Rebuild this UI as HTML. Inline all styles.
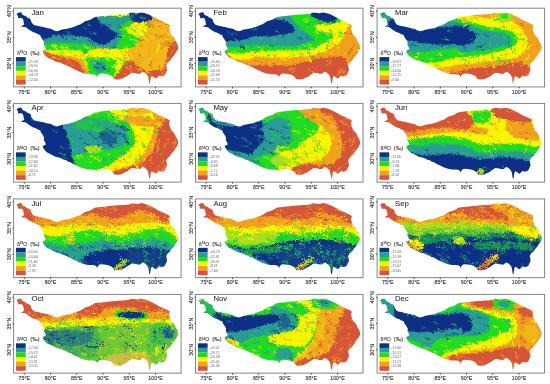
<!DOCTYPE html>
<html><head><meta charset="utf-8"><style>
html,body{margin:0;padding:0;background:#fff;width:550px;height:384px;overflow:hidden}
svg{display:block}
text{font-family:"Liberation Sans",Arial,sans-serif}
.tl{font-size:5.3px;fill:#333;stroke:#333;stroke-width:0.12px}
.ml{font-size:7.7px;fill:#1e1e1e;stroke:#1e1e1e;stroke-width:0.05px}
.lt{font-size:5.2px;fill:#2a2a2a;stroke:#2a2a2a;stroke-width:0.08px}
.ll{font-size:3.5px;fill:#8a8a8a;stroke:#9a9a9a;stroke-width:0.08px}
</style></head><body>
<svg width="550" height="384" viewBox="0 0 550 384">
<defs>
<filter id="nz" x="-5%" y="-5%" width="110%" height="110%" color-interpolation-filters="sRGB"><feTurbulence type="fractalNoise" baseFrequency="0.55" numOctaves="2" seed="7" result="t"/><feDisplacementMap in="SourceGraphic" in2="t" scale="4" xChannelSelector="R" yChannelSelector="G" result="d1"/><feTurbulence type="fractalNoise" baseFrequency="0.25" numOctaves="2" seed="13" result="t2"/><feDisplacementMap in="SourceGraphic" in2="t2" scale="9" xChannelSelector="G" yChannelSelector="R" result="d2"/><feTurbulence type="fractalNoise" baseFrequency="0.8" numOctaves="1" seed="5" result="t3"/><feColorMatrix in="t3" type="matrix" values="0 0 0 0 0  0 0 0 0 0  0 0 0 0 0  9 0 0 0 -4.6" result="m"/><feComposite in="d2" in2="m" operator="in" result="d2m"/><feMerge><feMergeNode in="d1"/><feMergeNode in="d2m"/></feMerge></filter>
<filter id="nz2" x="-5%" y="-5%" width="110%" height="110%" color-interpolation-filters="sRGB"><feTurbulence type="fractalNoise" baseFrequency="0.6" numOctaves="2" seed="3" result="t"/><feDisplacementMap in="SourceGraphic" in2="t" scale="5" xChannelSelector="R" yChannelSelector="G" result="d1"/><feTurbulence type="fractalNoise" baseFrequency="0.12 0.35" numOctaves="2" seed="21" result="t2"/><feDisplacementMap in="SourceGraphic" in2="t2" scale="16" xChannelSelector="G" yChannelSelector="R" result="d2"/><feTurbulence type="fractalNoise" baseFrequency="0.7" numOctaves="1" seed="9" result="t3"/><feColorMatrix in="t3" type="matrix" values="0 0 0 0 0  0 0 0 0 0  0 0 0 0 0  9 0 0 0 -4.4" result="m"/><feComposite in="d2" in2="m" operator="in" result="d2m"/><feMerge><feMergeNode in="d1"/><feMergeNode in="d2m"/></feMerge></filter>
<clipPath id="tp"><polygon points="19.0,12.5 20.9,12.2 21.8,13.1 22.1,14.4 24.0,15.6 25.9,16.2 27.1,17.5 29.0,18.1 30.2,19.1 31.2,20.3 30.9,21.6 31.8,22.5 32.8,24.1 34.0,25.0 35.9,25.6 38.0,25.9 41.5,26.7 43.4,27.0 46.5,27.9 49.6,28.6 52.1,29.2 52.8,30.1 55.2,30.8 56.0,31.3 58.9,30.7 61.8,29.6 65.5,28.9 69.1,28.2 72.0,27.5 74.9,26.4 77.8,25.3 80.7,24.2 82.9,22.7 85.1,21.3 88.0,20.5 90.9,19.5 93.1,18.0 95.3,16.9 100.9,16.2 105.3,15.7 111.9,15.1 118.4,14.6 122.8,14.2 126.0,14.1 128.6,13.7 130.4,12.8 133.9,12.8 137.3,13.2 141.7,12.4 145.2,13.2 148.7,14.5 152.2,16.3 154.8,17.6 158.3,19.8 162.6,21.5 166.1,23.3 168.8,24.6 170.1,25.9 169.2,27.2 169.4,29.8 170.3,32.5 171.2,35.0 173.3,36.7 175.0,39.2 175.8,41.7 177.1,43.3 177.9,45.8 178.3,48.3 177.1,50.8 175.4,53.3 173.8,55.8 171.7,58.3 170.0,60.8 167.5,62.7 166.2,65.2 166.7,67.7 167.1,70.2 165.8,72.7 165.0,74.8 163.3,76.0 160.8,76.4 159.6,75.6 157.9,76.8 156.2,78.5 155.0,78.1 153.3,76.8 151.7,76.0 150.8,77.7 150.4,81.0 150.0,83.5 149.2,83.1 148.8,80.2 148.3,77.2 147.5,75.2 145.8,73.5 144.2,72.2 142.5,71.8 141.2,72.7 140.4,73.8 137.5,73.8 134.5,73.1 131.6,72.7 129.5,74.2 126.5,76.4 123.6,77.8 120.7,79.3 117.1,79.6 114.2,79.3 112.7,76.7 110.5,75.3 107.6,74.2 104.0,73.8 101.8,73.5 99.6,73.8 97.8,75.6 97.1,77.5 96.4,75.6 94.5,74.5 91.6,74.2 88.7,74.2 85.8,73.8 82.9,73.1 80.0,72.0 77.1,70.5 74.9,69.5 72.7,68.4 70.5,66.9 68.4,66.5 66.2,65.1 64.0,64.4 60.6,62.8 57.7,62.1 55.5,61.4 52.6,59.9 49.7,58.4 46.8,57.0 44.6,54.8 43.1,52.6 42.7,50.8 44.6,50.0 46.0,48.9 44.9,46.8 43.8,44.6 44.2,42.4 43.1,40.2 41.6,38.0 40.9,37.0 40.2,35.1 37.8,34.2 35.9,33.1 33.4,32.2 31.5,31.2 29.6,30.0 27.8,28.8 26.5,27.5 24.6,26.9 22.5,26.7 20.9,26.4 22.1,25.7 24.3,24.4 23.7,22.5 23.4,20.6 22.8,18.8 20.9,17.8 19.0,18.4 18.1,17.5 17.8,15.6 16.5,14.4 17.5,13.2"/></clipPath>
</defs>

<g transform="translate(0.00,0.00)">
<g clip-path="url(#tp)"><g filter="url(#nz)"><rect x="10" y="5" width="175" height="85" fill="#f0a21e"/>
<polygon points="10.0,0.0 135.0,0.0 135.0,35.0 133.0,42.0 131.0,50.0 131.0,58.0 126.3,63.5 120.0,70.0 113.8,77.5 113.0,85.0 90.0,85.0 88.4,73.1 86.9,66.9 83.8,62.2 79.0,58.3 72.8,56.7 63.4,55.2 54.0,53.6 46.0,51.0 10.0,49.0" fill="#f8f500"/>
<polygon points="10.0,48.0 43.1,50.5 49.4,53.6 55.6,55.2 63.4,57.5 71.2,59.0 77.5,61.4 80.6,65.3 83.0,70.0 85.3,74.0 86.0,85.0 10.0,85.0" fill="#d4553a"/>
<polygon points="113.0,85.0 114.0,79.0 120.7,68.0 125.8,62.0 129.5,60.0 133.0,61.0 139.0,65.0 143.3,68.0 146.0,71.0 150.0,74.0 150.0,85.0" fill="#d4553a"/>
<polygon points="174.0,42.0 170.0,45.6 167.3,49.5 166.7,56.0 166.0,61.2 164.0,66.5 163.0,72.0 160.0,76.0 160.0,85.0 185.0,85.0 185.0,42.0" fill="#d4553a"/>
<polygon points="10.0,0.0 97.0,0.0 97.0,49.5 90.0,49.5 86.0,54.0 83.0,52.0 78.0,50.5 72.0,49.7 65.0,49.5 58.0,50.0 50.0,50.5 43.0,49.5 10.0,49.0" fill="#20dc20"/>
<polygon points="86.0,57.0 95.0,57.2 105.0,57.5 112.0,58.0 116.0,60.0 117.0,66.0 115.0,72.0 113.5,78.0 113.0,85.0 90.0,85.0 89.0,75.0 88.0,66.0" fill="#20dc20"/>
<polygon points="93.0,61.0 100.0,60.0 105.0,62.0 106.0,67.0 103.0,72.0 97.0,73.0 93.0,68.0" fill="#2a9c96"/>
<polygon points="128.0,36.0 140.0,34.0 155.0,38.0 166.0,42.0 166.0,60.0 160.0,70.0 148.0,72.0 135.0,64.0 128.0,55.0" fill="#f0b818"/>
<polygon points="122.0,24.0 135.0,22.0 145.0,22.0 150.0,24.0 148.0,30.0 145.0,35.0 138.0,38.0 130.0,40.0 125.0,40.0" fill="#f8f500"/>
<polygon points="145.0,22.0 160.0,22.0 166.0,24.0 168.0,30.0 165.0,34.0 155.0,36.0 145.0,35.0 148.0,30.0" fill="#f0b818"/>
<polygon points="146.0,74.0 152.0,70.0 160.0,70.0 165.0,72.0 165.0,80.0 146.0,80.0" fill="#d4553a"/>
<polygon points="111.0,21.0 125.0,20.0 132.0,17.0 135.0,22.0 130.0,26.0 125.0,28.0 127.0,33.0 137.0,36.0 139.0,42.0 135.0,47.0 125.0,49.0 113.0,49.0 113.0,40.0" fill="#20dc20"/>
<polygon points="10.0,0.0 97.0,0.0 97.0,20.0 110.0,25.0 115.0,35.0 115.0,44.0 110.0,48.0 100.0,47.0 91.6,45.8 83.8,44.2 74.4,43.4 65.0,42.7 55.6,43.4 44.7,43.4 40.0,42.0 10.0,42.0" fill="#2a9c96"/>
<polygon points="94.7,15.9 132.2,15.9 128.7,21.7 122.8,25.2 118.1,26.4 121.6,33.4 120.5,39.3 117.0,45.2 113.4,48.7 100.0,48.0 92.0,46.0 92.0,16.0" fill="#2a9c96"/>
<polygon points="10.0,0.0 97.0,0.0 97.0,19.4 101.7,22.9 107.6,27.6 113.4,31.1 118.1,34.6 115.8,38.1 111.1,40.5 106.4,44.0 101.7,45.2 95.9,42.8 90.0,38.0 83.8,36.5 77.5,36.0 71.2,35.5 65.0,35.5 58.8,35.0 52.5,36.0 46.2,37.5 44.0,40.0 42.0,42.0 10.0,42.0" fill="#0d2f86"/>
<polygon points="129.0,10.0 153.0,10.0 152.2,18.5 150.4,21.1 145.2,21.5 139.1,22.0 133.9,21.5 131.2,19.3 129.0,16.0" fill="#0d2f86"/>
<path d="M163.3,72.9l-2.2,2.9" stroke="#f0a21e" stroke-width="0.9" stroke-linecap="round"/>
<path d="M80.3,54.1l6.2,3.1" stroke="#f0a21e" stroke-width="0.8" stroke-linecap="round"/>
<path d="M126.5,51.6l3.4,5.5" stroke="#f0a21e" stroke-width="1.1" stroke-linecap="round"/>
<path d="M88.1,56.4l2.8,1.4" stroke="#20dc20" stroke-width="0.7" stroke-linecap="round"/>
<path d="M111.6,66.2l3.4,1.3" stroke="#f8f500" stroke-width="1.0" stroke-linecap="round"/>
<path d="M129.2,69.2l1.8,1.8" stroke="#f0a21e" stroke-width="0.8" stroke-linecap="round"/>
<path d="M124.2,72.7l5.1,3.4" stroke="#f0a21e" stroke-width="0.7" stroke-linecap="round"/>
<path d="M131.1,72.1l1.9,1.8" stroke="#f0a21e" stroke-width="1.1" stroke-linecap="round"/>
<path d="M143.0,27.9l2.6,0.6" stroke="#f0a21e" stroke-width="1.1" stroke-linecap="round"/>
<path d="M82.6,59.7l4.8,0.8" stroke="#20dc20" stroke-width="0.6" stroke-linecap="round"/>
<path d="M117.7,25.5l2.9,1.4" stroke="#0d2f86" stroke-width="0.8" stroke-linecap="round"/>
<path d="M175.2,43.8l-1.5,2.8" stroke="#f0a21e" stroke-width="0.9" stroke-linecap="round"/>
<path d="M58.5,58.0l4.1,0.7" stroke="#f0a21e" stroke-width="0.9" stroke-linecap="round"/>
<path d="M116.5,33.0l2.3,1.3" stroke="#0d2f86" stroke-width="0.7" stroke-linecap="round"/>
<path d="M150.4,73.4l-0.1,5.5" stroke="#f0a21e" stroke-width="0.6" stroke-linecap="round"/>
<path d="M123.8,56.9l4.3,5.4" stroke="#20dc20" stroke-width="0.9" stroke-linecap="round"/>
<path d="M144.1,57.5l0.6,3.3" stroke="#f0a21e" stroke-width="0.6" stroke-linecap="round"/>
<path d="M58.2,53.9l5.6,1.7" stroke="#20dc20" stroke-width="0.7" stroke-linecap="round"/>
<path d="M151.4,39.9l2.5,1.4" stroke="#f0a21e" stroke-width="1.0" stroke-linecap="round"/>
<path d="M127.8,63.8l4.0,4.7" stroke="#f0a21e" stroke-width="1.0" stroke-linecap="round"/>
<path d="M89.5,55.0l3.0,0.3" stroke="#f0a21e" stroke-width="0.9" stroke-linecap="round"/>
<path d="M166.0,41.5l-1.5,4.6" stroke="#d4553a" stroke-width="0.8" stroke-linecap="round"/>
<path d="M169.3,41.6l-1.9,4.8" stroke="#d4553a" stroke-width="0.9" stroke-linecap="round"/>
<path d="M48.0,55.0l5.5,2.4" stroke="#f0a21e" stroke-width="0.9" stroke-linecap="round"/>
<path d="M166.4,33.0l3.7,0.3" stroke="#f8f500" stroke-width="0.8" stroke-linecap="round"/>
<path d="M100.1,48.0l6.1,0.7" stroke="#f0a21e" stroke-width="0.7" stroke-linecap="round"/>
<path d="M140.3,43.8l1.2,5.7" stroke="#f0a21e" stroke-width="0.9" stroke-linecap="round"/>
<path d="M154.2,25.1l4.0,0.4" stroke="#f8f500" stroke-width="0.9" stroke-linecap="round"/>
<path d="M162.3,40.3l-0.7,2.7" stroke="#d4553a" stroke-width="1.0" stroke-linecap="round"/>
<path d="M135.5,35.9l4.9,1.2" stroke="#2a9c96" stroke-width="1.0" stroke-linecap="round"/>
<path d="M140.6,17.4l2.6,1.3" stroke="#2a9c96" stroke-width="0.6" stroke-linecap="round"/>
<path d="M63.9,45.5l3.0,0.3" stroke="#f8f500" stroke-width="0.7" stroke-linecap="round"/>
<path d="M88.3,57.8l4.5,0.9" stroke="#f8f500" stroke-width="0.7" stroke-linecap="round"/>
<path d="M101.6,48.2l6.0,0.9" stroke="#f0a21e" stroke-width="1.0" stroke-linecap="round"/>
<path d="M123.8,23.0l4.7,1.3" stroke="#20dc20" stroke-width="0.7" stroke-linecap="round"/>
<path d="M111.8,47.1l5.8,1.1" stroke="#20dc20" stroke-width="1.0" stroke-linecap="round"/>
<path d="M147.8,23.4l6.3,2.1" stroke="#d4553a" stroke-width="1.0" stroke-linecap="round"/>
<path d="M139.1,38.1l4.1,2.3" stroke="#d4553a" stroke-width="1.1" stroke-linecap="round"/>
<path d="M137.9,39.3l5.9,1.2" stroke="#2a9c96" stroke-width="0.8" stroke-linecap="round"/>
<path d="M55.8,58.0l4.2,2.2" stroke="#f0a21e" stroke-width="0.7" stroke-linecap="round"/>
<path d="M149.9,40.7l0.0,2.7" stroke="#f0a21e" stroke-width="1.0" stroke-linecap="round"/>
<path d="M68.0,50.8l3.7,1.3" stroke="#20dc20" stroke-width="0.9" stroke-linecap="round"/>
<path d="M148.6,19.7l2.5,1.3" stroke="#2a9c96" stroke-width="0.8" stroke-linecap="round"/>
<path d="M166.6,34.6l4.8,1.3" stroke="#f8f500" stroke-width="0.8" stroke-linecap="round"/>
<path d="M117.9,37.1l3.1,1.0" stroke="#20dc20" stroke-width="0.9" stroke-linecap="round"/>
<path d="M101.6,67.1l3.5,0.6" stroke="#0d2f86" stroke-width="0.7" stroke-linecap="round"/>
<path d="M82.6,60.4l2.6,1.0" stroke="#20dc20" stroke-width="0.8" stroke-linecap="round"/>
<path d="M143.8,38.5l4.8,2.3" stroke="#f8f500" stroke-width="1.0" stroke-linecap="round"/>
<path d="M97.8,59.8l2.6,0.7" stroke="#f8f500" stroke-width="0.8" stroke-linecap="round"/>
<path d="M121.0,31.6l4.8,1.4" stroke="#2a9c96" stroke-width="0.6" stroke-linecap="round"/>
<path d="M96.8,63.9l5.9,0.6" stroke="#0d2f86" stroke-width="0.7" stroke-linecap="round"/>
<path d="M142.1,44.9l0.5,2.6" stroke="#d4553a" stroke-width="0.9" stroke-linecap="round"/>
<path d="M124.6,58.9l2.7,3.3" stroke="#f0a21e" stroke-width="1.0" stroke-linecap="round"/>
<path d="M133.6,24.7l3.5,1.8" stroke="#f0a21e" stroke-width="0.6" stroke-linecap="round"/>
<path d="M116.6,70.0l5.9,1.2" stroke="#20dc20" stroke-width="1.1" stroke-linecap="round"/>
<path d="M112.8,59.1l3.9,1.1" stroke="#f8f500" stroke-width="1.0" stroke-linecap="round"/>
<path d="M148.1,76.1l0.7,5.0" stroke="#f0a21e" stroke-width="0.7" stroke-linecap="round"/>
<path d="M166.0,24.5l4.6,1.1" stroke="#d4553a" stroke-width="0.8" stroke-linecap="round"/>
<path d="M115.1,57.2l5.3,2.3" stroke="#20dc20" stroke-width="0.7" stroke-linecap="round"/>
<path d="M132.9,55.5l1.5,3.1" stroke="#f0a21e" stroke-width="0.7" stroke-linecap="round"/>
<path d="M132.8,13.4l5.8,0.6" stroke="#2a9c96" stroke-width="1.1" stroke-linecap="round"/>
<path d="M156.6,25.5l3.6,1.4" stroke="#f8f500" stroke-width="0.8" stroke-linecap="round"/>
<path d="M113.0,67.0l3.7,0.6" stroke="#f8f500" stroke-width="1.0" stroke-linecap="round"/>
<path d="M162.9,58.1l-1.1,2.8" stroke="#f0a21e" stroke-width="0.7" stroke-linecap="round"/>
<path d="M130.6,54.6l2.3,4.3" stroke="#f8f500" stroke-width="0.9" stroke-linecap="round"/>
<path d="M139.1,40.8l1.4,6.2" stroke="#f0a21e" stroke-width="0.8" stroke-linecap="round"/>
<path d="M60.0,47.1l4.4,0.4" stroke="#f8f500" stroke-width="0.9" stroke-linecap="round"/>
<path d="M164.1,38.8l5.8,1.1" stroke="#f8f500" stroke-width="0.8" stroke-linecap="round"/>
<path d="M160.2,39.8l3.2,0.4" stroke="#f8f500" stroke-width="0.8" stroke-linecap="round"/>
<path d="M139.2,68.0l2.4,4.8" stroke="#f0a21e" stroke-width="1.1" stroke-linecap="round"/>
<path d="M150.0,31.5l3.0,1.7" stroke="#f0a21e" stroke-width="0.7" stroke-linecap="round"/>
<path d="M130.6,26.2l6.3,0.6" stroke="#f0a21e" stroke-width="0.7" stroke-linecap="round"/>
<path d="M121.6,60.1l4.5,4.8" stroke="#20dc20" stroke-width="1.1" stroke-linecap="round"/>
<path d="M147.4,24.8l6.2,2.6" stroke="#d4553a" stroke-width="1.0" stroke-linecap="round"/>
<path d="M131.1,67.0l1.6,1.9" stroke="#f0a21e" stroke-width="0.8" stroke-linecap="round"/>
<path d="M122.5,35.4l5.7,1.3" stroke="#f8f500" stroke-width="0.9" stroke-linecap="round"/>
<path d="M135.8,28.3l6.4,2.4" stroke="#f0a21e" stroke-width="0.9" stroke-linecap="round"/>
<path d="M120.6,63.4l2.9,2.6" stroke="#20dc20" stroke-width="0.6" stroke-linecap="round"/>
<path d="M87.4,60.3l6.5,2.6" stroke="#2a9c96" stroke-width="1.0" stroke-linecap="round"/>
<path d="M134.8,23.1l6.0,1.8" stroke="#f0a21e" stroke-width="0.7" stroke-linecap="round"/>
<path d="M121.6,51.4l3.6,5.0" stroke="#f0a21e" stroke-width="1.1" stroke-linecap="round"/>
<path d="M141.5,59.0l0.9,3.2" stroke="#f0a21e" stroke-width="0.6" stroke-linecap="round"/>
<path d="M82.7,45.5l5.5,2.0" stroke="#f8f500" stroke-width="0.9" stroke-linecap="round"/>
<path d="M134.1,41.4l1.5,4.6" stroke="#f8f500" stroke-width="0.6" stroke-linecap="round"/>
<path d="M71.8,38.3l3.7,0.9" stroke="#0d2f86" stroke-width="1.0" stroke-linecap="round"/>
<path d="M150.9,24.7l3.5,1.5" stroke="#f0a21e" stroke-width="1.1" stroke-linecap="round"/>
<path d="M149.6,52.5l0.0,3.3" stroke="#f0a21e" stroke-width="0.7" stroke-linecap="round"/>
<path d="M119.0,36.5l2.8,0.8" stroke="#0d2f86" stroke-width="1.0" stroke-linecap="round"/>
<path d="M149.4,54.9l0.0,2.5" stroke="#f0a21e" stroke-width="0.7" stroke-linecap="round"/>
<path d="M102.0,67.7l5.5,2.8" stroke="#0d2f86" stroke-width="1.0" stroke-linecap="round"/>
<path d="M141.7,37.8l2.4,1.0" stroke="#f8f500" stroke-width="0.9" stroke-linecap="round"/>
<path d="M126.8,46.0l2.0,3.7" stroke="#f8f500" stroke-width="0.6" stroke-linecap="round"/>
<path d="M108.3,23.8l2.5,1.4" stroke="#0d2f86" stroke-width="0.9" stroke-linecap="round"/>
<path d="M122.1,30.1l2.7,0.3" stroke="#f8f500" stroke-width="0.6" stroke-linecap="round"/>
<path d="M138.0,51.5l1.8,5.7" stroke="#f0a21e" stroke-width="0.7" stroke-linecap="round"/>
<path d="M142.6,31.4l2.8,1.2" stroke="#20dc20" stroke-width="0.9" stroke-linecap="round"/>
<path d="M162.4,44.6l-1.2,4.2" stroke="#d4553a" stroke-width="0.7" stroke-linecap="round"/>
<path d="M116.4,16.8l5.2,1.1" stroke="#20dc20" stroke-width="0.7" stroke-linecap="round"/>
<path d="M27.4,17.8l5.6,2.1" stroke="#20dc20" stroke-width="1.1" stroke-linecap="round"/>
<path d="M137.1,42.0l0.7,2.7" stroke="#f8f500" stroke-width="1.0" stroke-linecap="round"/>
<path d="M63.9,47.7l4.3,1.3" stroke="#f8f500" stroke-width="0.8" stroke-linecap="round"/>
<path d="M114.6,16.5l3.0,1.4" stroke="#20dc20" stroke-width="0.9" stroke-linecap="round"/>
<path d="M133.3,35.2l4.7,1.6" stroke="#f8f500" stroke-width="0.9" stroke-linecap="round"/>
<path d="M74.8,55.3l2.6,0.9" stroke="#20dc20" stroke-width="0.7" stroke-linecap="round"/>
<path d="M135.6,32.3l3.3,0.7" stroke="#20dc20" stroke-width="0.8" stroke-linecap="round"/>
<path d="M90.7,58.2l5.7,0.8" stroke="#f8f500" stroke-width="0.9" stroke-linecap="round"/>
<path d="M85.6,59.0l4.6,2.2" stroke="#20dc20" stroke-width="0.8" stroke-linecap="round"/>
<path d="M126.3,51.6l3.0,4.9" stroke="#f0a21e" stroke-width="0.9" stroke-linecap="round"/>
<path d="M90.0,32.7l6.0,1.4" stroke="#2a9c96" stroke-width="0.9" stroke-linecap="round"/>
<path d="M150.4,36.9l3.5,0.4" stroke="#f8f500" stroke-width="0.8" stroke-linecap="round"/>
<path d="M121.8,58.4l3.1,3.5" stroke="#f0a21e" stroke-width="0.9" stroke-linecap="round"/>
<path d="M134.0,60.8l2.0,3.6" stroke="#f0a21e" stroke-width="0.8" stroke-linecap="round"/>
<path d="M166.4,64.3l-2.8,4.4" stroke="#f0a21e" stroke-width="0.9" stroke-linecap="round"/>
<path d="M142.4,43.9l0.4,2.7" stroke="#f0a21e" stroke-width="1.0" stroke-linecap="round"/>
<path d="M82.4,43.0l2.4,0.6" stroke="#20dc20" stroke-width="0.7" stroke-linecap="round"/>
<path d="M71.5,65.5l2.5,0.7" stroke="#f0a21e" stroke-width="0.7" stroke-linecap="round"/>
<path d="M154.6,57.6l-0.4,2.6" stroke="#f0a21e" stroke-width="0.8" stroke-linecap="round"/>
<path d="M109.3,16.9l3.6,2.1" stroke="#20dc20" stroke-width="0.8" stroke-linecap="round"/>
<path d="M157.9,47.7l-0.8,4.4" stroke="#f8f500" stroke-width="0.9" stroke-linecap="round"/>
<path d="M119.0,50.5l2.4,3.0" stroke="#f0a21e" stroke-width="0.9" stroke-linecap="round"/>
<path d="M156.5,20.3l5.3,1.2" stroke="#d4553a" stroke-width="0.9" stroke-linecap="round"/>
<path d="M82.1,68.1l3.6,0.6" stroke="#f8f500" stroke-width="1.0" stroke-linecap="round"/>
<path d="M98.6,47.9l3.1,1.5" stroke="#f0a21e" stroke-width="0.9" stroke-linecap="round"/>
<path d="M131.2,28.6l5.5,2.3" stroke="#20dc20" stroke-width="0.9" stroke-linecap="round"/>
<path d="M67.8,62.3l4.2,1.4" stroke="#f0a21e" stroke-width="1.0" stroke-linecap="round"/>
<path d="M55.3,42.2l2.7,0.6" stroke="#20dc20" stroke-width="0.7" stroke-linecap="round"/>
<path d="M87.4,57.0l6.3,2.1" stroke="#20dc20" stroke-width="1.0" stroke-linecap="round"/>
<path d="M164.0,43.7l-1.7,5.6" stroke="#f0a21e" stroke-width="1.0" stroke-linecap="round"/>
<path d="M85.7,45.1l3.2,0.7" stroke="#2a9c96" stroke-width="0.8" stroke-linecap="round"/>
<path d="M151.0,62.1l-0.2,5.6" stroke="#d4553a" stroke-width="1.1" stroke-linecap="round"/>
<path d="M103.3,50.9l5.2,2.4" stroke="#20dc20" stroke-width="0.8" stroke-linecap="round"/>
<path d="M144.8,25.2l6.1,1.4" stroke="#20dc20" stroke-width="1.0" stroke-linecap="round"/>
<path d="M124.7,46.0l2.5,4.3" stroke="#f8f500" stroke-width="0.7" stroke-linecap="round"/>
<path d="M88.3,39.9l5.3,2.7" stroke="#0d2f86" stroke-width="0.9" stroke-linecap="round"/>
<path d="M62.1,37.2l4.7,2.2" stroke="#0d2f86" stroke-width="0.9" stroke-linecap="round"/>
<path d="M155.3,34.4l6.6,1.7" stroke="#d4553a" stroke-width="1.0" stroke-linecap="round"/>
<path d="M145.8,68.8l1.1,5.6" stroke="#f0a21e" stroke-width="0.7" stroke-linecap="round"/>
<path d="M167.6,56.8l-2.2,4.1" stroke="#f0a21e" stroke-width="0.7" stroke-linecap="round"/>
<path d="M88.2,71.2l6.4,2.6" stroke="#20dc20" stroke-width="0.7" stroke-linecap="round"/>
<path d="M92.3,62.6l2.9,0.4" stroke="#f8f500" stroke-width="0.7" stroke-linecap="round"/>
<path d="M141.2,17.1l4.2,1.3" stroke="#20dc20" stroke-width="1.0" stroke-linecap="round"/>
<path d="M52.9,46.6l4.9,2.3" stroke="#f8f500" stroke-width="1.1" stroke-linecap="round"/>
<path d="M166.4,25.6l4.4,1.1" stroke="#f8f500" stroke-width="0.9" stroke-linecap="round"/>
<path d="M128.5,15.6l4.7,1.2" stroke="#20dc20" stroke-width="1.0" stroke-linecap="round"/>
<path d="M167.9,47.2l-2.6,6.1" stroke="#f8f500" stroke-width="1.0" stroke-linecap="round"/>
<path d="M130.2,39.1l5.9,1.2" stroke="#f8f500" stroke-width="1.0" stroke-linecap="round"/>
<path d="M83.9,28.1l2.4,0.9" stroke="#20dc20" stroke-width="0.7" stroke-linecap="round"/>
<path d="M87.9,24.5l3.8,1.4" stroke="#2a9c96" stroke-width="0.8" stroke-linecap="round"/>
<path d="M51.2,44.0l4.3,1.9" stroke="#f8f500" stroke-width="0.7" stroke-linecap="round"/>
<path d="M136.6,58.2l1.6,3.9" stroke="#d4553a" stroke-width="0.6" stroke-linecap="round"/>
<path d="M118.4,78.1l5.7,2.1" stroke="#f0a21e" stroke-width="0.7" stroke-linecap="round"/>
<path d="M73.6,47.1l2.5,1.5" stroke="#2a9c96" stroke-width="0.8" stroke-linecap="round"/>
<path d="M105.2,58.8l4.8,2.4" stroke="#f8f500" stroke-width="0.8" stroke-linecap="round"/>
<path d="M95.1,67.0l4.2,2.3" stroke="#0d2f86" stroke-width="0.7" stroke-linecap="round"/>
<path d="M139.2,54.2l1.5,4.8" stroke="#d4553a" stroke-width="0.9" stroke-linecap="round"/>
<path d="M163.6,73.6l-2.2,2.6" stroke="#f0a21e" stroke-width="0.6" stroke-linecap="round"/>
<path d="M125.5,66.4l3.8,3.7" stroke="#f0a21e" stroke-width="1.0" stroke-linecap="round"/>
<path d="M88.0,47.7l2.8,1.2" stroke="#f8f500" stroke-width="0.6" stroke-linecap="round"/>
<path d="M52.6,45.5l3.7,1.0" stroke="#f8f500" stroke-width="1.0" stroke-linecap="round"/>
<path d="M113.9,63.8l4.4,2.0" stroke="#f8f500" stroke-width="1.0" stroke-linecap="round"/>
<path d="M76.8,36.7l4.8,2.7" stroke="#20dc20" stroke-width="0.8" stroke-linecap="round"/>
<path d="M59.8,52.7l4.0,1.0" stroke="#20dc20" stroke-width="0.9" stroke-linecap="round"/>
<path d="M135.7,67.5l2.3,3.7" stroke="#f0a21e" stroke-width="0.9" stroke-linecap="round"/>
<path d="M158.6,26.1l3.8,0.6" stroke="#d4553a" stroke-width="1.0" stroke-linecap="round"/>
<path d="M111.8,47.1l4.9,0.6" stroke="#0d2f86" stroke-width="1.0" stroke-linecap="round"/>
<path d="M142.5,38.6l3.7,2.1" stroke="#f0a21e" stroke-width="0.9" stroke-linecap="round"/>
<path d="M159.3,44.3l-1.0,4.9" stroke="#f8f500" stroke-width="1.0" stroke-linecap="round"/>
<path d="M172.9,50.7l-1.3,2.3" stroke="#f0a21e" stroke-width="1.0" stroke-linecap="round"/>
<path d="M51.6,56.8l4.5,1.2" stroke="#f0a21e" stroke-width="1.1" stroke-linecap="round"/>
<path d="M83.8,43.0l6.0,1.7" stroke="#20dc20" stroke-width="0.7" stroke-linecap="round"/>
<path d="M161.2,63.3l-1.6,3.8" stroke="#f8f500" stroke-width="1.0" stroke-linecap="round"/>
<path d="M160.7,26.2l3.8,1.8" stroke="#f0a21e" stroke-width="0.9" stroke-linecap="round"/>
<path d="M160.3,64.3l-1.8,4.4" stroke="#d4553a" stroke-width="0.8" stroke-linecap="round"/>
<path d="M84.1,51.1l4.8,2.3" stroke="#2a9c96" stroke-width="0.9" stroke-linecap="round"/>
<path d="M148.5,50.9l0.2,5.0" stroke="#f0a21e" stroke-width="0.9" stroke-linecap="round"/>
<path d="M66.0,58.9l4.5,1.5" stroke="#f0a21e" stroke-width="0.9" stroke-linecap="round"/>
<path d="M123.6,55.6l2.8,3.6" stroke="#f0a21e" stroke-width="1.0" stroke-linecap="round"/>
<path d="M102.6,61.3l6.0,2.2" stroke="#20dc20" stroke-width="0.9" stroke-linecap="round"/>
<path d="M66.4,31.6l6.4,2.9" stroke="#2a9c96" stroke-width="0.9" stroke-linecap="round"/>
<path d="M131.0,43.0l1.0,2.5" stroke="#2a9c96" stroke-width="0.9" stroke-linecap="round"/>
</g></g>
<rect x="13.6" y="8.2" width="167.50" height="78.70" fill="none" stroke="#858585" stroke-width="1.0"/>
<path d="M24.30,86.90v1.5M50.55,86.90v1.5M76.80,86.90v1.5M103.05,86.90v1.5M129.30,86.90v1.5M155.55,86.90v1.5M13.60,11.10h-1.1M13.60,37.35h-1.1M13.60,63.60h-1.1" stroke="#222" stroke-width="0.8" fill="none"/>
<text class="tl" x="24.30" y="93.7" text-anchor="middle">75°E</text>
<text class="tl" x="50.55" y="93.7" text-anchor="middle">80°E</text>
<text class="tl" x="76.80" y="93.7" text-anchor="middle">85°E</text>
<text class="tl" x="103.05" y="93.7" text-anchor="middle">90°E</text>
<text class="tl" x="129.30" y="93.7" text-anchor="middle">95°E</text>
<text class="tl" x="155.55" y="93.7" text-anchor="middle">100°E</text>
<text class="tl" transform="translate(10.6,11.10) rotate(-90)" text-anchor="middle">40°N</text>
<text class="tl" transform="translate(10.6,37.35) rotate(-90)" text-anchor="middle">35°N</text>
<text class="tl" transform="translate(10.6,63.60) rotate(-90)" text-anchor="middle">30°N</text>
<text class="ml" x="31.5" y="15.2">Jan</text>
<text class="lt" x="16.9" y="55.0">δ<tspan font-size="3.2px" dy="-1.6">18</tspan><tspan dy="1.6">O</tspan></text><text class="lt" x="30.3" y="55.0" textLength="9.3" lengthAdjust="spacingAndGlyphs">(‰)</text>
<rect x="16.0" y="57.10" width="9.7" height="4.62" fill="#0d2f86"/>
<rect x="16.0" y="61.67" width="9.7" height="4.62" fill="#2a9c96"/>
<rect x="16.0" y="66.24" width="9.7" height="4.62" fill="#20dc20"/>
<rect x="16.0" y="70.81" width="9.7" height="4.62" fill="#f8f500"/>
<rect x="16.0" y="75.38" width="9.7" height="4.62" fill="#f0a21e"/>
<rect x="16.0" y="79.95" width="9.7" height="4.62" fill="#d4553a"/>
<text class="ll" x="27.8" y="62.77">-21.38</text>
<text class="ll" x="27.8" y="67.34">-18.56</text>
<text class="ll" x="27.8" y="71.91">-16.36</text>
<text class="ll" x="27.8" y="76.48">-14.70</text>
<text class="ll" x="27.8" y="81.05">-12.40</text>
</g>
<g transform="translate(181.92,0.00)">
<g clip-path="url(#tp)"><g filter="url(#nz)"><rect x="10" y="5" width="175" height="85" fill="#d4553a"/>
<polygon points="10.0,50.0 44.0,52.0 50.2,59.5 60.5,62.5 68.7,65.6 77.0,65.6 85.2,64.6 96.0,65.5 106.4,65.6 116.7,63.6 129.0,60.5 137.3,57.4 147.6,57.4 157.9,56.4 164.0,58.4 166.1,65.6 168.0,90.0 185.0,90.0 185.0,0.0 10.0,0.0" fill="#f0a21e"/>
<polygon points="10.0,48.0 44.0,50.0 48.1,57.4 58.4,59.5 66.7,59.5 73.2,56.7 85.2,57.4 99.2,58.0 116.7,56.4 125.2,56.7 133.2,54.3 143.5,51.2 151.7,47.1 157.9,42.0 162.0,36.8 164.0,30.6 167.1,24.5 170.0,20.0 172.0,0.0 172.0,0.0 10.0,0.0" fill="#f8f500"/>
<polygon points="10.0,47.0 44.0,52.2 54.3,54.3 64.6,52.2 73.2,51.5 85.2,51.0 99.2,50.2 112.6,50.5 125.2,50.2 133.2,48.9 137.3,45.0 147.6,41.0 151.7,36.8 149.6,32.7 141.4,32.7 135.2,30.6 133.2,26.5 135.2,24.5 147.6,24.5 157.9,22.4 160.0,0.0 160.0,0.0 10.0,0.0" fill="#20dc20"/>
<polygon points="10.0,45.0 44.0,47.1 54.3,47.1 64.6,45.5 73.2,45.0 86.2,45.6 99.2,46.9 112.2,46.2 122.6,43.6 131.7,41.0 133.2,38.9 127.0,34.7 118.8,28.6 112.6,22.4 108.5,16.2 108.0,0.0 108.0,0.0 10.0,0.0" fill="#2a9c96"/>
<polygon points="10.0,0.0 90.0,0.0 92.0,19.0 100.0,20.0 104.4,21.0 110.6,24.5 113.6,30.6 109.6,33.2 99.0,35.0 86.0,36.3 74.0,36.0 64.6,38.9 54.3,40.9 44.0,42.0 10.0,42.0" fill="#0d2f86"/>
<polygon points="129.0,10.0 129.0,16.2 137.3,20.3 145.5,22.4 153.8,21.4 155.8,17.3 155.0,10.0" fill="#0d2f86"/>
<path d="M144.6,34.4l3.3,1.5" stroke="#f8f500" stroke-width="0.9" stroke-linecap="round"/>
<path d="M126.7,44.8l1.9,3.8" stroke="#f8f500" stroke-width="0.9" stroke-linecap="round"/>
<path d="M122.0,44.7l1.4,2.3" stroke="#f8f500" stroke-width="0.9" stroke-linecap="round"/>
<path d="M159.0,68.3l-2.5,6.1" stroke="#f0a21e" stroke-width="1.0" stroke-linecap="round"/>
<path d="M81.1,51.0l5.2,1.7" stroke="#f8f500" stroke-width="0.8" stroke-linecap="round"/>
<path d="M168.8,51.5l-2.3,4.8" stroke="#d4553a" stroke-width="0.7" stroke-linecap="round"/>
<path d="M131.0,56.2l3.1,5.4" stroke="#d4553a" stroke-width="1.0" stroke-linecap="round"/>
<path d="M132.9,33.0l3.8,0.4" stroke="#f8f500" stroke-width="0.7" stroke-linecap="round"/>
<path d="M71.2,49.4l6.1,3.4" stroke="#2a9c96" stroke-width="0.7" stroke-linecap="round"/>
<path d="M58.1,46.0l4.7,1.9" stroke="#0d2f86" stroke-width="1.1" stroke-linecap="round"/>
<path d="M75.4,63.6l6.1,1.7" stroke="#f8f500" stroke-width="0.8" stroke-linecap="round"/>
<path d="M86.9,64.0l4.0,2.0" stroke="#f8f500" stroke-width="0.7" stroke-linecap="round"/>
<path d="M156.4,43.4l-0.8,5.6" stroke="#f8f500" stroke-width="1.0" stroke-linecap="round"/>
<path d="M142.2,35.3l4.6,1.0" stroke="#2a9c96" stroke-width="0.9" stroke-linecap="round"/>
<path d="M123.7,47.7l3.4,5.5" stroke="#2a9c96" stroke-width="1.1" stroke-linecap="round"/>
<path d="M122.7,17.9l3.7,2.1" stroke="#f8f500" stroke-width="1.1" stroke-linecap="round"/>
<path d="M106.9,69.2l4.4,2.5" stroke="#f0a21e" stroke-width="1.1" stroke-linecap="round"/>
<path d="M136.9,51.3l1.8,5.2" stroke="#20dc20" stroke-width="0.9" stroke-linecap="round"/>
<path d="M136.8,23.0l3.2,1.5" stroke="#2a9c96" stroke-width="1.1" stroke-linecap="round"/>
<path d="M164.7,72.7l-4.2,5.0" stroke="#f0a21e" stroke-width="0.9" stroke-linecap="round"/>
<path d="M153.5,44.1l-0.2,2.9" stroke="#f0a21e" stroke-width="0.9" stroke-linecap="round"/>
<path d="M127.8,54.6l2.2,3.5" stroke="#20dc20" stroke-width="0.9" stroke-linecap="round"/>
<path d="M170.1,47.2l-2.2,4.7" stroke="#d4553a" stroke-width="0.7" stroke-linecap="round"/>
<path d="M75.1,37.5l6.2,1.2" stroke="#20dc20" stroke-width="0.7" stroke-linecap="round"/>
<path d="M147.8,32.1l3.0,0.8" stroke="#f0a21e" stroke-width="1.0" stroke-linecap="round"/>
<path d="M146.3,39.8l4.3,0.6" stroke="#f8f500" stroke-width="1.0" stroke-linecap="round"/>
<path d="M119.4,53.6l2.3,2.8" stroke="#f0a21e" stroke-width="0.9" stroke-linecap="round"/>
<path d="M137.7,30.0l5.1,2.6" stroke="#20dc20" stroke-width="0.9" stroke-linecap="round"/>
<path d="M88.5,45.5l3.2,1.3" stroke="#0d2f86" stroke-width="0.8" stroke-linecap="round"/>
<path d="M54.1,52.0l5.5,3.0" stroke="#f8f500" stroke-width="0.8" stroke-linecap="round"/>
<path d="M52.1,38.8l4.2,2.0" stroke="#20dc20" stroke-width="0.6" stroke-linecap="round"/>
<path d="M177.3,48.6l-3.7,5.6" stroke="#d4553a" stroke-width="0.8" stroke-linecap="round"/>
<path d="M156.9,32.6l5.3,1.5" stroke="#20dc20" stroke-width="1.0" stroke-linecap="round"/>
<path d="M87.1,65.3l2.7,1.0" stroke="#f0a21e" stroke-width="0.7" stroke-linecap="round"/>
<path d="M82.8,54.2l4.9,1.5" stroke="#20dc20" stroke-width="1.0" stroke-linecap="round"/>
<path d="M147.4,29.9l2.5,1.1" stroke="#20dc20" stroke-width="1.0" stroke-linecap="round"/>
<path d="M115.6,53.7l4.7,1.2" stroke="#20dc20" stroke-width="0.7" stroke-linecap="round"/>
<path d="M100.9,18.4l4.3,1.0" stroke="#20dc20" stroke-width="0.7" stroke-linecap="round"/>
<path d="M148.9,51.0l0.1,3.9" stroke="#f8f500" stroke-width="0.9" stroke-linecap="round"/>
<path d="M150.0,41.1l-0.0,3.9" stroke="#f0a21e" stroke-width="1.0" stroke-linecap="round"/>
<path d="M92.6,30.6l5.1,1.4" stroke="#2a9c96" stroke-width="0.9" stroke-linecap="round"/>
<path d="M89.2,38.2l5.9,1.9" stroke="#20dc20" stroke-width="0.8" stroke-linecap="round"/>
<path d="M117.8,48.7l4.3,2.4" stroke="#f8f500" stroke-width="0.7" stroke-linecap="round"/>
<path d="M48.3,52.0l5.7,1.6" stroke="#f8f500" stroke-width="1.0" stroke-linecap="round"/>
<path d="M96.4,56.3l5.8,2.1" stroke="#f0a21e" stroke-width="0.7" stroke-linecap="round"/>
<path d="M122.4,20.4l4.6,2.2" stroke="#f8f500" stroke-width="0.7" stroke-linecap="round"/>
<path d="M109.0,45.7l5.3,2.3" stroke="#20dc20" stroke-width="1.1" stroke-linecap="round"/>
<path d="M115.7,37.8l4.4,1.2" stroke="#0d2f86" stroke-width="0.8" stroke-linecap="round"/>
<path d="M165.9,24.8l4.2,2.0" stroke="#f0a21e" stroke-width="1.1" stroke-linecap="round"/>
<path d="M155.5,35.9l5.4,1.1" stroke="#20dc20" stroke-width="1.1" stroke-linecap="round"/>
<path d="M51.2,33.2l4.4,0.9" stroke="#2a9c96" stroke-width="0.8" stroke-linecap="round"/>
<path d="M130.2,57.2l3.3,5.5" stroke="#d4553a" stroke-width="0.7" stroke-linecap="round"/>
<path d="M163.0,70.1l-2.4,3.8" stroke="#f0a21e" stroke-width="0.8" stroke-linecap="round"/>
<path d="M172.5,44.8l-2.5,5.0" stroke="#d4553a" stroke-width="1.0" stroke-linecap="round"/>
<path d="M168.2,25.9l4.5,2.1" stroke="#f8f500" stroke-width="1.0" stroke-linecap="round"/>
<path d="M116.6,63.6l4.7,0.7" stroke="#d4553a" stroke-width="0.7" stroke-linecap="round"/>
<path d="M152.0,34.4l5.0,1.6" stroke="#f0a21e" stroke-width="0.9" stroke-linecap="round"/>
<path d="M76.3,46.9l4.7,2.0" stroke="#f8f500" stroke-width="0.7" stroke-linecap="round"/>
<path d="M109.5,67.9l4.4,1.3" stroke="#f0a21e" stroke-width="1.0" stroke-linecap="round"/>
<path d="M168.0,50.7l-1.8,3.9" stroke="#d4553a" stroke-width="1.1" stroke-linecap="round"/>
<path d="M90.7,63.8l5.0,2.5" stroke="#d4553a" stroke-width="0.8" stroke-linecap="round"/>
<path d="M70.3,29.1l5.2,1.0" stroke="#2a9c96" stroke-width="0.7" stroke-linecap="round"/>
<path d="M155.6,21.2l3.4,0.6" stroke="#2a9c96" stroke-width="0.7" stroke-linecap="round"/>
<path d="M124.3,23.7l4.4,0.9" stroke="#2a9c96" stroke-width="1.0" stroke-linecap="round"/>
<path d="M160.5,69.2l-2.9,5.8" stroke="#f0a21e" stroke-width="0.8" stroke-linecap="round"/>
<path d="M148.3,49.5l0.2,5.4" stroke="#d4553a" stroke-width="0.7" stroke-linecap="round"/>
<path d="M92.2,55.2l3.0,0.5" stroke="#20dc20" stroke-width="1.0" stroke-linecap="round"/>
<path d="M107.8,53.5l4.7,2.5" stroke="#20dc20" stroke-width="0.7" stroke-linecap="round"/>
<path d="M129.5,71.7l3.8,3.4" stroke="#f0a21e" stroke-width="1.0" stroke-linecap="round"/>
<path d="M126.4,68.4l2.4,2.2" stroke="#f0a21e" stroke-width="0.8" stroke-linecap="round"/>
<path d="M146.2,40.3l0.4,5.1" stroke="#2a9c96" stroke-width="0.7" stroke-linecap="round"/>
<path d="M144.8,42.2l0.5,4.9" stroke="#f0a21e" stroke-width="0.7" stroke-linecap="round"/>
<path d="M176.7,49.4l-2.1,3.2" stroke="#f8f500" stroke-width="1.0" stroke-linecap="round"/>
<path d="M163.4,32.9l6.7,0.6" stroke="#d4553a" stroke-width="0.7" stroke-linecap="round"/>
<path d="M145.0,59.4l1.0,5.9" stroke="#f0a21e" stroke-width="0.7" stroke-linecap="round"/>
<path d="M45.2,51.4l2.6,1.2" stroke="#2a9c96" stroke-width="0.8" stroke-linecap="round"/>
<path d="M126.1,57.3l3.3,4.5" stroke="#f8f500" stroke-width="1.1" stroke-linecap="round"/>
<path d="M73.4,60.3l4.0,1.1" stroke="#d4553a" stroke-width="0.7" stroke-linecap="round"/>
<path d="M153.7,22.9l2.8,1.5" stroke="#f8f500" stroke-width="0.8" stroke-linecap="round"/>
<path d="M146.9,56.2l0.5,5.9" stroke="#d4553a" stroke-width="0.7" stroke-linecap="round"/>
<path d="M125.1,35.7l2.4,1.3" stroke="#0d2f86" stroke-width="0.8" stroke-linecap="round"/>
<path d="M68.2,54.9l5.7,1.7" stroke="#f0a21e" stroke-width="0.8" stroke-linecap="round"/>
<path d="M128.3,44.0l2.8,5.9" stroke="#f8f500" stroke-width="0.7" stroke-linecap="round"/>
<path d="M104.9,73.6l6.3,3.1" stroke="#f0a21e" stroke-width="0.8" stroke-linecap="round"/>
<path d="M171.5,55.6l-3.7,5.9" stroke="#d4553a" stroke-width="0.8" stroke-linecap="round"/>
<path d="M78.2,63.0l3.7,1.9" stroke="#d4553a" stroke-width="0.8" stroke-linecap="round"/>
<path d="M148.0,59.2l0.3,5.1" stroke="#f0a21e" stroke-width="0.9" stroke-linecap="round"/>
<path d="M145.1,46.0l0.4,3.4" stroke="#20dc20" stroke-width="1.0" stroke-linecap="round"/>
<path d="M46.2,32.6l4.5,1.9" stroke="#2a9c96" stroke-width="0.8" stroke-linecap="round"/>
<path d="M98.8,58.8l6.0,0.8" stroke="#f8f500" stroke-width="0.8" stroke-linecap="round"/>
</g></g>
<rect x="13.6" y="8.2" width="167.50" height="78.70" fill="none" stroke="#858585" stroke-width="1.0"/>
<path d="M24.30,86.90v1.5M50.55,86.90v1.5M76.80,86.90v1.5M103.05,86.90v1.5M129.30,86.90v1.5M155.55,86.90v1.5M13.60,11.10h-1.1M13.60,37.35h-1.1M13.60,63.60h-1.1" stroke="#222" stroke-width="0.8" fill="none"/>
<text class="tl" x="24.30" y="93.7" text-anchor="middle">75°E</text>
<text class="tl" x="50.55" y="93.7" text-anchor="middle">80°E</text>
<text class="tl" x="76.80" y="93.7" text-anchor="middle">85°E</text>
<text class="tl" x="103.05" y="93.7" text-anchor="middle">90°E</text>
<text class="tl" x="129.30" y="93.7" text-anchor="middle">95°E</text>
<text class="tl" x="155.55" y="93.7" text-anchor="middle">100°E</text>
<text class="tl" transform="translate(10.6,11.10) rotate(-90)" text-anchor="middle">40°N</text>
<text class="tl" transform="translate(10.6,37.35) rotate(-90)" text-anchor="middle">35°N</text>
<text class="tl" transform="translate(10.6,63.60) rotate(-90)" text-anchor="middle">30°N</text>
<text class="ml" x="31.5" y="15.2">Feb</text>
<text class="lt" x="16.9" y="55.0">δ<tspan font-size="3.2px" dy="-1.6">18</tspan><tspan dy="1.6">O</tspan></text><text class="lt" x="30.3" y="55.0" textLength="9.3" lengthAdjust="spacingAndGlyphs">(‰)</text>
<rect x="16.0" y="57.10" width="9.7" height="4.62" fill="#0d2f86"/>
<rect x="16.0" y="61.67" width="9.7" height="4.62" fill="#2a9c96"/>
<rect x="16.0" y="66.24" width="9.7" height="4.62" fill="#20dc20"/>
<rect x="16.0" y="70.81" width="9.7" height="4.62" fill="#f8f500"/>
<rect x="16.0" y="75.38" width="9.7" height="4.62" fill="#f0a21e"/>
<rect x="16.0" y="79.95" width="9.7" height="4.62" fill="#d4553a"/>
<text class="ll" x="27.8" y="62.77">-23.60</text>
<text class="ll" x="27.8" y="67.34">-20.52</text>
<text class="ll" x="27.8" y="71.91">-18.28</text>
<text class="ll" x="27.8" y="76.48">-15.48</text>
<text class="ll" x="27.8" y="81.05">-12.70</text>
</g>
<g transform="translate(363.50,0.00)">
<g clip-path="url(#tp)"><g filter="url(#nz)"><rect x="10" y="5" width="175" height="85" fill="#d4553a"/>
<polygon points="10.0,90.0 70.0,90.0 73.0,71.8 85.4,73.9 96.4,71.0 112.9,67.7 129.3,66.6 145.8,63.6 158.1,61.5 164.3,65.6 166.4,73.8 168.0,90.0 185.0,90.0 185.0,0.0 10.0,0.0" fill="#f0a21e"/>
<polygon points="10.0,90.0 60.0,90.0 66.9,67.7 79.3,67.7 89.5,65.6 96.4,64.6 117.0,62.5 137.5,60.5 154.0,57.4 162.2,49.2 164.3,38.9 158.1,28.6 150.0,22.0 145.0,18.0 140.0,15.0 135.0,0.0 135.0,0.0 10.0,0.0" fill="#f8f500"/>
<polygon points="105.0,10.0 108.0,16.0 117.0,18.0 129.0,19.0 132.0,16.0 132.0,10.0" fill="#f0a21e"/>
<polygon points="132.0,13.0 148.0,13.0 150.0,18.0 146.0,22.0 138.0,22.0 133.0,19.0" fill="#a8dc20"/>
<polygon points="136.0,14.0 144.0,14.0 145.0,18.0 139.0,19.0" fill="#20dc20"/>
<polygon points="10.0,90.0 44.0,90.0 44.3,57.4 58.7,61.5 71.0,62.5 81.3,60.5 91.6,57.4 96.4,57.4 108.7,56.4 123.1,54.3 137.5,51.2 152.0,46.0 155.0,38.9 149.9,31.7 137.5,28.6 123.1,26.5 108.7,22.4 96.4,19.3 90.0,18.0 85.0,0.0 85.0,0.0 10.0,0.0" fill="#20dc20"/>
<polygon points="10.0,90.0 40.0,90.0 44.3,51.2 54.6,52.2 66.9,51.2 81.3,49.2 91.6,48.1 96.4,52.2 108.7,52.2 123.1,50.2 137.5,47.1 147.8,43.0 147.8,36.8 137.5,32.7 123.1,30.6 108.7,26.5 96.4,23.4 90.0,22.0 85.0,0.0 85.0,0.0 10.0,0.0" fill="#2a9c96"/>
<polygon points="30.0,16.0 33.0,21.0 36.0,25.0 40.0,26.0 50.0,28.0 54.6,30.6 71.0,28.6 83.4,26.5 96.4,26.5 104.6,28.6 110.8,32.7 112.9,37.8 108.7,43.0 102.6,45.0 96.4,46.0 91.6,44.0 79.3,45.0 66.9,44.0 54.6,43.0 44.3,40.9 40.0,40.0 30.0,35.0 24.0,29.0 25.0,22.0" fill="#0d2f86"/>
<path d="M150.0,82.4l-0.0,5.8" stroke="#f0a21e" stroke-width="1.0" stroke-linecap="round"/>
<path d="M155.6,23.3l4.2,1.7" stroke="#d4553a" stroke-width="1.0" stroke-linecap="round"/>
<path d="M141.4,50.0l1.2,5.8" stroke="#f0a21e" stroke-width="1.0" stroke-linecap="round"/>
<path d="M145.5,40.7l0.4,4.7" stroke="#20dc20" stroke-width="1.0" stroke-linecap="round"/>
<path d="M105.7,18.6l3.0,0.7" stroke="#20dc20" stroke-width="0.8" stroke-linecap="round"/>
<path d="M65.8,46.1l4.0,1.6" stroke="#0d2f86" stroke-width="0.6" stroke-linecap="round"/>
<path d="M149.1,62.7l0.1,3.3" stroke="#f8f500" stroke-width="1.0" stroke-linecap="round"/>
<path d="M107.7,51.0l5.8,0.8" stroke="#20dc20" stroke-width="0.9" stroke-linecap="round"/>
<path d="M136.3,35.5l6.2,3.0" stroke="#20dc20" stroke-width="1.1" stroke-linecap="round"/>
<path d="M25.6,18.1l3.8,1.3" stroke="#20dc20" stroke-width="1.0" stroke-linecap="round"/>
<path d="M47.1,44.7l5.7,1.0" stroke="#0d2f86" stroke-width="0.8" stroke-linecap="round"/>
<path d="M166.6,44.0l-2.2,6.0" stroke="#f8f500" stroke-width="0.9" stroke-linecap="round"/>
<path d="M128.0,54.3l2.3,3.7" stroke="#f0a21e" stroke-width="0.7" stroke-linecap="round"/>
<path d="M148.1,44.7l0.2,4.5" stroke="#2a9c96" stroke-width="0.9" stroke-linecap="round"/>
<path d="M99.0,21.5l3.2,0.6" stroke="#f8f500" stroke-width="1.0" stroke-linecap="round"/>
<path d="M137.1,25.1l6.1,2.7" stroke="#20dc20" stroke-width="0.9" stroke-linecap="round"/>
<path d="M94.0,71.0l3.5,1.9" stroke="#d4553a" stroke-width="0.8" stroke-linecap="round"/>
<path d="M130.3,35.2l3.7,1.1" stroke="#20dc20" stroke-width="1.1" stroke-linecap="round"/>
<path d="M70.7,56.5l4.1,1.0" stroke="#2a9c96" stroke-width="0.8" stroke-linecap="round"/>
<path d="M51.4,49.2l5.2,1.4" stroke="#20dc20" stroke-width="0.7" stroke-linecap="round"/>
<path d="M116.9,48.8l2.5,1.2" stroke="#0d2f86" stroke-width="0.9" stroke-linecap="round"/>
<path d="M74.5,53.7l5.1,1.9" stroke="#f8f500" stroke-width="1.0" stroke-linecap="round"/>
<path d="M121.4,43.8l2.4,4.0" stroke="#0d2f86" stroke-width="0.7" stroke-linecap="round"/>
<path d="M109.1,51.8l5.5,0.6" stroke="#20dc20" stroke-width="0.6" stroke-linecap="round"/>
<path d="M149.1,77.0l0.5,7.0" stroke="#f0a21e" stroke-width="1.0" stroke-linecap="round"/>
<path d="M98.4,59.0l3.6,1.4" stroke="#20dc20" stroke-width="1.1" stroke-linecap="round"/>
<path d="M86.5,71.3l2.4,1.0" stroke="#d4553a" stroke-width="0.9" stroke-linecap="round"/>
<path d="M113.3,16.6l5.7,0.9" stroke="#f8f500" stroke-width="0.9" stroke-linecap="round"/>
<path d="M120.5,61.5l3.9,3.8" stroke="#20dc20" stroke-width="0.9" stroke-linecap="round"/>
<path d="M111.4,46.5l6.8,0.9" stroke="#0d2f86" stroke-width="0.7" stroke-linecap="round"/>
<path d="M100.4,64.6l3.2,0.9" stroke="#d4553a" stroke-width="0.6" stroke-linecap="round"/>
<path d="M76.0,26.4l2.8,1.5" stroke="#0d2f86" stroke-width="0.8" stroke-linecap="round"/>
<path d="M106.7,39.0l3.1,0.7" stroke="#2a9c96" stroke-width="0.7" stroke-linecap="round"/>
<path d="M147.8,26.6l5.6,0.9" stroke="#f0a21e" stroke-width="1.0" stroke-linecap="round"/>
<path d="M19.8,16.8l2.8,1.1" stroke="#20dc20" stroke-width="0.8" stroke-linecap="round"/>
<path d="M140.0,60.0l1.0,3.0" stroke="#d4553a" stroke-width="0.7" stroke-linecap="round"/>
<path d="M134.7,58.9l2.6,5.2" stroke="#20dc20" stroke-width="1.0" stroke-linecap="round"/>
<path d="M125.6,43.6l3.1,5.8" stroke="#20dc20" stroke-width="0.7" stroke-linecap="round"/>
<path d="M159.8,35.8l3.0,1.4" stroke="#f0a21e" stroke-width="0.7" stroke-linecap="round"/>
<path d="M166.1,68.8l-3.4,4.5" stroke="#d4553a" stroke-width="0.7" stroke-linecap="round"/>
<path d="M121.0,58.8l2.6,2.8" stroke="#f0a21e" stroke-width="1.0" stroke-linecap="round"/>
<path d="M48.3,54.0l6.9,0.9" stroke="#2a9c96" stroke-width="1.0" stroke-linecap="round"/>
<path d="M124.1,63.2l2.9,3.0" stroke="#d4553a" stroke-width="0.8" stroke-linecap="round"/>
<path d="M77.7,54.6l5.6,1.1" stroke="#2a9c96" stroke-width="1.0" stroke-linecap="round"/>
<path d="M101.9,60.8l4.5,1.2" stroke="#20dc20" stroke-width="0.9" stroke-linecap="round"/>
<path d="M151.3,46.6l-0.2,6.5" stroke="#20dc20" stroke-width="0.9" stroke-linecap="round"/>
<path d="M120.6,34.7l5.9,1.9" stroke="#0d2f86" stroke-width="0.6" stroke-linecap="round"/>
<path d="M130.9,19.2l4.8,0.6" stroke="#20dc20" stroke-width="1.0" stroke-linecap="round"/>
<path d="M127.8,54.6l3.5,5.7" stroke="#20dc20" stroke-width="1.0" stroke-linecap="round"/>
<path d="M150.7,37.2l3.7,1.6" stroke="#f8f500" stroke-width="0.7" stroke-linecap="round"/>
<path d="M174.7,43.7l-2.0,3.7" stroke="#d4553a" stroke-width="0.6" stroke-linecap="round"/>
<path d="M80.0,69.2l6.5,1.1" stroke="#f8f500" stroke-width="0.7" stroke-linecap="round"/>
<path d="M152.6,33.3l4.3,1.5" stroke="#20dc20" stroke-width="0.8" stroke-linecap="round"/>
<path d="M128.9,71.1l3.4,3.0" stroke="#f0a21e" stroke-width="0.9" stroke-linecap="round"/>
<path d="M164.0,43.7l-1.9,6.3" stroke="#f8f500" stroke-width="0.8" stroke-linecap="round"/>
<path d="M72.6,27.4l6.4,1.7" stroke="#0d2f86" stroke-width="0.9" stroke-linecap="round"/>
<path d="M156.4,60.6l-1.1,5.1" stroke="#d4553a" stroke-width="1.1" stroke-linecap="round"/>
<path d="M125.4,15.1l5.8,3.3" stroke="#f8f500" stroke-width="0.7" stroke-linecap="round"/>
<path d="M118.0,48.4l3.7,0.4" stroke="#20dc20" stroke-width="0.8" stroke-linecap="round"/>
<path d="M145.1,41.4l0.5,5.3" stroke="#0d2f86" stroke-width="0.6" stroke-linecap="round"/>
<path d="M148.6,78.7l0.4,3.6" stroke="#f0a21e" stroke-width="0.8" stroke-linecap="round"/>
<path d="M158.1,62.3l-1.0,3.5" stroke="#f0a21e" stroke-width="0.9" stroke-linecap="round"/>
<path d="M159.3,33.1l4.9,0.5" stroke="#f0a21e" stroke-width="0.8" stroke-linecap="round"/>
<path d="M64.5,58.5l4.5,0.5" stroke="#f8f500" stroke-width="0.9" stroke-linecap="round"/>
<path d="M109.3,57.2l5.8,1.9" stroke="#20dc20" stroke-width="0.8" stroke-linecap="round"/>
<path d="M98.1,18.9l6.2,1.4" stroke="#f0a21e" stroke-width="0.8" stroke-linecap="round"/>
<path d="M155.7,38.2l5.4,2.8" stroke="#f0a21e" stroke-width="0.7" stroke-linecap="round"/>
<path d="M122.2,71.8l3.4,2.2" stroke="#f0a21e" stroke-width="1.0" stroke-linecap="round"/>
<path d="M160.0,39.2l4.5,2.4" stroke="#20dc20" stroke-width="0.7" stroke-linecap="round"/>
<path d="M159.5,44.1l-0.9,4.2" stroke="#f0a21e" stroke-width="0.9" stroke-linecap="round"/>
<path d="M101.2,23.5l6.3,1.2" stroke="#2a9c96" stroke-width="1.0" stroke-linecap="round"/>
<path d="M90.9,25.7l6.6,1.2" stroke="#0d2f86" stroke-width="1.1" stroke-linecap="round"/>
<path d="M101.6,72.3l5.8,1.7" stroke="#f0a21e" stroke-width="0.7" stroke-linecap="round"/>
<path d="M83.8,30.1l5.8,0.8" stroke="#2a9c96" stroke-width="0.8" stroke-linecap="round"/>
<path d="M80.3,38.8l5.3,1.5" stroke="#20dc20" stroke-width="0.9" stroke-linecap="round"/>
<path d="M155.2,39.1l5.1,0.6" stroke="#20dc20" stroke-width="0.7" stroke-linecap="round"/>
<path d="M102.0,24.2l3.1,1.6" stroke="#f8f500" stroke-width="1.1" stroke-linecap="round"/>
<path d="M141.7,58.6l1.7,6.3" stroke="#20dc20" stroke-width="0.7" stroke-linecap="round"/>
<path d="M112.2,33.8l3.3,1.3" stroke="#0d2f86" stroke-width="1.1" stroke-linecap="round"/>
<path d="M133.0,44.2l1.1,2.9" stroke="#20dc20" stroke-width="0.7" stroke-linecap="round"/>
<path d="M138.4,29.8l4.0,1.6" stroke="#2a9c96" stroke-width="1.0" stroke-linecap="round"/>
<path d="M162.1,59.9l-1.7,4.2" stroke="#f8f500" stroke-width="0.9" stroke-linecap="round"/>
<path d="M71.7,63.8l5.7,2.6" stroke="#f0a21e" stroke-width="0.8" stroke-linecap="round"/>
<path d="M100.2,26.0l5.4,0.9" stroke="#0d2f86" stroke-width="1.0" stroke-linecap="round"/>
<path d="M92.2,48.0l4.3,2.2" stroke="#20dc20" stroke-width="0.8" stroke-linecap="round"/>
<path d="M71.4,65.3l3.9,0.8" stroke="#20dc20" stroke-width="0.7" stroke-linecap="round"/>
<path d="M114.4,48.8l4.9,2.0" stroke="#20dc20" stroke-width="0.7" stroke-linecap="round"/>
<path d="M91.9,23.4l4.3,1.0" stroke="#0d2f86" stroke-width="0.6" stroke-linecap="round"/>
<path d="M124.8,29.3l5.3,0.6" stroke="#f8f500" stroke-width="0.9" stroke-linecap="round"/>
<path d="M108.3,15.6l4.4,1.7" stroke="#f8f500" stroke-width="0.9" stroke-linecap="round"/>
<path d="M92.6,72.0l5.5,1.3" stroke="#f0a21e" stroke-width="0.9" stroke-linecap="round"/>
<path d="M113.8,46.2l5.6,1.1" stroke="#0d2f86" stroke-width="0.8" stroke-linecap="round"/>
<path d="M165.6,54.9l-2.1,4.8" stroke="#f8f500" stroke-width="0.9" stroke-linecap="round"/>
<path d="M137.0,53.9l1.9,5.3" stroke="#f0a21e" stroke-width="1.0" stroke-linecap="round"/>
<path d="M164.6,72.1l-3.6,4.4" stroke="#f0a21e" stroke-width="0.7" stroke-linecap="round"/>
<path d="M97.2,18.1l4.9,2.3" stroke="#f0a21e" stroke-width="1.0" stroke-linecap="round"/>
<path d="M145.5,58.8l0.7,5.1" stroke="#20dc20" stroke-width="0.8" stroke-linecap="round"/>
<path d="M51.6,57.2l2.9,0.4" stroke="#f8f500" stroke-width="0.9" stroke-linecap="round"/>
<path d="M120.8,30.1l3.1,1.6" stroke="#20dc20" stroke-width="0.7" stroke-linecap="round"/>
<path d="M83.7,45.1l2.4,1.0" stroke="#0d2f86" stroke-width="0.8" stroke-linecap="round"/>
<path d="M135.0,57.5l2.1,4.5" stroke="#20dc20" stroke-width="0.9" stroke-linecap="round"/>
<path d="M129.1,65.0l2.0,2.4" stroke="#f8f500" stroke-width="1.1" stroke-linecap="round"/>
<path d="M79.4,71.6l5.4,0.8" stroke="#f8f500" stroke-width="0.8" stroke-linecap="round"/>
<path d="M145.4,65.3l0.5,2.8" stroke="#f0a21e" stroke-width="0.7" stroke-linecap="round"/>
<path d="M99.2,46.3l3.4,1.9" stroke="#0d2f86" stroke-width="0.7" stroke-linecap="round"/>
<path d="M57.7,60.9l4.5,1.4" stroke="#2a9c96" stroke-width="1.0" stroke-linecap="round"/>
<path d="M110.3,18.2l3.6,1.0" stroke="#f0a21e" stroke-width="1.0" stroke-linecap="round"/>
<path d="M53.0,53.2l3.5,0.4" stroke="#f8f500" stroke-width="0.9" stroke-linecap="round"/>
<path d="M95.0,52.2l5.2,2.1" stroke="#f8f500" stroke-width="0.7" stroke-linecap="round"/>
<path d="M150.4,79.4l-0.1,3.3" stroke="#f0a21e" stroke-width="1.0" stroke-linecap="round"/>
</g></g>
<rect x="13.6" y="8.2" width="167.50" height="78.70" fill="none" stroke="#858585" stroke-width="1.0"/>
<path d="M24.30,86.90v1.5M50.55,86.90v1.5M76.80,86.90v1.5M103.05,86.90v1.5M129.30,86.90v1.5M155.55,86.90v1.5M13.60,11.10h-1.1M13.60,37.35h-1.1M13.60,63.60h-1.1" stroke="#222" stroke-width="0.8" fill="none"/>
<text class="tl" x="24.30" y="93.7" text-anchor="middle">75°E</text>
<text class="tl" x="50.55" y="93.7" text-anchor="middle">80°E</text>
<text class="tl" x="76.80" y="93.7" text-anchor="middle">85°E</text>
<text class="tl" x="103.05" y="93.7" text-anchor="middle">90°E</text>
<text class="tl" x="129.30" y="93.7" text-anchor="middle">95°E</text>
<text class="tl" x="155.55" y="93.7" text-anchor="middle">100°E</text>
<text class="tl" transform="translate(10.6,11.10) rotate(-90)" text-anchor="middle">40°N</text>
<text class="tl" transform="translate(10.6,37.35) rotate(-90)" text-anchor="middle">35°N</text>
<text class="tl" transform="translate(10.6,63.60) rotate(-90)" text-anchor="middle">30°N</text>
<text class="ml" x="31.5" y="15.2">Mar</text>
<text class="lt" x="16.9" y="55.0">δ<tspan font-size="3.2px" dy="-1.6">18</tspan><tspan dy="1.6">O</tspan></text><text class="lt" x="30.3" y="55.0" textLength="9.3" lengthAdjust="spacingAndGlyphs">(‰)</text>
<rect x="16.0" y="57.10" width="9.7" height="4.62" fill="#0d2f86"/>
<rect x="16.0" y="61.67" width="9.7" height="4.62" fill="#2a9c96"/>
<rect x="16.0" y="66.24" width="9.7" height="4.62" fill="#20dc20"/>
<rect x="16.0" y="70.81" width="9.7" height="4.62" fill="#f8f500"/>
<rect x="16.0" y="75.38" width="9.7" height="4.62" fill="#f0a21e"/>
<rect x="16.0" y="79.95" width="9.7" height="4.62" fill="#d4553a"/>
<text class="ll" x="27.8" y="62.77">-20.97</text>
<text class="ll" x="27.8" y="67.34">-17.77</text>
<text class="ll" x="27.8" y="71.91">-14.60</text>
<text class="ll" x="27.8" y="76.48">-12.25</text>
<text class="ll" x="27.8" y="81.05">-9.40</text>
</g>
<g transform="translate(0.00,95.24)">
<g clip-path="url(#tp)"><g filter="url(#nz)"><rect x="10" y="5" width="175" height="85" fill="#d4553a"/>
<polygon points="10.0,90.0 100.0,90.0 105.0,80.0 112.7,76.6 127.2,72.4 141.8,68.2 152.2,57.8 156.4,45.3 158.5,32.8 164.8,24.5 168.0,20.0 168.0,0.0 168.0,0.0 10.0,0.0" fill="#f0a21e"/>
<polygon points="10.0,90.0 96.0,90.0 100.0,78.0 116.8,74.5 133.5,68.2 143.9,57.8 150.2,45.3 153.6,35.0 155.0,25.0 152.0,15.0 150.0,0.0 150.0,0.0 10.0,0.0" fill="#f8f500"/>
<polygon points="123.0,22.0 130.0,20.0 140.0,21.0 150.0,22.0 155.0,25.0 155.0,31.0 145.0,31.6 135.0,30.0 125.0,29.0" fill="#f0a21e"/>
<polygon points="126.0,10.0 150.0,10.0 150.0,18.0 140.0,19.5 128.0,19.5" fill="#f0b818"/>
<polygon points="10.0,90.0 90.0,90.0 95.5,74.7 108.3,71.1 117.4,63.8 128.3,56.5 135.6,47.4 133.8,36.5 128.3,27.4 119.2,23.7 110.0,16.4 108.0,0.0 108.0,0.0 10.0,0.0" fill="#20dc20"/>
<polygon points="78.0,10.0 100.0,10.0 100.0,17.0 92.0,19.0 85.0,23.0 80.0,27.0 76.0,27.0" fill="#a8dc20"/>
<polygon points="60.0,0.0 66.0,23.0 68.2,23.7 86.4,21.9 101.0,23.7 113.8,27.4 126.5,32.8 128.3,43.8 122.9,51.0 108.3,54.7 95.5,52.9 82.8,58.3 73.7,60.2 60.0,60.0" fill="#2a9c96"/>
<polygon points="74.0,25.0 90.0,23.0 104.0,25.0 104.0,32.0 95.0,36.0 85.0,35.0 76.0,32.0" fill="#24ba5a"/>
<polygon points="85.0,51.0 95.0,50.0 101.0,52.0 100.0,57.0 92.0,58.3 85.0,57.0" fill="#a8dc20"/>
<polygon points="100.0,35.0 108.0,33.0 116.0,37.0 117.0,45.0 110.0,50.0 102.0,48.0 99.0,42.0" fill="#1c648e"/>
<polygon points="10.0,0.0 40.0,0.0 55.0,28.0 60.9,29.2 66.4,36.5 70.0,49.2 71.9,60.2 73.7,65.6 76.0,75.0 40.0,75.0 10.0,60.0" fill="#0d2f86"/>
<path d="M159.1,71.0l-2.0,4.1" stroke="#f0a21e" stroke-width="1.0" stroke-linecap="round"/>
<path d="M67.2,52.7l2.6,0.8" stroke="#2a9c96" stroke-width="0.9" stroke-linecap="round"/>
<path d="M59.5,57.5l6.4,2.2" stroke="#20dc20" stroke-width="1.0" stroke-linecap="round"/>
<path d="M88.6,65.0l3.2,1.4" stroke="#f8f500" stroke-width="0.8" stroke-linecap="round"/>
<path d="M88.8,52.6l5.0,0.6" stroke="#f8f500" stroke-width="0.8" stroke-linecap="round"/>
<path d="M124.9,33.9l4.4,0.9" stroke="#0d2f86" stroke-width="1.0" stroke-linecap="round"/>
<path d="M115.9,48.6l5.6,3.2" stroke="#20dc20" stroke-width="1.0" stroke-linecap="round"/>
<path d="M101.8,67.5l2.7,1.1" stroke="#2a9c96" stroke-width="1.0" stroke-linecap="round"/>
<path d="M81.2,59.5l4.6,0.4" stroke="#2a9c96" stroke-width="0.7" stroke-linecap="round"/>
<path d="M87.1,73.6l3.4,1.7" stroke="#2a9c96" stroke-width="0.7" stroke-linecap="round"/>
<path d="M120.8,25.2l5.0,0.5" stroke="#2a9c96" stroke-width="1.0" stroke-linecap="round"/>
<path d="M101.3,34.3l6.4,1.0" stroke="#20dc20" stroke-width="0.6" stroke-linecap="round"/>
<path d="M107.5,35.9l5.1,1.1" stroke="#2a9c96" stroke-width="0.7" stroke-linecap="round"/>
<path d="M31.4,24.9l4.9,0.5" stroke="#2a9c96" stroke-width="0.6" stroke-linecap="round"/>
<path d="M157.2,53.8l-0.8,4.1" stroke="#f0a21e" stroke-width="0.7" stroke-linecap="round"/>
<path d="M103.6,73.7l3.1,0.6" stroke="#f0a21e" stroke-width="0.7" stroke-linecap="round"/>
<path d="M120.3,23.9l6.2,2.3" stroke="#f0a21e" stroke-width="0.8" stroke-linecap="round"/>
<path d="M120.3,27.0l3.0,1.7" stroke="#2a9c96" stroke-width="0.9" stroke-linecap="round"/>
<path d="M97.4,29.0l4.3,1.3" stroke="#2a9c96" stroke-width="0.7" stroke-linecap="round"/>
<path d="M135.6,68.2l3.5,5.4" stroke="#f8f500" stroke-width="1.0" stroke-linecap="round"/>
<path d="M129.8,45.5l1.4,3.1" stroke="#2a9c96" stroke-width="0.6" stroke-linecap="round"/>
<path d="M135.0,16.5l3.5,0.4" stroke="#d4553a" stroke-width="1.0" stroke-linecap="round"/>
<path d="M76.2,62.6l3.4,0.7" stroke="#f8f500" stroke-width="0.9" stroke-linecap="round"/>
<path d="M94.7,35.1l6.6,0.8" stroke="#20dc20" stroke-width="1.0" stroke-linecap="round"/>
<path d="M94.7,29.1l5.3,0.9" stroke="#2a9c96" stroke-width="0.9" stroke-linecap="round"/>
<path d="M107.8,19.2l2.8,1.3" stroke="#f8f500" stroke-width="0.9" stroke-linecap="round"/>
<path d="M97.9,65.3l2.8,0.5" stroke="#f8f500" stroke-width="0.9" stroke-linecap="round"/>
<path d="M140.3,64.6l1.1,2.9" stroke="#d4553a" stroke-width="0.7" stroke-linecap="round"/>
<path d="M78.6,42.4l3.2,1.0" stroke="#0d2f86" stroke-width="0.8" stroke-linecap="round"/>
<path d="M63.6,62.2l3.9,1.2" stroke="#2a9c96" stroke-width="1.0" stroke-linecap="round"/>
<path d="M72.5,54.1l4.9,1.1" stroke="#20dc20" stroke-width="1.1" stroke-linecap="round"/>
<path d="M160.1,30.3l4.8,1.1" stroke="#d4553a" stroke-width="0.7" stroke-linecap="round"/>
<path d="M87.9,21.0l6.6,1.3" stroke="#20dc20" stroke-width="0.8" stroke-linecap="round"/>
<path d="M155.8,77.0l-2.5,5.7" stroke="#f0a21e" stroke-width="0.8" stroke-linecap="round"/>
<path d="M126.8,45.1l2.3,4.5" stroke="#0d2f86" stroke-width="1.0" stroke-linecap="round"/>
<path d="M104.5,55.8l3.2,1.4" stroke="#2a9c96" stroke-width="0.7" stroke-linecap="round"/>
<path d="M96.8,32.8l5.6,1.7" stroke="#2a9c96" stroke-width="0.9" stroke-linecap="round"/>
<path d="M121.1,60.7l3.2,3.3" stroke="#2a9c96" stroke-width="0.9" stroke-linecap="round"/>
<path d="M111.0,62.9l4.3,2.3" stroke="#2a9c96" stroke-width="1.0" stroke-linecap="round"/>
<path d="M176.0,43.5l-2.8,5.0" stroke="#f0a21e" stroke-width="0.7" stroke-linecap="round"/>
<path d="M120.4,56.9l3.8,4.3" stroke="#2a9c96" stroke-width="0.7" stroke-linecap="round"/>
<path d="M83.1,29.4l4.1,1.5" stroke="#20dc20" stroke-width="0.9" stroke-linecap="round"/>
<path d="M86.7,26.5l4.8,0.4" stroke="#20dc20" stroke-width="1.0" stroke-linecap="round"/>
<path d="M117.4,30.4l5.3,2.8" stroke="#0d2f86" stroke-width="0.6" stroke-linecap="round"/>
<path d="M156.6,28.8l4.9,1.7" stroke="#f8f500" stroke-width="1.1" stroke-linecap="round"/>
<path d="M114.6,71.0l3.1,0.5" stroke="#f0a21e" stroke-width="0.7" stroke-linecap="round"/>
<path d="M161.9,56.9l-1.0,2.9" stroke="#f0a21e" stroke-width="0.7" stroke-linecap="round"/>
<path d="M69.3,50.6l2.7,1.5" stroke="#2a9c96" stroke-width="1.0" stroke-linecap="round"/>
<path d="M143.3,49.6l0.6,3.4" stroke="#20dc20" stroke-width="1.1" stroke-linecap="round"/>
<path d="M117.0,64.9l2.7,0.6" stroke="#f0a21e" stroke-width="1.1" stroke-linecap="round"/>
<path d="M90.3,61.1l3.0,0.6" stroke="#f8f500" stroke-width="1.0" stroke-linecap="round"/>
<path d="M109.6,38.6l5.4,2.0" stroke="#2a9c96" stroke-width="0.8" stroke-linecap="round"/>
<path d="M120.3,66.0l4.7,3.8" stroke="#f0a21e" stroke-width="1.0" stroke-linecap="round"/>
<path d="M129.8,57.9l1.7,2.6" stroke="#20dc20" stroke-width="0.7" stroke-linecap="round"/>
<path d="M114.2,47.0l3.0,1.7" stroke="#0d2f86" stroke-width="1.0" stroke-linecap="round"/>
<path d="M118.5,38.1l6.8,1.2" stroke="#0d2f86" stroke-width="0.8" stroke-linecap="round"/>
<path d="M110.5,21.0l3.4,0.9" stroke="#2a9c96" stroke-width="1.1" stroke-linecap="round"/>
<path d="M100.3,33.5l3.9,0.5" stroke="#20dc20" stroke-width="1.1" stroke-linecap="round"/>
<path d="M135.1,39.9l5.3,1.1" stroke="#f0a21e" stroke-width="0.9" stroke-linecap="round"/>
<path d="M89.3,41.8l4.3,0.6" stroke="#20dc20" stroke-width="0.7" stroke-linecap="round"/>
<path d="M124.0,20.0l4.8,2.0" stroke="#20dc20" stroke-width="1.0" stroke-linecap="round"/>
<path d="M152.6,29.5l4.1,2.0" stroke="#d4553a" stroke-width="0.6" stroke-linecap="round"/>
<path d="M113.9,25.5l3.7,2.0" stroke="#f8f500" stroke-width="0.9" stroke-linecap="round"/>
<path d="M134.1,19.3l6.3,0.8" stroke="#f8f500" stroke-width="0.8" stroke-linecap="round"/>
<path d="M143.9,24.4l4.6,0.9" stroke="#d4553a" stroke-width="0.6" stroke-linecap="round"/>
<path d="M110.8,39.5l3.8,0.4" stroke="#2a9c96" stroke-width="0.8" stroke-linecap="round"/>
<path d="M153.6,35.3l6.4,0.8" stroke="#d4553a" stroke-width="0.8" stroke-linecap="round"/>
<path d="M120.7,45.2l1.4,2.2" stroke="#20dc20" stroke-width="1.0" stroke-linecap="round"/>
<path d="M76.4,60.0l6.8,1.4" stroke="#f8f500" stroke-width="0.7" stroke-linecap="round"/>
<path d="M162.6,35.6l3.6,0.6" stroke="#f0a21e" stroke-width="0.7" stroke-linecap="round"/>
<path d="M120.4,53.5l3.8,4.6" stroke="#2a9c96" stroke-width="0.8" stroke-linecap="round"/>
<path d="M126.1,46.6l1.3,2.4" stroke="#0d2f86" stroke-width="0.8" stroke-linecap="round"/>
<path d="M72.2,31.8l6.9,1.1" stroke="#20dc20" stroke-width="0.7" stroke-linecap="round"/>
<path d="M116.8,23.3l5.3,1.6" stroke="#f8f500" stroke-width="0.9" stroke-linecap="round"/>
<path d="M134.7,69.8l3.0,4.0" stroke="#f8f500" stroke-width="1.1" stroke-linecap="round"/>
<path d="M95.3,53.8l5.8,3.3" stroke="#20dc20" stroke-width="0.9" stroke-linecap="round"/>
<path d="M101.4,62.7l5.5,2.1" stroke="#2a9c96" stroke-width="0.8" stroke-linecap="round"/>
<path d="M117.6,38.9l5.6,2.2" stroke="#0d2f86" stroke-width="0.8" stroke-linecap="round"/>
<path d="M140.5,69.9l1.5,3.2" stroke="#f0a21e" stroke-width="1.0" stroke-linecap="round"/>
<path d="M144.7,33.5l4.9,1.2" stroke="#f0a21e" stroke-width="0.6" stroke-linecap="round"/>
<path d="M176.1,47.6l-3.0,4.9" stroke="#f0a21e" stroke-width="0.8" stroke-linecap="round"/>
<path d="M93.8,62.5l4.3,1.9" stroke="#f8f500" stroke-width="1.0" stroke-linecap="round"/>
<path d="M99.1,45.5l4.6,0.5" stroke="#20dc20" stroke-width="0.7" stroke-linecap="round"/>
<path d="M157.2,24.8l4.3,0.7" stroke="#d4553a" stroke-width="0.7" stroke-linecap="round"/>
<path d="M95.9,26.3l5.2,1.6" stroke="#2a9c96" stroke-width="1.1" stroke-linecap="round"/>
<path d="M149.7,22.1l3.6,1.7" stroke="#f8f500" stroke-width="0.7" stroke-linecap="round"/>
<path d="M114.9,73.9l4.0,2.0" stroke="#f0a21e" stroke-width="0.8" stroke-linecap="round"/>
<path d="M136.5,66.9l3.5,6.0" stroke="#d4553a" stroke-width="0.6" stroke-linecap="round"/>
<path d="M78.6,31.2l4.4,0.8" stroke="#20dc20" stroke-width="0.8" stroke-linecap="round"/>
<path d="M155.8,27.6l4.1,1.7" stroke="#f8f500" stroke-width="0.9" stroke-linecap="round"/>
<path d="M144.6,50.2l0.4,3.2" stroke="#20dc20" stroke-width="0.9" stroke-linecap="round"/>
<path d="M97.3,61.2l3.9,1.9" stroke="#f8f500" stroke-width="0.8" stroke-linecap="round"/>
<path d="M138.7,55.1l1.8,5.5" stroke="#f0a21e" stroke-width="1.0" stroke-linecap="round"/>
<path d="M116.1,20.4l3.3,0.6" stroke="#20dc20" stroke-width="0.9" stroke-linecap="round"/>
<path d="M85.8,36.6l5.3,2.4" stroke="#20dc20" stroke-width="0.7" stroke-linecap="round"/>
<path d="M152.9,35.4l5.1,2.5" stroke="#20dc20" stroke-width="1.0" stroke-linecap="round"/>
<path d="M130.1,27.5l4.6,0.8" stroke="#f8f500" stroke-width="0.8" stroke-linecap="round"/>
<path d="M176.7,46.8l-2.7,4.4" stroke="#f0a21e" stroke-width="0.7" stroke-linecap="round"/>
<path d="M118.9,30.8l5.5,0.9" stroke="#0d2f86" stroke-width="0.9" stroke-linecap="round"/>
<path d="M168.7,36.7l6.3,1.6" stroke="#f0a21e" stroke-width="0.7" stroke-linecap="round"/>
<path d="M147.2,21.3l3.4,0.7" stroke="#20dc20" stroke-width="1.0" stroke-linecap="round"/>
<path d="M94.2,33.1l6.6,1.6" stroke="#20dc20" stroke-width="1.0" stroke-linecap="round"/>
<path d="M129.5,33.0l3.3,0.5" stroke="#f8f500" stroke-width="0.6" stroke-linecap="round"/>
<path d="M52.8,35.6l4.2,1.0" stroke="#2a9c96" stroke-width="0.7" stroke-linecap="round"/>
<path d="M124.0,56.3l4.0,5.2" stroke="#2a9c96" stroke-width="0.9" stroke-linecap="round"/>
<path d="M111.6,19.5l3.0,1.2" stroke="#f8f500" stroke-width="0.8" stroke-linecap="round"/>
<path d="M142.6,69.2l1.6,4.5" stroke="#f0a21e" stroke-width="0.6" stroke-linecap="round"/>
<path d="M87.2,51.1l4.8,2.2" stroke="#20dc20" stroke-width="0.6" stroke-linecap="round"/>
<path d="M100.0,21.5l6.5,2.4" stroke="#2a9c96" stroke-width="1.1" stroke-linecap="round"/>
<path d="M87.8,37.7l3.8,1.1" stroke="#0d2f86" stroke-width="0.7" stroke-linecap="round"/>
<path d="M158.0,49.4l-1.0,5.2" stroke="#f0a21e" stroke-width="1.1" stroke-linecap="round"/>
<path d="M147.1,38.4l3.6,0.4" stroke="#f0a21e" stroke-width="0.7" stroke-linecap="round"/>
<path d="M132.0,16.0l3.0,1.1" stroke="#f8f500" stroke-width="0.8" stroke-linecap="round"/>
<path d="M165.4,48.4l-1.7,4.6" stroke="#f0a21e" stroke-width="0.8" stroke-linecap="round"/>
<path d="M143.0,33.7l5.0,2.8" stroke="#20dc20" stroke-width="1.1" stroke-linecap="round"/>
<path d="M132.4,70.3l3.0,3.3" stroke="#d4553a" stroke-width="1.1" stroke-linecap="round"/>
<path d="M129.8,47.2l1.7,3.7" stroke="#2a9c96" stroke-width="0.7" stroke-linecap="round"/>
<path d="M165.2,70.6l-3.0,3.8" stroke="#f0a21e" stroke-width="1.1" stroke-linecap="round"/>
<path d="M175.1,45.9l-1.4,2.5" stroke="#f0a21e" stroke-width="0.8" stroke-linecap="round"/>
<path d="M123.8,47.6l2.7,4.3" stroke="#20dc20" stroke-width="0.9" stroke-linecap="round"/>
<path d="M111.1,36.6l3.2,1.6" stroke="#0d2f86" stroke-width="0.8" stroke-linecap="round"/>
<path d="M159.1,51.4l-1.2,5.3" stroke="#f0a21e" stroke-width="1.0" stroke-linecap="round"/>
<path d="M156.1,31.3l4.6,0.4" stroke="#f8f500" stroke-width="0.9" stroke-linecap="round"/>
<path d="M108.7,27.1l4.7,1.5" stroke="#20dc20" stroke-width="1.1" stroke-linecap="round"/>
<path d="M121.9,14.6l6.0,1.9" stroke="#20dc20" stroke-width="1.1" stroke-linecap="round"/>
<path d="M132.7,35.8l5.5,1.5" stroke="#f8f500" stroke-width="0.8" stroke-linecap="round"/>
<path d="M152.5,30.6l4.1,2.0" stroke="#d4553a" stroke-width="0.9" stroke-linecap="round"/>
<path d="M151.7,67.1l-0.3,4.4" stroke="#f0a21e" stroke-width="0.6" stroke-linecap="round"/>
<path d="M92.4,31.6l6.8,1.2" stroke="#2a9c96" stroke-width="0.8" stroke-linecap="round"/>
<path d="M139.2,60.2l2.2,6.0" stroke="#20dc20" stroke-width="1.1" stroke-linecap="round"/>
<path d="M119.5,20.0l5.4,1.9" stroke="#f0a21e" stroke-width="0.6" stroke-linecap="round"/>
<path d="M105.2,35.8l6.3,2.2" stroke="#2a9c96" stroke-width="0.8" stroke-linecap="round"/>
<path d="M97.0,75.4l3.5,1.6" stroke="#f0a21e" stroke-width="1.0" stroke-linecap="round"/>
<path d="M142.0,46.5l0.8,4.4" stroke="#20dc20" stroke-width="0.8" stroke-linecap="round"/>
<path d="M116.3,30.8l5.9,1.1" stroke="#0d2f86" stroke-width="0.7" stroke-linecap="round"/>
<path d="M135.5,42.0l1.8,6.0" stroke="#f0a21e" stroke-width="0.8" stroke-linecap="round"/>
<path d="M134.6,61.2l2.1,4.0" stroke="#20dc20" stroke-width="0.7" stroke-linecap="round"/>
<path d="M109.2,33.5l6.1,1.3" stroke="#20dc20" stroke-width="0.7" stroke-linecap="round"/>
<path d="M100.1,38.4l4.3,0.9" stroke="#0d2f86" stroke-width="1.0" stroke-linecap="round"/>
<path d="M144.8,27.3l5.1,1.3" stroke="#f8f500" stroke-width="0.9" stroke-linecap="round"/>
<path d="M152.4,48.0l-0.3,5.5" stroke="#f8f500" stroke-width="1.1" stroke-linecap="round"/>
<path d="M80.6,33.4l3.6,1.0" stroke="#2a9c96" stroke-width="0.6" stroke-linecap="round"/>
<path d="M124.3,64.9l3.7,3.6" stroke="#f0a21e" stroke-width="0.9" stroke-linecap="round"/>
<path d="M114.8,65.4l3.3,0.6" stroke="#f8f500" stroke-width="0.9" stroke-linecap="round"/>
<path d="M81.9,32.9l5.2,0.8" stroke="#20dc20" stroke-width="0.9" stroke-linecap="round"/>
<path d="M150.8,62.9l-0.1,2.7" stroke="#f0a21e" stroke-width="1.0" stroke-linecap="round"/>
<path d="M107.0,58.4l2.6,1.5" stroke="#f8f500" stroke-width="0.9" stroke-linecap="round"/>
<path d="M107.5,48.7l5.9,3.1" stroke="#0d2f86" stroke-width="1.1" stroke-linecap="round"/>
<path d="M93.0,42.0l4.7,2.0" stroke="#0d2f86" stroke-width="0.6" stroke-linecap="round"/>
<path d="M168.2,43.9l-1.5,3.7" stroke="#f0a21e" stroke-width="1.0" stroke-linecap="round"/>
<path d="M127.6,56.9l3.4,5.0" stroke="#f8f500" stroke-width="0.6" stroke-linecap="round"/>
<path d="M159.3,43.7l-1.3,6.7" stroke="#f0a21e" stroke-width="0.9" stroke-linecap="round"/>
<path d="M158.8,26.6l3.4,1.2" stroke="#f8f500" stroke-width="0.9" stroke-linecap="round"/>
<path d="M78.7,34.0l2.3,1.1" stroke="#20dc20" stroke-width="0.6" stroke-linecap="round"/>
<path d="M60.4,52.1l3.5,1.2" stroke="#2a9c96" stroke-width="1.0" stroke-linecap="round"/>
<path d="M96.5,34.9l4.2,1.6" stroke="#20dc20" stroke-width="0.8" stroke-linecap="round"/>
<path d="M144.5,62.7l0.7,3.5" stroke="#f8f500" stroke-width="0.7" stroke-linecap="round"/>
<path d="M164.5,64.3l-2.2,3.9" stroke="#f0a21e" stroke-width="0.7" stroke-linecap="round"/>
<path d="M66.6,41.3l6.1,2.9" stroke="#20dc20" stroke-width="0.8" stroke-linecap="round"/>
<path d="M114.4,73.4l3.4,0.7" stroke="#f0a21e" stroke-width="1.0" stroke-linecap="round"/>
<path d="M83.8,47.4l5.2,2.7" stroke="#0d2f86" stroke-width="0.9" stroke-linecap="round"/>
<path d="M123.6,28.8l3.2,1.7" stroke="#2a9c96" stroke-width="0.7" stroke-linecap="round"/>
<path d="M74.4,27.9l4.5,1.0" stroke="#20dc20" stroke-width="0.9" stroke-linecap="round"/>
<path d="M99.2,33.9l5.1,2.0" stroke="#20dc20" stroke-width="0.6" stroke-linecap="round"/>
<path d="M97.9,48.7l3.1,1.5" stroke="#0d2f86" stroke-width="0.7" stroke-linecap="round"/>
<path d="M84.1,54.9l3.4,1.1" stroke="#0d2f86" stroke-width="0.9" stroke-linecap="round"/>
<path d="M124.2,41.0l2.7,5.1" stroke="#0d2f86" stroke-width="1.0" stroke-linecap="round"/>
<path d="M87.0,37.1l4.7,1.8" stroke="#0d2f86" stroke-width="0.6" stroke-linecap="round"/>
<path d="M122.0,33.1l5.0,1.6" stroke="#0d2f86" stroke-width="0.7" stroke-linecap="round"/>
<path d="M165.0,70.7l-3.9,5.1" stroke="#f0a21e" stroke-width="0.8" stroke-linecap="round"/>
</g></g>
<rect x="13.6" y="8.2" width="167.50" height="78.70" fill="none" stroke="#858585" stroke-width="1.0"/>
<path d="M24.30,86.90v1.5M50.55,86.90v1.5M76.80,86.90v1.5M103.05,86.90v1.5M129.30,86.90v1.5M155.55,86.90v1.5M13.60,11.10h-1.1M13.60,37.35h-1.1M13.60,63.60h-1.1" stroke="#222" stroke-width="0.8" fill="none"/>
<text class="tl" x="24.30" y="93.7" text-anchor="middle">75°E</text>
<text class="tl" x="50.55" y="93.7" text-anchor="middle">80°E</text>
<text class="tl" x="76.80" y="93.7" text-anchor="middle">85°E</text>
<text class="tl" x="103.05" y="93.7" text-anchor="middle">90°E</text>
<text class="tl" x="129.30" y="93.7" text-anchor="middle">95°E</text>
<text class="tl" x="155.55" y="93.7" text-anchor="middle">100°E</text>
<text class="tl" transform="translate(10.6,11.10) rotate(-90)" text-anchor="middle">40°N</text>
<text class="tl" transform="translate(10.6,37.35) rotate(-90)" text-anchor="middle">35°N</text>
<text class="tl" transform="translate(10.6,63.60) rotate(-90)" text-anchor="middle">30°N</text>
<text class="ml" x="31.5" y="15.2">Apr</text>
<text class="lt" x="16.9" y="55.0">δ<tspan font-size="3.2px" dy="-1.6">18</tspan><tspan dy="1.6">O</tspan></text><text class="lt" x="30.3" y="55.0" textLength="9.3" lengthAdjust="spacingAndGlyphs">(‰)</text>
<rect x="16.0" y="57.10" width="9.7" height="4.62" fill="#0d2f86"/>
<rect x="16.0" y="61.67" width="9.7" height="4.62" fill="#2a9c96"/>
<rect x="16.0" y="66.24" width="9.7" height="4.62" fill="#20dc20"/>
<rect x="16.0" y="70.81" width="9.7" height="4.62" fill="#f8f500"/>
<rect x="16.0" y="75.38" width="9.7" height="4.62" fill="#f0a21e"/>
<rect x="16.0" y="79.95" width="9.7" height="4.62" fill="#d4553a"/>
<text class="ll" x="27.8" y="62.77">-13.96</text>
<text class="ll" x="27.8" y="67.34">-12.84</text>
<text class="ll" x="27.8" y="71.91">-11.60</text>
<text class="ll" x="27.8" y="76.48">-10.14</text>
<text class="ll" x="27.8" y="81.05">-8.72</text>
</g>
<g transform="translate(181.92,95.24)">
<g clip-path="url(#tp)"><g filter="url(#nz)"><rect x="10" y="5" width="175" height="85" fill="#d4553a"/>
<polygon points="10.0,90.0 105.0,90.0 108.7,74.5 117.0,70.3 127.4,68.2 137.8,70.3 150.3,68.2 158.7,62.0 160.7,49.5 158.7,39.0 154.5,28.6 150.3,20.3 145.0,17.0 137.0,16.0 135.0,0.0 135.0,0.0 10.0,0.0" fill="#f0a21e"/>
<polygon points="10.0,90.0 100.0,90.0 110.0,72.0 120.0,68.0 135.0,66.0 145.0,60.0 150.0,50.0 148.0,40.0 138.0,28.0 130.0,22.0 120.0,20.0 117.0,0.0 117.0,0.0 10.0,0.0" fill="#f8f500"/>
<polygon points="117.0,12.0 125.0,12.0 135.0,18.0 140.0,22.0 150.0,28.0 155.0,32.0 150.0,34.0 140.0,30.0 130.0,28.0 120.0,22.0" fill="#f0a21e"/>
<polygon points="137.8,10.0 154.5,10.0 154.5,20.3 145.0,20.0 137.8,16.0" fill="#d4553a"/>
<polygon points="10.0,90.0 96.0,90.0 96.2,57.8 102.4,55.7 114.9,53.6 121.2,45.3 133.7,39.0 137.8,30.7 127.4,24.5 117.0,16.1 112.0,0.0 112.0,0.0 10.0,0.0" fill="#20dc20"/>
<polygon points="96.0,60.0 105.0,62.0 110.0,66.0 104.0,70.0 96.0,72.0 90.0,68.0 88.0,62.0" fill="#a8dc20"/>
<polygon points="90.0,48.0 98.0,48.0 98.0,60.0 92.0,60.0" fill="#a8dc20"/>
<polygon points="10.0,90.0 70.0,90.0 71.5,64.0 75.6,62.0 82.0,60.0 92.0,57.0 96.0,50.0 108.6,49.5 110.0,40.0 108.6,26.5 100.0,22.0 96.0,20.0 90.0,24.0 82.0,25.0 82.0,0.0 82.0,0.0 10.0,0.0" fill="#2a9c96"/>
<polygon points="82.0,10.0 98.0,10.0 98.0,20.0 90.0,24.0 82.0,28.0" fill="#20dc20"/>
<polygon points="10.0,0.0 28.0,0.0 32.0,26.5 25.0,28.0 15.0,25.0" fill="#24ba5a"/>
<polygon points="29.8,26.5 44.4,30.7 59.0,30.7 71.5,27.6 79.8,25.5 80.9,34.9 81.9,45.3 73.6,53.6 69.4,59.9 61.1,57.8 50.6,55.7 44.4,53.6 38.0,45.0 28.0,34.0 26.0,20.0 28.0,18.0" fill="#0d2f86"/>
<path d="M149.1,23.5l3.1,1.0" stroke="#d4553a" stroke-width="1.0" stroke-linecap="round"/>
<path d="M106.6,28.0l4.2,1.2" stroke="#20dc20" stroke-width="1.0" stroke-linecap="round"/>
<path d="M115.3,21.5l4.2,1.9" stroke="#f8f500" stroke-width="0.6" stroke-linecap="round"/>
<path d="M115.3,74.4l5.0,2.5" stroke="#f0a21e" stroke-width="0.8" stroke-linecap="round"/>
<path d="M59.2,56.7l3.9,1.8" stroke="#2a9c96" stroke-width="0.7" stroke-linecap="round"/>
<path d="M89.2,57.8l5.1,1.5" stroke="#20dc20" stroke-width="1.0" stroke-linecap="round"/>
<path d="M119.1,45.5l3.2,4.6" stroke="#2a9c96" stroke-width="0.7" stroke-linecap="round"/>
<path d="M143.1,57.2l0.6,3.0" stroke="#f0a21e" stroke-width="0.6" stroke-linecap="round"/>
<path d="M103.7,52.3l3.1,0.5" stroke="#f8f500" stroke-width="0.8" stroke-linecap="round"/>
<path d="M114.0,68.9l5.9,3.3" stroke="#20dc20" stroke-width="0.6" stroke-linecap="round"/>
<path d="M60.3,44.6l2.7,0.7" stroke="#2a9c96" stroke-width="1.1" stroke-linecap="round"/>
<path d="M94.2,35.4l5.8,2.2" stroke="#0d2f86" stroke-width="0.6" stroke-linecap="round"/>
<path d="M96.3,55.8l3.5,0.4" stroke="#f8f500" stroke-width="0.7" stroke-linecap="round"/>
<path d="M98.5,49.3l2.5,1.2" stroke="#0d2f86" stroke-width="0.7" stroke-linecap="round"/>
<path d="M126.7,63.6l2.3,2.6" stroke="#20dc20" stroke-width="0.8" stroke-linecap="round"/>
<path d="M115.0,36.2l3.2,1.6" stroke="#f8f500" stroke-width="1.1" stroke-linecap="round"/>
<path d="M108.3,63.3l6.0,2.1" stroke="#20dc20" stroke-width="0.7" stroke-linecap="round"/>
<path d="M92.2,41.4l6.4,1.7" stroke="#20dc20" stroke-width="0.8" stroke-linecap="round"/>
<path d="M123.6,56.6l2.2,2.8" stroke="#20dc20" stroke-width="1.0" stroke-linecap="round"/>
<path d="M100.9,18.5l2.8,0.7" stroke="#2a9c96" stroke-width="0.9" stroke-linecap="round"/>
<path d="M68.2,31.6l5.7,1.9" stroke="#2a9c96" stroke-width="0.9" stroke-linecap="round"/>
<path d="M123.3,48.9l1.7,2.6" stroke="#f0a21e" stroke-width="1.0" stroke-linecap="round"/>
<path d="M138.2,49.6l1.6,5.4" stroke="#20dc20" stroke-width="0.7" stroke-linecap="round"/>
<path d="M153.4,76.2l-0.9,3.6" stroke="#f0a21e" stroke-width="1.1" stroke-linecap="round"/>
<path d="M169.2,44.2l-1.2,2.9" stroke="#f0a21e" stroke-width="0.8" stroke-linecap="round"/>
<path d="M101.1,32.2l3.9,1.1" stroke="#0d2f86" stroke-width="0.6" stroke-linecap="round"/>
<path d="M155.9,49.4l-0.7,4.5" stroke="#f8f500" stroke-width="0.9" stroke-linecap="round"/>
<path d="M131.7,65.9l1.9,2.5" stroke="#f0a21e" stroke-width="0.8" stroke-linecap="round"/>
<path d="M82.2,44.6l2.9,1.5" stroke="#0d2f86" stroke-width="1.1" stroke-linecap="round"/>
<path d="M102.3,68.8l5.7,1.9" stroke="#20dc20" stroke-width="0.9" stroke-linecap="round"/>
<path d="M102.9,47.3l5.8,0.6" stroke="#20dc20" stroke-width="0.8" stroke-linecap="round"/>
<path d="M164.0,45.3l-1.3,4.2" stroke="#f0a21e" stroke-width="0.8" stroke-linecap="round"/>
<path d="M92.7,39.7l2.6,1.3" stroke="#20dc20" stroke-width="1.1" stroke-linecap="round"/>
<path d="M81.8,28.8l3.4,0.5" stroke="#0d2f86" stroke-width="0.9" stroke-linecap="round"/>
<path d="M110.8,35.7l2.5,0.4" stroke="#f8f500" stroke-width="1.0" stroke-linecap="round"/>
<path d="M96.8,52.0l5.0,0.7" stroke="#f8f500" stroke-width="0.7" stroke-linecap="round"/>
<path d="M134.3,64.1l1.3,2.2" stroke="#f0a21e" stroke-width="0.8" stroke-linecap="round"/>
<path d="M115.0,79.2l3.1,1.7" stroke="#f0a21e" stroke-width="0.7" stroke-linecap="round"/>
<path d="M72.0,30.7l2.6,0.3" stroke="#2a9c96" stroke-width="0.9" stroke-linecap="round"/>
<path d="M123.0,18.7l3.1,1.3" stroke="#d4553a" stroke-width="0.8" stroke-linecap="round"/>
<path d="M126.0,75.7l4.4,2.6" stroke="#f0a21e" stroke-width="0.9" stroke-linecap="round"/>
<path d="M40.1,27.0l4.4,1.2" stroke="#0d2f86" stroke-width="0.8" stroke-linecap="round"/>
<path d="M172.6,42.2l-2.3,4.8" stroke="#f0a21e" stroke-width="0.8" stroke-linecap="round"/>
<path d="M112.7,60.7l5.9,2.2" stroke="#20dc20" stroke-width="0.7" stroke-linecap="round"/>
<path d="M104.8,28.4l6.1,2.0" stroke="#20dc20" stroke-width="1.1" stroke-linecap="round"/>
<path d="M123.2,64.8l2.9,2.8" stroke="#f0a21e" stroke-width="1.0" stroke-linecap="round"/>
<path d="M136.9,35.6l4.4,0.4" stroke="#f0a21e" stroke-width="0.7" stroke-linecap="round"/>
<path d="M174.1,52.0l-3.5,5.6" stroke="#f0a21e" stroke-width="0.9" stroke-linecap="round"/>
<path d="M122.4,33.4l6.0,2.1" stroke="#f8f500" stroke-width="1.0" stroke-linecap="round"/>
<path d="M141.7,35.6l3.8,1.5" stroke="#20dc20" stroke-width="0.8" stroke-linecap="round"/>
<path d="M140.3,62.5l2.2,6.2" stroke="#20dc20" stroke-width="0.9" stroke-linecap="round"/>
<path d="M158.4,36.2l3.5,1.7" stroke="#f0a21e" stroke-width="1.0" stroke-linecap="round"/>
<path d="M76.3,45.4l2.5,1.0" stroke="#20dc20" stroke-width="0.8" stroke-linecap="round"/>
<path d="M123.5,22.0l4.0,1.7" stroke="#2a9c96" stroke-width="1.0" stroke-linecap="round"/>
<path d="M97.8,68.5l4.6,2.0" stroke="#20dc20" stroke-width="0.6" stroke-linecap="round"/>
<path d="M131.2,43.0l1.0,2.5" stroke="#20dc20" stroke-width="0.9" stroke-linecap="round"/>
<path d="M18.6,17.5l5.1,2.0" stroke="#2a9c96" stroke-width="0.8" stroke-linecap="round"/>
<path d="M136.6,44.8l1.4,4.8" stroke="#f0a21e" stroke-width="0.9" stroke-linecap="round"/>
<path d="M112.7,67.4l5.6,0.7" stroke="#20dc20" stroke-width="1.0" stroke-linecap="round"/>
<path d="M85.4,35.3l5.2,2.4" stroke="#20dc20" stroke-width="0.8" stroke-linecap="round"/>
<path d="M91.1,58.2l5.1,1.0" stroke="#2a9c96" stroke-width="0.6" stroke-linecap="round"/>
<path d="M154.9,34.0l4.7,0.7" stroke="#d4553a" stroke-width="1.0" stroke-linecap="round"/>
<path d="M64.9,46.3l5.2,2.3" stroke="#2a9c96" stroke-width="0.9" stroke-linecap="round"/>
<path d="M146.1,71.9l0.6,2.9" stroke="#f0a21e" stroke-width="0.7" stroke-linecap="round"/>
<path d="M135.1,36.7l6.0,0.6" stroke="#f0a21e" stroke-width="0.8" stroke-linecap="round"/>
<path d="M73.1,40.3l4.7,2.2" stroke="#2a9c96" stroke-width="0.8" stroke-linecap="round"/>
<path d="M100.8,72.6l4.5,0.9" stroke="#f0a21e" stroke-width="0.9" stroke-linecap="round"/>
<path d="M87.9,69.3l5.9,2.2" stroke="#2a9c96" stroke-width="0.7" stroke-linecap="round"/>
<path d="M141.3,71.1l2.7,5.8" stroke="#f0a21e" stroke-width="0.8" stroke-linecap="round"/>
<path d="M118.3,62.4l5.0,4.3" stroke="#f0a21e" stroke-width="1.1" stroke-linecap="round"/>
<path d="M76.4,34.2l6.3,0.9" stroke="#2a9c96" stroke-width="0.7" stroke-linecap="round"/>
<path d="M75.8,66.8l4.1,1.1" stroke="#2a9c96" stroke-width="1.0" stroke-linecap="round"/>
<path d="M86.7,53.9l3.6,0.4" stroke="#20dc20" stroke-width="1.0" stroke-linecap="round"/>
<path d="M165.6,30.7l4.7,1.0" stroke="#f0a21e" stroke-width="0.8" stroke-linecap="round"/>
<path d="M97.8,48.5l3.1,1.7" stroke="#20dc20" stroke-width="0.6" stroke-linecap="round"/>
<path d="M98.3,42.2l5.9,1.2" stroke="#0d2f86" stroke-width="0.9" stroke-linecap="round"/>
<path d="M167.3,24.9l3.7,2.1" stroke="#f0a21e" stroke-width="0.7" stroke-linecap="round"/>
<path d="M134.8,23.7l5.0,1.9" stroke="#f8f500" stroke-width="0.7" stroke-linecap="round"/>
<path d="M34.7,32.4l6.2,0.8" stroke="#2a9c96" stroke-width="1.0" stroke-linecap="round"/>
<path d="M125.8,38.1l5.7,3.3" stroke="#f8f500" stroke-width="1.0" stroke-linecap="round"/>
<path d="M78.0,69.0l4.4,1.5" stroke="#2a9c96" stroke-width="1.0" stroke-linecap="round"/>
<path d="M106.1,42.5l5.2,2.3" stroke="#0d2f86" stroke-width="0.6" stroke-linecap="round"/>
<path d="M56.4,56.3l5.7,2.6" stroke="#20dc20" stroke-width="0.7" stroke-linecap="round"/>
<path d="M134.9,49.2l1.9,5.2" stroke="#20dc20" stroke-width="1.0" stroke-linecap="round"/>
<path d="M128.7,21.5l3.4,1.8" stroke="#d4553a" stroke-width="1.1" stroke-linecap="round"/>
<path d="M101.3,45.5l6.6,1.2" stroke="#20dc20" stroke-width="1.1" stroke-linecap="round"/>
<path d="M141.8,24.6l4.0,1.8" stroke="#d4553a" stroke-width="0.8" stroke-linecap="round"/>
<path d="M108.0,55.5l5.4,1.1" stroke="#f0a21e" stroke-width="0.9" stroke-linecap="round"/>
<path d="M82.4,61.8l3.8,0.9" stroke="#f8f500" stroke-width="1.0" stroke-linecap="round"/>
<path d="M122.6,26.2l6.2,1.9" stroke="#2a9c96" stroke-width="0.6" stroke-linecap="round"/>
<path d="M89.7,44.0l6.4,1.7" stroke="#20dc20" stroke-width="1.1" stroke-linecap="round"/>
<path d="M157.0,72.1l-2.2,5.7" stroke="#f0a21e" stroke-width="0.8" stroke-linecap="round"/>
<path d="M122.2,20.0l3.2,0.9" stroke="#f8f500" stroke-width="1.0" stroke-linecap="round"/>
<path d="M101.2,65.3l5.8,1.7" stroke="#f8f500" stroke-width="0.7" stroke-linecap="round"/>
<path d="M163.9,68.0l-1.7,2.6" stroke="#f0a21e" stroke-width="0.7" stroke-linecap="round"/>
<path d="M122.6,56.7l2.5,3.1" stroke="#20dc20" stroke-width="0.8" stroke-linecap="round"/>
<path d="M139.4,37.2l5.3,2.0" stroke="#f0a21e" stroke-width="1.1" stroke-linecap="round"/>
<path d="M170.5,58.5l-3.0,4.6" stroke="#f0a21e" stroke-width="0.7" stroke-linecap="round"/>
<path d="M90.7,56.8l4.7,1.4" stroke="#20dc20" stroke-width="1.1" stroke-linecap="round"/>
<path d="M143.0,53.2l0.9,4.5" stroke="#20dc20" stroke-width="0.7" stroke-linecap="round"/>
<path d="M110.4,62.7l3.1,0.5" stroke="#20dc20" stroke-width="1.0" stroke-linecap="round"/>
<path d="M72.6,67.1l5.2,0.5" stroke="#2a9c96" stroke-width="0.8" stroke-linecap="round"/>
<path d="M71.4,65.4l4.9,1.7" stroke="#0d2f86" stroke-width="0.7" stroke-linecap="round"/>
<path d="M80.3,33.2l4.9,1.7" stroke="#2a9c96" stroke-width="0.8" stroke-linecap="round"/>
<path d="M131.1,61.7l1.4,2.1" stroke="#f0a21e" stroke-width="0.6" stroke-linecap="round"/>
<path d="M132.0,52.1l2.6,5.6" stroke="#20dc20" stroke-width="1.1" stroke-linecap="round"/>
<path d="M130.8,34.9l4.0,1.7" stroke="#f8f500" stroke-width="0.7" stroke-linecap="round"/>
<path d="M87.2,33.5l5.0,1.0" stroke="#0d2f86" stroke-width="0.9" stroke-linecap="round"/>
<path d="M115.6,61.2l5.7,3.0" stroke="#f0a21e" stroke-width="0.8" stroke-linecap="round"/>
<path d="M148.9,30.7l3.1,0.9" stroke="#f8f500" stroke-width="0.8" stroke-linecap="round"/>
<path d="M117.7,42.9l3.7,1.9" stroke="#f8f500" stroke-width="0.6" stroke-linecap="round"/>
<path d="M117.4,50.4l5.0,1.2" stroke="#20dc20" stroke-width="0.8" stroke-linecap="round"/>
<path d="M59.4,50.7l5.9,0.6" stroke="#2a9c96" stroke-width="0.8" stroke-linecap="round"/>
<path d="M130.3,13.6l3.2,1.0" stroke="#d4553a" stroke-width="0.7" stroke-linecap="round"/>
<path d="M67.8,59.6l3.0,0.3" stroke="#20dc20" stroke-width="1.0" stroke-linecap="round"/>
<path d="M138.5,23.3l4.1,1.5" stroke="#d4553a" stroke-width="0.8" stroke-linecap="round"/>
<path d="M172.5,45.5l-1.1,2.3" stroke="#f0a21e" stroke-width="1.0" stroke-linecap="round"/>
<path d="M87.2,59.0l6.4,2.6" stroke="#2a9c96" stroke-width="0.8" stroke-linecap="round"/>
<path d="M86.5,58.4l4.7,2.5" stroke="#20dc20" stroke-width="1.0" stroke-linecap="round"/>
<path d="M150.8,40.3l-0.1,3.8" stroke="#f8f500" stroke-width="0.9" stroke-linecap="round"/>
<path d="M136.5,44.2l1.3,4.6" stroke="#20dc20" stroke-width="0.9" stroke-linecap="round"/>
<path d="M157.7,36.4l3.9,1.1" stroke="#f0a21e" stroke-width="0.6" stroke-linecap="round"/>
<path d="M151.3,65.3l-0.2,3.0" stroke="#f8f500" stroke-width="0.7" stroke-linecap="round"/>
<path d="M130.0,36.5l4.1,0.8" stroke="#f8f500" stroke-width="1.0" stroke-linecap="round"/>
<path d="M87.8,57.5l5.0,1.5" stroke="#0d2f86" stroke-width="0.9" stroke-linecap="round"/>
<path d="M164.2,22.7l5.0,0.9" stroke="#f0a21e" stroke-width="1.1" stroke-linecap="round"/>
<path d="M45.5,30.1l3.8,1.3" stroke="#0d2f86" stroke-width="0.7" stroke-linecap="round"/>
<path d="M104.5,47.4l2.5,0.5" stroke="#0d2f86" stroke-width="1.0" stroke-linecap="round"/>
<path d="M157.4,46.6l-0.8,4.7" stroke="#f8f500" stroke-width="0.8" stroke-linecap="round"/>
<path d="M104.1,39.7l4.1,0.4" stroke="#20dc20" stroke-width="0.8" stroke-linecap="round"/>
<path d="M121.4,58.6l4.5,4.9" stroke="#20dc20" stroke-width="0.9" stroke-linecap="round"/>
<path d="M80.8,53.6l2.8,1.0" stroke="#0d2f86" stroke-width="0.9" stroke-linecap="round"/>
<path d="M158.6,24.8l3.7,1.9" stroke="#f0a21e" stroke-width="1.0" stroke-linecap="round"/>
<path d="M60.1,42.9l4.6,1.2" stroke="#2a9c96" stroke-width="0.8" stroke-linecap="round"/>
<path d="M130.5,19.8l2.7,1.0" stroke="#d4553a" stroke-width="0.6" stroke-linecap="round"/>
<path d="M133.6,19.2l2.9,1.2" stroke="#f8f500" stroke-width="1.0" stroke-linecap="round"/>
<path d="M111.2,72.1l6.8,1.0" stroke="#d4553a" stroke-width="1.0" stroke-linecap="round"/>
<path d="M162.1,51.5l-1.2,3.8" stroke="#f0a21e" stroke-width="0.8" stroke-linecap="round"/>
<path d="M53.6,42.7l4.2,1.7" stroke="#2a9c96" stroke-width="0.7" stroke-linecap="round"/>
<path d="M94.9,17.3l2.9,1.5" stroke="#f8f500" stroke-width="1.0" stroke-linecap="round"/>
<path d="M29.9,25.9l4.8,2.0" stroke="#2a9c96" stroke-width="0.8" stroke-linecap="round"/>
<path d="M110.9,58.5l4.2,0.5" stroke="#20dc20" stroke-width="1.0" stroke-linecap="round"/>
<path d="M168.2,42.7l-1.2,3.1" stroke="#f0a21e" stroke-width="0.8" stroke-linecap="round"/>
<path d="M51.9,58.4l6.2,0.7" stroke="#0d2f86" stroke-width="0.9" stroke-linecap="round"/>
<path d="M134.0,46.1l1.9,5.1" stroke="#f0a21e" stroke-width="0.7" stroke-linecap="round"/>
<path d="M129.7,55.1l1.9,3.2" stroke="#f0a21e" stroke-width="0.7" stroke-linecap="round"/>
<path d="M134.0,62.6l2.5,4.3" stroke="#f0a21e" stroke-width="0.8" stroke-linecap="round"/>
<path d="M113.5,42.9l5.1,1.0" stroke="#2a9c96" stroke-width="0.8" stroke-linecap="round"/>
<path d="M143.0,26.1l4.2,2.2" stroke="#d4553a" stroke-width="0.8" stroke-linecap="round"/>
<path d="M75.9,40.2l4.1,0.8" stroke="#2a9c96" stroke-width="1.1" stroke-linecap="round"/>
<path d="M163.6,52.3l-1.5,4.3" stroke="#f0a21e" stroke-width="0.7" stroke-linecap="round"/>
<path d="M70.9,54.1l5.3,1.9" stroke="#2a9c96" stroke-width="0.6" stroke-linecap="round"/>
<path d="M159.2,26.3l5.2,3.0" stroke="#f0a21e" stroke-width="1.1" stroke-linecap="round"/>
<path d="M156.9,48.1l-0.5,3.3" stroke="#d4553a" stroke-width="0.9" stroke-linecap="round"/>
<path d="M94.1,39.9l3.5,1.4" stroke="#20dc20" stroke-width="0.7" stroke-linecap="round"/>
<path d="M113.1,76.2l5.3,1.8" stroke="#f0a21e" stroke-width="1.0" stroke-linecap="round"/>
<path d="M97.4,51.6l5.7,0.6" stroke="#f8f500" stroke-width="0.8" stroke-linecap="round"/>
<path d="M170.2,49.2l-1.3,2.6" stroke="#f0a21e" stroke-width="0.8" stroke-linecap="round"/>
<path d="M149.6,80.6l0.3,6.9" stroke="#f0a21e" stroke-width="0.6" stroke-linecap="round"/>
<path d="M87.4,47.5l3.9,1.2" stroke="#0d2f86" stroke-width="0.9" stroke-linecap="round"/>
</g></g>
<rect x="13.6" y="8.2" width="167.50" height="78.70" fill="none" stroke="#858585" stroke-width="1.0"/>
<path d="M24.30,86.90v1.5M50.55,86.90v1.5M76.80,86.90v1.5M103.05,86.90v1.5M129.30,86.90v1.5M155.55,86.90v1.5M13.60,11.10h-1.1M13.60,37.35h-1.1M13.60,63.60h-1.1" stroke="#222" stroke-width="0.8" fill="none"/>
<text class="tl" x="24.30" y="93.7" text-anchor="middle">75°E</text>
<text class="tl" x="50.55" y="93.7" text-anchor="middle">80°E</text>
<text class="tl" x="76.80" y="93.7" text-anchor="middle">85°E</text>
<text class="tl" x="103.05" y="93.7" text-anchor="middle">90°E</text>
<text class="tl" x="129.30" y="93.7" text-anchor="middle">95°E</text>
<text class="tl" x="155.55" y="93.7" text-anchor="middle">100°E</text>
<text class="tl" transform="translate(10.6,11.10) rotate(-90)" text-anchor="middle">40°N</text>
<text class="tl" transform="translate(10.6,37.35) rotate(-90)" text-anchor="middle">35°N</text>
<text class="tl" transform="translate(10.6,63.60) rotate(-90)" text-anchor="middle">30°N</text>
<text class="ml" x="31.5" y="15.2">May</text>
<text class="lt" x="16.9" y="55.0">δ<tspan font-size="3.2px" dy="-1.6">18</tspan><tspan dy="1.6">O</tspan></text><text class="lt" x="30.3" y="55.0" textLength="9.3" lengthAdjust="spacingAndGlyphs">(‰)</text>
<rect x="16.0" y="57.10" width="9.7" height="4.62" fill="#0d2f86"/>
<rect x="16.0" y="61.67" width="9.7" height="4.62" fill="#2a9c96"/>
<rect x="16.0" y="66.24" width="9.7" height="4.62" fill="#20dc20"/>
<rect x="16.0" y="70.81" width="9.7" height="4.62" fill="#f8f500"/>
<rect x="16.0" y="75.38" width="9.7" height="4.62" fill="#f0a21e"/>
<rect x="16.0" y="79.95" width="9.7" height="4.62" fill="#d4553a"/>
<text class="ll" x="27.8" y="62.77">-11.55</text>
<text class="ll" x="27.8" y="67.34">-9.92</text>
<text class="ll" x="27.8" y="71.91">-8.68</text>
<text class="ll" x="27.8" y="76.48">-7.72</text>
<text class="ll" x="27.8" y="81.05">-6.14</text>
</g>
<g transform="translate(363.50,95.24)">
<g clip-path="url(#tp)"><g filter="url(#nz)"><rect x="10" y="5" width="175" height="85" fill="#0d2f86"/>
<polygon points="10.0,90.0 40.0,90.0 44.6,56.8 55.1,58.8 61.3,59.9 69.7,59.9 80.0,58.8 90.5,58.8 98.4,59.8 117.2,64.0 138.1,62.0 158.9,64.0 167.2,66.1 170.0,66.0 185.0,66.0 185.0,0.0 10.0,0.0" fill="#2a9c96"/>
<polygon points="10.0,90.0 40.0,90.0 44.6,49.5 55.1,50.5 65.5,49.5 75.9,48.4 86.3,48.4 98.4,50.0 117.2,57.8 138.1,55.7 158.9,56.8 169.3,57.8 172.0,58.0 185.0,58.0 185.0,0.0 10.0,0.0" fill="#20dc20"/>
<polygon points="10.0,44.0 44.6,44.0 55.1,43.2 65.5,42.2 75.9,41.1 86.3,41.1 98.4,42.0 117.2,49.5 138.1,48.4 158.9,48.4 171.4,51.5 185.0,51.5 185.0,0.0 10.0,0.0" fill="#f8f500"/>
<polygon points="10.0,42.2 44.6,42.2 55.1,41.1 65.5,39.0 75.9,38.0 86.3,37.0 98.4,35.9 110.0,38.0 123.5,39.0 125.0,34.0 110.0,31.0 98.0,30.0 90.0,30.0 90.0,0.0 10.0,0.0" fill="#f0a21e"/>
<polygon points="142.2,24.5 160.0,24.0 175.6,30.0 175.6,45.3 165.0,45.0 150.0,42.0 142.2,35.0" fill="#f0a21e"/>
<polygon points="108.9,16.0 127.7,16.0 127.7,24.0 120.0,28.6 112.0,28.0 108.9,22.0" fill="#20dc20"/>
<polygon points="10.0,0.0 100.0,0.0 104.7,18.2 108.9,22.4 111.0,28.6 104.7,33.8 96.4,34.9 86.3,31.8 75.9,32.8 65.5,33.8 55.1,34.9 44.6,37.0 40.0,37.0 10.0,37.0" fill="#d4553a"/>
<polygon points="127.7,10.0 127.7,16.1 133.9,22.4 148.5,25.5 158.9,26.5 167.2,26.5 170.0,24.0 170.0,10.0" fill="#d4553a"/>
<polygon points="113.0,75.0 117.0,73.0 121.0,75.0 120.0,79.0 114.0,79.0" fill="#a8dc20"/>
<path d="M157.5,35.3l5.4,2.1" stroke="#f8f500" stroke-width="0.8" stroke-linecap="round"/>
<path d="M120.2,54.3l3.0,3.6" stroke="#f8f500" stroke-width="0.8" stroke-linecap="round"/>
<path d="M145.8,31.8l3.0,1.6" stroke="#f8f500" stroke-width="0.9" stroke-linecap="round"/>
<path d="M119.1,71.5l4.8,2.9" stroke="#20dc20" stroke-width="0.9" stroke-linecap="round"/>
<path d="M98.4,57.4l5.8,1.6" stroke="#20dc20" stroke-width="1.0" stroke-linecap="round"/>
<path d="M130.1,31.6l4.7,2.5" stroke="#f0a21e" stroke-width="1.0" stroke-linecap="round"/>
<path d="M126.6,47.9l3.2,5.7" stroke="#f0a21e" stroke-width="1.0" stroke-linecap="round"/>
<path d="M50.0,37.5l6.1,1.8" stroke="#d4553a" stroke-width="0.7" stroke-linecap="round"/>
<path d="M125.4,73.4l3.4,2.3" stroke="#2a9c96" stroke-width="0.7" stroke-linecap="round"/>
<path d="M159.3,63.0l-1.4,4.0" stroke="#0d2f86" stroke-width="0.9" stroke-linecap="round"/>
<path d="M60.7,53.4l4.0,1.9" stroke="#0d2f86" stroke-width="0.9" stroke-linecap="round"/>
<path d="M110.0,36.1l5.3,2.3" stroke="#d4553a" stroke-width="0.9" stroke-linecap="round"/>
<path d="M114.6,17.5l4.3,0.5" stroke="#f8f500" stroke-width="0.8" stroke-linecap="round"/>
<path d="M165.7,58.1l-1.7,3.5" stroke="#20dc20" stroke-width="0.7" stroke-linecap="round"/>
<path d="M63.7,57.8l4.0,2.2" stroke="#0d2f86" stroke-width="0.8" stroke-linecap="round"/>
<path d="M82.7,26.3l3.4,0.5" stroke="#f0a21e" stroke-width="1.0" stroke-linecap="round"/>
<path d="M126.0,56.0l3.1,4.4" stroke="#f8f500" stroke-width="0.7" stroke-linecap="round"/>
<path d="M131.7,26.6l5.5,0.8" stroke="#f0a21e" stroke-width="0.8" stroke-linecap="round"/>
<path d="M26.6,25.7l4.0,1.0" stroke="#f0a21e" stroke-width="0.6" stroke-linecap="round"/>
<path d="M46.4,53.1l5.2,2.5" stroke="#20dc20" stroke-width="0.9" stroke-linecap="round"/>
<path d="M65.0,33.3l2.8,0.4" stroke="#f0a21e" stroke-width="0.7" stroke-linecap="round"/>
<path d="M139.0,70.7l2.8,4.9" stroke="#2a9c96" stroke-width="0.7" stroke-linecap="round"/>
<path d="M165.1,43.9l-2.0,6.0" stroke="#f8f500" stroke-width="0.8" stroke-linecap="round"/>
<path d="M100.6,24.1l2.6,1.5" stroke="#f0a21e" stroke-width="1.0" stroke-linecap="round"/>
<path d="M130.4,51.8l2.7,5.2" stroke="#f8f500" stroke-width="0.9" stroke-linecap="round"/>
<path d="M122.6,22.4l4.2,1.7" stroke="#f8f500" stroke-width="0.8" stroke-linecap="round"/>
<path d="M124.6,40.0l5.0,1.9" stroke="#f0a21e" stroke-width="1.0" stroke-linecap="round"/>
<path d="M40.9,35.6l3.6,1.1" stroke="#f0a21e" stroke-width="0.6" stroke-linecap="round"/>
<path d="M167.3,45.6l-1.2,3.1" stroke="#20dc20" stroke-width="0.8" stroke-linecap="round"/>
<path d="M55.1,34.5l5.1,1.7" stroke="#f0a21e" stroke-width="0.7" stroke-linecap="round"/>
<path d="M59.0,45.6l6.1,1.6" stroke="#2a9c96" stroke-width="0.8" stroke-linecap="round"/>
<path d="M154.6,54.8l-0.5,3.9" stroke="#2a9c96" stroke-width="1.1" stroke-linecap="round"/>
<path d="M166.4,49.3l-2.0,4.8" stroke="#20dc20" stroke-width="0.7" stroke-linecap="round"/>
<path d="M91.8,42.9l6.6,1.2" stroke="#f8f500" stroke-width="1.1" stroke-linecap="round"/>
<path d="M68.0,47.9l5.3,0.7" stroke="#2a9c96" stroke-width="0.7" stroke-linecap="round"/>
<path d="M94.8,25.6l3.2,0.6" stroke="#f0a21e" stroke-width="0.8" stroke-linecap="round"/>
<path d="M154.9,48.4l-0.6,4.8" stroke="#20dc20" stroke-width="0.7" stroke-linecap="round"/>
<path d="M114.5,27.6l3.5,1.7" stroke="#f8f500" stroke-width="0.7" stroke-linecap="round"/>
<path d="M143.0,16.3l6.2,0.7" stroke="#f0a21e" stroke-width="1.0" stroke-linecap="round"/>
<path d="M118.1,46.7l2.4,3.2" stroke="#f0a21e" stroke-width="0.8" stroke-linecap="round"/>
<path d="M128.4,28.8l6.4,1.1" stroke="#f0a21e" stroke-width="0.9" stroke-linecap="round"/>
<path d="M131.0,21.1l5.5,2.6" stroke="#20dc20" stroke-width="0.8" stroke-linecap="round"/>
<path d="M104.6,38.4l2.7,1.4" stroke="#20dc20" stroke-width="1.0" stroke-linecap="round"/>
<path d="M92.0,28.4l3.8,2.2" stroke="#f0a21e" stroke-width="0.7" stroke-linecap="round"/>
<path d="M79.5,34.7l3.8,0.4" stroke="#d4553a" stroke-width="1.0" stroke-linecap="round"/>
<path d="M156.1,37.7l2.2,1.3" stroke="#d4553a" stroke-width="0.8" stroke-linecap="round"/>
<path d="M145.3,51.0l0.3,2.8" stroke="#2a9c96" stroke-width="0.8" stroke-linecap="round"/>
<path d="M142.3,30.2l3.1,0.8" stroke="#f8f500" stroke-width="0.7" stroke-linecap="round"/>
<path d="M106.0,52.0l4.2,1.3" stroke="#2a9c96" stroke-width="1.1" stroke-linecap="round"/>
<path d="M135.0,45.7l2.0,5.8" stroke="#f0a21e" stroke-width="1.0" stroke-linecap="round"/>
<path d="M81.1,34.6l5.3,0.9" stroke="#f8f500" stroke-width="1.0" stroke-linecap="round"/>
<path d="M157.6,28.9l3.7,0.7" stroke="#d4553a" stroke-width="0.8" stroke-linecap="round"/>
<path d="M170.5,33.5l4.6,1.6" stroke="#d4553a" stroke-width="1.0" stroke-linecap="round"/>
<path d="M48.9,41.2l4.7,1.8" stroke="#f8f500" stroke-width="0.6" stroke-linecap="round"/>
<path d="M51.2,40.9l5.4,2.4" stroke="#d4553a" stroke-width="0.8" stroke-linecap="round"/>
<path d="M77.7,50.3l4.2,1.2" stroke="#20dc20" stroke-width="1.0" stroke-linecap="round"/>
<path d="M117.5,22.5l3.7,1.9" stroke="#f8f500" stroke-width="0.7" stroke-linecap="round"/>
<path d="M135.7,52.5l1.3,3.4" stroke="#2a9c96" stroke-width="0.7" stroke-linecap="round"/>
<path d="M71.3,57.2l2.5,1.4" stroke="#0d2f86" stroke-width="0.8" stroke-linecap="round"/>
<path d="M108.5,28.9l4.9,1.5" stroke="#f0a21e" stroke-width="0.6" stroke-linecap="round"/>
<path d="M119.2,14.6l4.4,0.7" stroke="#20dc20" stroke-width="1.0" stroke-linecap="round"/>
<path d="M159.9,36.5l6.2,2.8" stroke="#d4553a" stroke-width="0.8" stroke-linecap="round"/>
<path d="M55.4,46.7l2.8,1.1" stroke="#2a9c96" stroke-width="1.0" stroke-linecap="round"/>
<path d="M163.7,39.8l4.3,2.3" stroke="#f8f500" stroke-width="0.6" stroke-linecap="round"/>
<path d="M155.9,43.1l-0.6,5.1" stroke="#f8f500" stroke-width="1.0" stroke-linecap="round"/>
<path d="M157.4,56.6l-1.2,5.3" stroke="#2a9c96" stroke-width="1.0" stroke-linecap="round"/>
<path d="M67.2,47.7l2.6,0.6" stroke="#2a9c96" stroke-width="0.6" stroke-linecap="round"/>
<path d="M163.2,42.7l-1.1,3.8" stroke="#d4553a" stroke-width="0.9" stroke-linecap="round"/>
<path d="M163.1,53.7l-2.0,5.5" stroke="#f8f500" stroke-width="0.9" stroke-linecap="round"/>
<path d="M124.7,27.8l5.0,1.5" stroke="#20dc20" stroke-width="0.7" stroke-linecap="round"/>
</g></g>
<rect x="13.6" y="8.2" width="167.50" height="78.70" fill="none" stroke="#858585" stroke-width="1.0"/>
<path d="M24.30,86.90v1.5M50.55,86.90v1.5M76.80,86.90v1.5M103.05,86.90v1.5M129.30,86.90v1.5M155.55,86.90v1.5M13.60,11.10h-1.1M13.60,37.35h-1.1M13.60,63.60h-1.1" stroke="#222" stroke-width="0.8" fill="none"/>
<text class="tl" x="24.30" y="93.7" text-anchor="middle">75°E</text>
<text class="tl" x="50.55" y="93.7" text-anchor="middle">80°E</text>
<text class="tl" x="76.80" y="93.7" text-anchor="middle">85°E</text>
<text class="tl" x="103.05" y="93.7" text-anchor="middle">90°E</text>
<text class="tl" x="129.30" y="93.7" text-anchor="middle">95°E</text>
<text class="tl" x="155.55" y="93.7" text-anchor="middle">100°E</text>
<text class="tl" transform="translate(10.6,11.10) rotate(-90)" text-anchor="middle">40°N</text>
<text class="tl" transform="translate(10.6,37.35) rotate(-90)" text-anchor="middle">35°N</text>
<text class="tl" transform="translate(10.6,63.60) rotate(-90)" text-anchor="middle">30°N</text>
<text class="ml" x="31.5" y="15.2">Jun</text>
<text class="lt" x="16.9" y="55.0">δ<tspan font-size="3.2px" dy="-1.6">18</tspan><tspan dy="1.6">O</tspan></text><text class="lt" x="30.3" y="55.0" textLength="9.3" lengthAdjust="spacingAndGlyphs">(‰)</text>
<rect x="16.0" y="57.10" width="9.7" height="4.62" fill="#0d2f86"/>
<rect x="16.0" y="61.67" width="9.7" height="4.62" fill="#2a9c96"/>
<rect x="16.0" y="66.24" width="9.7" height="4.62" fill="#20dc20"/>
<rect x="16.0" y="70.81" width="9.7" height="4.62" fill="#f8f500"/>
<rect x="16.0" y="75.38" width="9.7" height="4.62" fill="#f0a21e"/>
<rect x="16.0" y="79.95" width="9.7" height="4.62" fill="#d4553a"/>
<text class="ll" x="27.8" y="62.77">-11.06</text>
<text class="ll" x="27.8" y="67.34">-9.13</text>
<text class="ll" x="27.8" y="71.91">-7.86</text>
<text class="ll" x="27.8" y="76.48">-7.20</text>
<text class="ll" x="27.8" y="81.05">-6.56</text>
</g>
<g transform="translate(0.00,190.72)">
<g clip-path="url(#tp)"><g filter="url(#nz2)"><rect x="10" y="5" width="175" height="85" fill="#0d2f86"/>
<polygon points="10.0,90.0 40.0,90.0 44.2,57.5 58.8,61.7 72.0,66.0 78.0,75.0 81.8,72.0 85.9,63.8 92.2,60.7 98.0,59.6 108.5,58.6 123.1,58.6 137.7,56.5 154.3,56.5 168.9,59.6 175.0,60.0 185.0,60.0 185.0,0.0 10.0,0.0" fill="#2a9c96"/>
<polygon points="128.0,60.0 150.0,58.0 168.0,61.0 170.0,75.0 150.0,80.0 130.0,80.0" fill="#123f86"/>
<polygon points="10.0,90.0 40.0,90.0 44.2,51.3 54.7,53.4 65.0,56.5 75.5,55.5 85.9,52.4 98.0,49.2 108.5,50.2 123.1,52.4 137.7,49.2 154.3,48.2 168.9,51.3 175.2,55.5 185.0,55.0 185.0,0.0 10.0,0.0" fill="#20dc20"/>
<polygon points="10.0,45.0 44.2,45.0 54.7,46.1 65.0,45.0 75.5,42.0 85.9,39.9 98.0,40.0 108.5,44.0 121.0,45.0 133.5,41.9 148.1,38.8 162.7,38.8 173.1,43.0 175.2,49.2 185.0,49.0 185.0,0.0 10.0,0.0" fill="#f8f500"/>
<polygon points="66.0,45.0 74.0,44.0 75.0,52.0 70.0,54.0 66.0,50.0" fill="#a8dc20"/>
<polygon points="69.0,47.0 72.0,47.0 72.0,51.0 69.0,51.0" fill="#f0a21e"/>
<polygon points="10.0,36.7 44.2,36.7 54.7,35.7 67.2,34.6 79.7,33.6 92.2,33.6 98.0,33.6 108.5,36.7 121.0,34.6 137.7,32.5 154.3,31.5 164.8,33.6 185.0,34.0 185.0,0.0 10.0,0.0" fill="#f0a21e"/>
<polygon points="10.0,31.0 34.0,31.0 40.0,28.0 60.0,26.0 81.8,24.2 92.2,22.1 96.0,24.2 108.5,27.3 121.0,28.4 131.4,22.1 143.9,23.2 154.3,27.3 164.8,32.5 168.9,28.4 185.0,28.0 185.0,0.0 10.0,0.0" fill="#d4553a"/>
<polygon points="34.0,32.0 36.0,26.0 45.0,27.0 60.0,28.0 60.0,30.0 45.0,31.0" fill="#f0a21e"/>
<polygon points="135.0,20.0 150.0,22.0 160.0,27.0 155.0,28.0 145.0,26.0 135.0,24.0" fill="#f0a21e"/>
<polygon points="112.0,79.0 116.0,75.0 121.0,71.0 126.0,68.0 129.0,69.0 125.0,73.0 121.0,77.0 118.0,79.0" fill="#a8dc20"/>
<polygon points="115.0,79.0 118.0,76.0 122.0,73.0 124.0,74.0 120.0,78.0 118.0,79.0" fill="#f0a21e"/>
<path d="M147.3,15.3l6.2,2.6" stroke="#f0a21e" stroke-width="1.0" stroke-linecap="round"/>
<path d="M27.7,19.4l4.8,1.8" stroke="#f0a21e" stroke-width="0.8" stroke-linecap="round"/>
<path d="M143.7,71.2l1.8,5.3" stroke="#2a9c96" stroke-width="1.0" stroke-linecap="round"/>
<path d="M136.4,56.3l2.3,5.8" stroke="#20dc20" stroke-width="0.6" stroke-linecap="round"/>
<path d="M165.3,53.5l-2.2,5.2" stroke="#0d2f86" stroke-width="0.7" stroke-linecap="round"/>
<path d="M72.6,29.8l4.0,1.2" stroke="#d4553a" stroke-width="0.8" stroke-linecap="round"/>
<path d="M108.9,58.0l2.5,0.5" stroke="#0d2f86" stroke-width="0.8" stroke-linecap="round"/>
<path d="M72.7,35.7l3.7,1.4" stroke="#20dc20" stroke-width="0.8" stroke-linecap="round"/>
<path d="M161.6,22.1l2.3,1.1" stroke="#f0a21e" stroke-width="0.9" stroke-linecap="round"/>
<path d="M45.7,44.2l5.0,0.5" stroke="#f0a21e" stroke-width="0.7" stroke-linecap="round"/>
<path d="M144.8,48.8l0.5,4.2" stroke="#f8f500" stroke-width="1.0" stroke-linecap="round"/>
<path d="M130.0,13.4l3.5,1.6" stroke="#f0a21e" stroke-width="1.1" stroke-linecap="round"/>
<path d="M155.9,50.7l-1.0,6.8" stroke="#0d2f86" stroke-width="1.0" stroke-linecap="round"/>
<path d="M63.1,54.3l6.0,1.4" stroke="#2a9c96" stroke-width="0.9" stroke-linecap="round"/>
<path d="M101.5,38.2l6.1,0.7" stroke="#f0a21e" stroke-width="1.0" stroke-linecap="round"/>
<path d="M131.3,50.3l2.7,5.8" stroke="#f8f500" stroke-width="0.7" stroke-linecap="round"/>
<path d="M66.4,65.2l2.4,0.8" stroke="#20dc20" stroke-width="0.7" stroke-linecap="round"/>
<path d="M170.8,53.4l-1.5,2.7" stroke="#20dc20" stroke-width="0.8" stroke-linecap="round"/>
<path d="M85.8,33.6l4.6,1.3" stroke="#d4553a" stroke-width="0.9" stroke-linecap="round"/>
<path d="M120.4,24.5l3.1,1.8" stroke="#f0a21e" stroke-width="1.0" stroke-linecap="round"/>
<path d="M82.7,61.9l5.7,1.1" stroke="#20dc20" stroke-width="0.9" stroke-linecap="round"/>
<path d="M148.3,34.5l5.1,1.7" stroke="#f0a21e" stroke-width="0.7" stroke-linecap="round"/>
<path d="M157.1,41.3l-0.7,5.0" stroke="#f8f500" stroke-width="0.9" stroke-linecap="round"/>
<path d="M135.2,42.1l1.6,5.3" stroke="#f8f500" stroke-width="0.6" stroke-linecap="round"/>
<path d="M78.0,36.8l5.9,0.5" stroke="#f0a21e" stroke-width="0.8" stroke-linecap="round"/>
<path d="M166.0,48.2l-1.9,5.0" stroke="#2a9c96" stroke-width="0.7" stroke-linecap="round"/>
<path d="M100.5,22.2l2.8,0.9" stroke="#f0a21e" stroke-width="0.8" stroke-linecap="round"/>
<path d="M116.4,76.1l5.7,3.1" stroke="#f8f500" stroke-width="0.9" stroke-linecap="round"/>
<path d="M92.0,27.1l2.8,1.4" stroke="#d4553a" stroke-width="0.7" stroke-linecap="round"/>
<path d="M109.3,31.4l5.2,1.0" stroke="#d4553a" stroke-width="1.0" stroke-linecap="round"/>
<path d="M164.4,36.2l5.1,2.2" stroke="#f0a21e" stroke-width="1.0" stroke-linecap="round"/>
<path d="M160.7,44.0l-0.6,2.5" stroke="#2a9c96" stroke-width="0.8" stroke-linecap="round"/>
<path d="M147.6,23.7l5.1,2.2" stroke="#f8f500" stroke-width="0.7" stroke-linecap="round"/>
<path d="M158.9,74.1l-2.0,3.5" stroke="#2a9c96" stroke-width="0.7" stroke-linecap="round"/>
<path d="M99.0,16.8l6.3,2.7" stroke="#f0a21e" stroke-width="0.8" stroke-linecap="round"/>
<path d="M118.4,63.6l2.7,2.3" stroke="#2a9c96" stroke-width="1.0" stroke-linecap="round"/>
<path d="M73.9,39.8l3.0,1.5" stroke="#20dc20" stroke-width="1.0" stroke-linecap="round"/>
<path d="M95.4,70.4l6.0,3.4" stroke="#2a9c96" stroke-width="1.0" stroke-linecap="round"/>
<path d="M121.8,28.5l5.2,2.0" stroke="#f8f500" stroke-width="0.6" stroke-linecap="round"/>
<path d="M88.5,54.8l3.4,1.7" stroke="#20dc20" stroke-width="1.0" stroke-linecap="round"/>
<path d="M71.0,59.9l2.3,1.1" stroke="#0d2f86" stroke-width="0.6" stroke-linecap="round"/>
<path d="M76.7,54.0l3.6,1.2" stroke="#2a9c96" stroke-width="0.9" stroke-linecap="round"/>
<path d="M110.6,42.6l6.1,3.0" stroke="#f0a21e" stroke-width="1.0" stroke-linecap="round"/>
<path d="M67.8,52.8l5.6,2.1" stroke="#2a9c96" stroke-width="1.0" stroke-linecap="round"/>
<path d="M62.7,50.7l4.4,1.6" stroke="#f8f500" stroke-width="1.1" stroke-linecap="round"/>
<path d="M105.5,21.9l3.7,0.6" stroke="#f0a21e" stroke-width="0.9" stroke-linecap="round"/>
<path d="M91.1,62.5l4.0,1.2" stroke="#2a9c96" stroke-width="1.0" stroke-linecap="round"/>
<path d="M94.7,35.1l4.2,2.0" stroke="#20dc20" stroke-width="0.8" stroke-linecap="round"/>
<path d="M83.9,71.3l4.5,0.6" stroke="#20dc20" stroke-width="0.7" stroke-linecap="round"/>
<path d="M65.8,43.9l4.3,2.4" stroke="#20dc20" stroke-width="0.6" stroke-linecap="round"/>
<path d="M66.7,35.9l6.8,0.9" stroke="#20dc20" stroke-width="0.9" stroke-linecap="round"/>
<path d="M39.9,32.1l3.3,1.9" stroke="#d4553a" stroke-width="1.1" stroke-linecap="round"/>
<path d="M66.5,47.7l4.1,1.3" stroke="#f8f500" stroke-width="0.9" stroke-linecap="round"/>
<path d="M71.9,58.4l3.0,1.0" stroke="#0d2f86" stroke-width="0.7" stroke-linecap="round"/>
<path d="M136.6,71.3l1.8,2.6" stroke="#2a9c96" stroke-width="0.6" stroke-linecap="round"/>
<path d="M163.3,44.8l-0.8,2.9" stroke="#2a9c96" stroke-width="0.6" stroke-linecap="round"/>
<path d="M111.1,35.7l5.0,2.3" stroke="#d4553a" stroke-width="0.6" stroke-linecap="round"/>
<path d="M131.9,71.0l3.1,3.3" stroke="#20dc20" stroke-width="0.7" stroke-linecap="round"/>
<path d="M122.2,45.0l2.7,4.3" stroke="#f8f500" stroke-width="0.7" stroke-linecap="round"/>
<path d="M68.7,41.2l4.5,2.2" stroke="#f0a21e" stroke-width="0.8" stroke-linecap="round"/>
<path d="M103.0,16.3l4.3,0.8" stroke="#f0a21e" stroke-width="0.6" stroke-linecap="round"/>
<path d="M161.7,61.3l-2.4,6.0" stroke="#20dc20" stroke-width="1.0" stroke-linecap="round"/>
<path d="M77.4,29.9l3.6,0.9" stroke="#f8f500" stroke-width="1.0" stroke-linecap="round"/>
<path d="M46.6,46.9l3.4,1.8" stroke="#f8f500" stroke-width="0.7" stroke-linecap="round"/>
<path d="M110.4,47.8l2.4,1.1" stroke="#f8f500" stroke-width="0.8" stroke-linecap="round"/>
<path d="M44.8,29.7l6.2,0.8" stroke="#d4553a" stroke-width="0.8" stroke-linecap="round"/>
<path d="M102.9,42.7l6.1,1.9" stroke="#f8f500" stroke-width="0.9" stroke-linecap="round"/>
<path d="M164.7,53.4l-2.4,6.0" stroke="#0d2f86" stroke-width="0.9" stroke-linecap="round"/>
<path d="M148.3,59.7l0.3,5.3" stroke="#20dc20" stroke-width="1.0" stroke-linecap="round"/>
<path d="M119.9,27.6l2.6,0.4" stroke="#f0a21e" stroke-width="0.9" stroke-linecap="round"/>
<path d="M104.2,16.4l3.1,1.7" stroke="#f0a21e" stroke-width="0.9" stroke-linecap="round"/>
<path d="M146.2,56.4l0.7,6.1" stroke="#0d2f86" stroke-width="0.7" stroke-linecap="round"/>
<path d="M85.8,39.1l3.6,1.9" stroke="#20dc20" stroke-width="0.7" stroke-linecap="round"/>
<path d="M155.7,28.8l4.7,2.1" stroke="#f8f500" stroke-width="1.1" stroke-linecap="round"/>
<path d="M162.6,55.5l-1.9,5.2" stroke="#20dc20" stroke-width="0.8" stroke-linecap="round"/>
<path d="M126.8,37.2l2.9,1.6" stroke="#20dc20" stroke-width="1.0" stroke-linecap="round"/>
<path d="M131.8,69.9l4.6,5.0" stroke="#2a9c96" stroke-width="0.9" stroke-linecap="round"/>
<path d="M72.0,44.6l2.3,1.2" stroke="#f8f500" stroke-width="0.7" stroke-linecap="round"/>
<path d="M57.7,38.1l3.5,0.9" stroke="#f0a21e" stroke-width="1.0" stroke-linecap="round"/>
<path d="M160.8,74.0l-3.1,4.6" stroke="#20dc20" stroke-width="0.7" stroke-linecap="round"/>
<path d="M32.0,27.8l5.7,1.4" stroke="#f0a21e" stroke-width="0.8" stroke-linecap="round"/>
<path d="M127.8,40.7l1.7,3.8" stroke="#f0a21e" stroke-width="0.7" stroke-linecap="round"/>
<path d="M143.8,59.2l0.5,2.7" stroke="#2a9c96" stroke-width="1.0" stroke-linecap="round"/>
<path d="M121.5,51.5l4.0,5.4" stroke="#f8f500" stroke-width="0.8" stroke-linecap="round"/>
<path d="M49.0,35.6l4.2,1.3" stroke="#f8f500" stroke-width="1.0" stroke-linecap="round"/>
<path d="M100.5,46.7l6.5,2.1" stroke="#2a9c96" stroke-width="0.8" stroke-linecap="round"/>
<path d="M77.8,57.0l2.6,0.5" stroke="#0d2f86" stroke-width="1.1" stroke-linecap="round"/>
<path d="M92.3,45.5l3.0,1.0" stroke="#f8f500" stroke-width="1.0" stroke-linecap="round"/>
<path d="M88.2,32.8l5.2,2.1" stroke="#d4553a" stroke-width="1.1" stroke-linecap="round"/>
<path d="M88.5,55.1l5.5,1.9" stroke="#0d2f86" stroke-width="1.0" stroke-linecap="round"/>
<path d="M143.0,50.6l1.1,6.3" stroke="#20dc20" stroke-width="0.7" stroke-linecap="round"/>
<path d="M84.3,56.3l3.2,1.3" stroke="#0d2f86" stroke-width="0.8" stroke-linecap="round"/>
<path d="M113.3,17.9l2.8,1.0" stroke="#f0a21e" stroke-width="0.9" stroke-linecap="round"/>
<path d="M134.1,23.3l2.6,1.3" stroke="#f8f500" stroke-width="1.0" stroke-linecap="round"/>
<path d="M59.7,58.6l3.0,1.2" stroke="#20dc20" stroke-width="0.8" stroke-linecap="round"/>
<path d="M103.6,46.4l6.2,2.6" stroke="#f8f500" stroke-width="0.9" stroke-linecap="round"/>
<path d="M136.4,53.4l1.2,3.3" stroke="#0d2f86" stroke-width="0.7" stroke-linecap="round"/>
<path d="M149.8,49.0l0.0,5.3" stroke="#20dc20" stroke-width="0.7" stroke-linecap="round"/>
<path d="M20.7,15.1l3.4,1.8" stroke="#f0a21e" stroke-width="0.9" stroke-linecap="round"/>
<path d="M130.0,27.5l5.0,1.8" stroke="#d4553a" stroke-width="0.7" stroke-linecap="round"/>
<path d="M51.4,48.6l4.3,1.4" stroke="#f8f500" stroke-width="1.0" stroke-linecap="round"/>
<path d="M168.8,36.6l4.4,0.4" stroke="#20dc20" stroke-width="0.7" stroke-linecap="round"/>
<path d="M151.8,45.2l-0.1,3.1" stroke="#2a9c96" stroke-width="1.0" stroke-linecap="round"/>
<path d="M145.5,64.2l1.1,6.6" stroke="#20dc20" stroke-width="1.1" stroke-linecap="round"/>
<path d="M112.0,35.8l4.1,1.2" stroke="#f8f500" stroke-width="0.9" stroke-linecap="round"/>
<path d="M108.5,43.4l5.6,1.2" stroke="#20dc20" stroke-width="0.8" stroke-linecap="round"/>
<path d="M141.8,42.1l0.8,4.8" stroke="#f8f500" stroke-width="0.6" stroke-linecap="round"/>
<path d="M113.7,54.9l3.9,1.3" stroke="#20dc20" stroke-width="0.9" stroke-linecap="round"/>
<path d="M70.8,50.5l5.5,1.9" stroke="#d4553a" stroke-width="0.9" stroke-linecap="round"/>
<path d="M167.6,30.8l3.1,1.6" stroke="#d4553a" stroke-width="0.7" stroke-linecap="round"/>
<path d="M52.8,33.7l3.6,0.5" stroke="#d4553a" stroke-width="1.1" stroke-linecap="round"/>
<path d="M50.9,34.2l4.9,1.7" stroke="#d4553a" stroke-width="0.7" stroke-linecap="round"/>
<path d="M110.1,17.9l6.5,1.1" stroke="#f0a21e" stroke-width="1.0" stroke-linecap="round"/>
<path d="M138.0,18.8l5.9,2.9" stroke="#f0a21e" stroke-width="1.1" stroke-linecap="round"/>
<path d="M100.1,38.8l3.8,1.2" stroke="#f0a21e" stroke-width="0.7" stroke-linecap="round"/>
<path d="M104.9,50.1l5.8,2.6" stroke="#0d2f86" stroke-width="0.8" stroke-linecap="round"/>
<path d="M86.7,53.3l4.9,2.5" stroke="#20dc20" stroke-width="0.8" stroke-linecap="round"/>
<path d="M161.8,50.1l-1.0,3.4" stroke="#20dc20" stroke-width="0.7" stroke-linecap="round"/>
<path d="M122.3,72.8l4.8,3.0" stroke="#20dc20" stroke-width="1.0" stroke-linecap="round"/>
<path d="M163.4,51.6l-1.4,4.1" stroke="#20dc20" stroke-width="1.1" stroke-linecap="round"/>
<path d="M73.6,41.7l6.4,1.8" stroke="#20dc20" stroke-width="1.1" stroke-linecap="round"/>
<path d="M82.2,65.6l2.7,0.9" stroke="#0d2f86" stroke-width="0.7" stroke-linecap="round"/>
<path d="M102.7,41.4l3.5,2.0" stroke="#20dc20" stroke-width="0.9" stroke-linecap="round"/>
<path d="M70.1,64.5l5.6,2.8" stroke="#20dc20" stroke-width="1.1" stroke-linecap="round"/>
<path d="M87.6,51.2l5.8,1.2" stroke="#2a9c96" stroke-width="0.7" stroke-linecap="round"/>
<path d="M68.5,35.6l4.9,2.4" stroke="#f0a21e" stroke-width="0.8" stroke-linecap="round"/>
<path d="M104.4,54.8l4.8,1.9" stroke="#0d2f86" stroke-width="0.6" stroke-linecap="round"/>
<path d="M87.4,36.4l6.4,2.1" stroke="#20dc20" stroke-width="0.7" stroke-linecap="round"/>
<path d="M62.4,42.5l3.9,1.0" stroke="#f0a21e" stroke-width="0.8" stroke-linecap="round"/>
<path d="M133.2,41.6l1.6,4.5" stroke="#f0a21e" stroke-width="0.9" stroke-linecap="round"/>
<path d="M138.7,20.4l3.0,1.4" stroke="#f0a21e" stroke-width="1.1" stroke-linecap="round"/>
<path d="M157.6,36.0l5.9,2.4" stroke="#20dc20" stroke-width="1.0" stroke-linecap="round"/>
<path d="M60.9,31.0l3.4,1.3" stroke="#f8f500" stroke-width="0.7" stroke-linecap="round"/>
<path d="M127.8,46.6l1.6,3.1" stroke="#f8f500" stroke-width="0.8" stroke-linecap="round"/>
<path d="M148.5,76.5l0.6,5.2" stroke="#2a9c96" stroke-width="0.8" stroke-linecap="round"/>
<path d="M83.0,34.3l5.2,2.2" stroke="#f0a21e" stroke-width="0.6" stroke-linecap="round"/>
<path d="M64.8,56.6l4.2,0.7" stroke="#20dc20" stroke-width="0.6" stroke-linecap="round"/>
<path d="M160.1,47.9l-1.5,6.1" stroke="#2a9c96" stroke-width="1.0" stroke-linecap="round"/>
<path d="M111.7,40.8l4.5,1.5" stroke="#20dc20" stroke-width="0.9" stroke-linecap="round"/>
<path d="M152.4,44.6l-0.3,5.1" stroke="#2a9c96" stroke-width="0.8" stroke-linecap="round"/>
<path d="M72.1,61.4l5.0,2.7" stroke="#20dc20" stroke-width="0.6" stroke-linecap="round"/>
<path d="M148.4,70.1l0.3,3.6" stroke="#20dc20" stroke-width="0.8" stroke-linecap="round"/>
<path d="M139.1,36.7l5.4,1.8" stroke="#20dc20" stroke-width="0.9" stroke-linecap="round"/>
<path d="M115.2,75.8l3.0,1.0" stroke="#20dc20" stroke-width="0.9" stroke-linecap="round"/>
<path d="M103.7,43.4l4.4,1.6" stroke="#2a9c96" stroke-width="0.7" stroke-linecap="round"/>
<path d="M31.3,25.0l5.3,1.1" stroke="#f0a21e" stroke-width="0.9" stroke-linecap="round"/>
<path d="M144.8,26.6l5.3,1.0" stroke="#d4553a" stroke-width="0.7" stroke-linecap="round"/>
<path d="M96.0,46.2l6.4,2.5" stroke="#2a9c96" stroke-width="0.8" stroke-linecap="round"/>
<path d="M157.9,36.2l5.9,1.6" stroke="#20dc20" stroke-width="0.7" stroke-linecap="round"/>
<path d="M84.4,41.8l5.7,2.5" stroke="#f8f500" stroke-width="0.9" stroke-linecap="round"/>
<path d="M105.9,49.7l4.4,1.3" stroke="#f8f500" stroke-width="0.7" stroke-linecap="round"/>
<path d="M80.4,57.1l3.1,0.5" stroke="#0d2f86" stroke-width="1.1" stroke-linecap="round"/>
<path d="M94.4,57.1l6.2,3.2" stroke="#20dc20" stroke-width="0.9" stroke-linecap="round"/>
<path d="M87.6,28.6l5.6,2.6" stroke="#f8f500" stroke-width="0.9" stroke-linecap="round"/>
<path d="M53.3,43.3l4.4,1.3" stroke="#f0a21e" stroke-width="0.8" stroke-linecap="round"/>
<path d="M154.2,55.0l-0.5,3.9" stroke="#20dc20" stroke-width="0.8" stroke-linecap="round"/>
<path d="M85.3,24.9l3.1,1.1" stroke="#d4553a" stroke-width="0.7" stroke-linecap="round"/>
<path d="M160.1,57.0l-1.8,5.9" stroke="#0d2f86" stroke-width="1.1" stroke-linecap="round"/>
<path d="M125.9,56.2l2.9,4.0" stroke="#20dc20" stroke-width="1.1" stroke-linecap="round"/>
<path d="M153.6,42.1l-0.3,3.7" stroke="#f8f500" stroke-width="1.1" stroke-linecap="round"/>
<path d="M136.1,44.6l2.0,6.6" stroke="#2a9c96" stroke-width="1.1" stroke-linecap="round"/>
<path d="M156.1,48.6l-0.6,4.2" stroke="#20dc20" stroke-width="0.8" stroke-linecap="round"/>
<path d="M172.8,37.8l5.3,1.0" stroke="#20dc20" stroke-width="0.6" stroke-linecap="round"/>
<path d="M118.5,32.6l4.1,2.0" stroke="#d4553a" stroke-width="0.9" stroke-linecap="round"/>
<path d="M50.3,55.6l3.7,0.4" stroke="#20dc20" stroke-width="1.0" stroke-linecap="round"/>
<path d="M164.2,27.0l5.7,1.2" stroke="#f0a21e" stroke-width="1.0" stroke-linecap="round"/>
<path d="M145.1,59.1l1.0,6.2" stroke="#2a9c96" stroke-width="0.8" stroke-linecap="round"/>
<path d="M153.9,71.3l-1.0,4.7" stroke="#20dc20" stroke-width="0.7" stroke-linecap="round"/>
<path d="M78.3,56.5l3.1,0.5" stroke="#0d2f86" stroke-width="0.6" stroke-linecap="round"/>
<path d="M83.3,24.9l5.6,2.3" stroke="#f8f500" stroke-width="0.9" stroke-linecap="round"/>
</g></g>
<rect x="13.6" y="8.2" width="167.50" height="78.70" fill="none" stroke="#858585" stroke-width="1.0"/>
<path d="M24.30,86.90v1.5M50.55,86.90v1.5M76.80,86.90v1.5M103.05,86.90v1.5M129.30,86.90v1.5M155.55,86.90v1.5M13.60,11.10h-1.1M13.60,37.35h-1.1M13.60,63.60h-1.1" stroke="#222" stroke-width="0.8" fill="none"/>
<text class="tl" x="24.30" y="93.7" text-anchor="middle">75°E</text>
<text class="tl" x="50.55" y="93.7" text-anchor="middle">80°E</text>
<text class="tl" x="76.80" y="93.7" text-anchor="middle">85°E</text>
<text class="tl" x="103.05" y="93.7" text-anchor="middle">90°E</text>
<text class="tl" x="129.30" y="93.7" text-anchor="middle">95°E</text>
<text class="tl" x="155.55" y="93.7" text-anchor="middle">100°E</text>
<text class="tl" transform="translate(10.6,11.10) rotate(-90)" text-anchor="middle">40°N</text>
<text class="tl" transform="translate(10.6,37.35) rotate(-90)" text-anchor="middle">35°N</text>
<text class="tl" transform="translate(10.6,63.60) rotate(-90)" text-anchor="middle">30°N</text>
<text class="ml" x="31.5" y="15.2">Jul</text>
<text class="lt" x="16.9" y="55.0">δ<tspan font-size="3.2px" dy="-1.6">18</tspan><tspan dy="1.6">O</tspan></text><text class="lt" x="30.3" y="55.0" textLength="9.3" lengthAdjust="spacingAndGlyphs">(‰)</text>
<rect x="16.0" y="57.10" width="9.7" height="4.62" fill="#0d2f86"/>
<rect x="16.0" y="61.67" width="9.7" height="4.62" fill="#2a9c96"/>
<rect x="16.0" y="66.24" width="9.7" height="4.62" fill="#20dc20"/>
<rect x="16.0" y="70.81" width="9.7" height="4.62" fill="#f8f500"/>
<rect x="16.0" y="75.38" width="9.7" height="4.62" fill="#f0a21e"/>
<rect x="16.0" y="79.95" width="9.7" height="4.62" fill="#d4553a"/>
<text class="ll" x="27.8" y="62.77">-15.66</text>
<text class="ll" x="27.8" y="67.34">-13.44</text>
<text class="ll" x="27.8" y="71.91">-11.48</text>
<text class="ll" x="27.8" y="76.48">-9.30</text>
<text class="ll" x="27.8" y="81.05">-7.92</text>
</g>
<g transform="translate(181.92,190.72)">
<g clip-path="url(#tp)"><g filter="url(#nz2)"><rect x="10" y="5" width="175" height="85" fill="#0d2f86"/>
<polygon points="40.0,56.0 44.0,54.0 52.0,57.0 64.0,61.0 75.7,68.0 86.0,72.1 90.0,76.0 90.0,90.0 40.0,90.0" fill="#2a9c96"/>
<polygon points="96.0,54.0 110.0,53.0 125.0,55.0 140.0,53.0 160.0,54.0 172.0,56.0 172.0,75.0 150.0,80.0 100.0,80.0 96.0,70.0" fill="#123f86"/>
<polygon points="60.0,60.0 75.0,58.0 90.0,56.0 100.0,57.0 95.0,62.0 80.0,63.0 65.0,63.0" fill="#17915a"/>
<polygon points="10.0,90.0 40.0,90.0 44.0,54.0 52.0,55.4 64.0,58.0 77.0,56.7 90.0,54.0 100.0,51.0 108.0,50.0 117.0,50.0 137.8,49.0 158.7,50.0 171.2,54.0 185.0,54.0 185.0,0.0 10.0,0.0" fill="#20dc20"/>
<polygon points="10.0,51.0 44.0,51.0 52.0,53.0 64.0,55.0 77.0,54.0 90.0,51.0 96.0,46.0 100.0,40.0 185.0,38.0 185.0,0.0 10.0,0.0" fill="#a8dc20"/>
<polygon points="10.0,43.0 44.0,43.0 51.0,44.0 60.0,45.0 70.0,44.0 77.0,42.0 85.0,40.0 96.2,41.0 117.0,43.0 137.8,40.9 158.7,38.8 173.2,43.0 175.3,47.0 185.0,47.0 185.0,0.0 10.0,0.0" fill="#f8f500"/>
<polygon points="10.0,36.0 44.0,36.0 55.0,37.0 70.0,37.5 82.0,36.0 98.0,34.0 117.0,35.0 137.8,34.0 158.7,35.0 169.0,37.0 185.0,37.0 185.0,0.0 10.0,0.0" fill="#f0a21e"/>
<polygon points="10.0,30.0 34.0,30.0 40.0,27.0 60.0,27.0 82.0,25.5 96.2,26.3 108.7,28.4 121.2,28.4 133.7,26.3 144.0,30.5 154.5,30.5 165.0,32.5 185.0,32.0 185.0,0.0 10.0,0.0" fill="#d4553a"/>
<polygon points="34.0,31.0 36.0,26.0 45.0,27.0 60.0,28.5 60.0,30.0 45.0,31.0" fill="#f0a21e"/>
<polygon points="135.0,21.0 150.0,24.0 165.0,29.0 160.0,31.0 145.0,28.0 135.0,25.0" fill="#f0a21e"/>
<polygon points="112.0,79.0 116.0,75.0 122.0,71.0 128.0,67.0 131.0,66.0 132.0,68.0 127.0,72.0 121.0,77.0 118.0,79.0" fill="#a8dc20"/>
<polygon points="114.0,79.0 118.0,75.0 123.0,72.0 126.0,72.0 121.0,77.0 118.0,79.0" fill="#f0a21e"/>
<path d="M123.5,15.9l3.0,1.5" stroke="#f0a21e" stroke-width="1.0" stroke-linecap="round"/>
<path d="M68.1,31.4l3.0,1.5" stroke="#f8f500" stroke-width="0.7" stroke-linecap="round"/>
<path d="M49.9,50.8l6.2,0.8" stroke="#20dc20" stroke-width="1.1" stroke-linecap="round"/>
<path d="M100.5,50.3l3.3,0.7" stroke="#2a9c96" stroke-width="0.9" stroke-linecap="round"/>
<path d="M132.3,54.1l2.7,5.5" stroke="#20dc20" stroke-width="0.7" stroke-linecap="round"/>
<path d="M102.2,69.2l2.7,0.3" stroke="#2a9c96" stroke-width="0.7" stroke-linecap="round"/>
<path d="M120.0,62.9l2.8,2.5" stroke="#2a9c96" stroke-width="1.0" stroke-linecap="round"/>
<path d="M94.8,34.5l5.8,1.5" stroke="#f0a21e" stroke-width="1.0" stroke-linecap="round"/>
<path d="M166.5,46.7l-1.8,4.7" stroke="#f8f500" stroke-width="1.0" stroke-linecap="round"/>
<path d="M138.7,17.4l2.6,1.3" stroke="#f0a21e" stroke-width="0.9" stroke-linecap="round"/>
<path d="M125.6,33.2l5.6,0.9" stroke="#d4553a" stroke-width="0.7" stroke-linecap="round"/>
<path d="M120.6,53.4l1.8,2.3" stroke="#2a9c96" stroke-width="1.0" stroke-linecap="round"/>
<path d="M104.7,32.5l2.5,1.1" stroke="#d4553a" stroke-width="0.9" stroke-linecap="round"/>
<path d="M136.2,27.7l4.7,1.8" stroke="#f8f500" stroke-width="0.8" stroke-linecap="round"/>
<path d="M147.9,73.2l0.7,5.3" stroke="#20dc20" stroke-width="1.1" stroke-linecap="round"/>
<path d="M158.1,49.8l-0.5,2.6" stroke="#f8f500" stroke-width="0.6" stroke-linecap="round"/>
<path d="M76.7,32.9l6.0,2.4" stroke="#d4553a" stroke-width="0.7" stroke-linecap="round"/>
<path d="M93.9,19.0l2.4,0.7" stroke="#f0a21e" stroke-width="0.8" stroke-linecap="round"/>
<path d="M107.3,28.6l6.2,3.2" stroke="#d4553a" stroke-width="0.9" stroke-linecap="round"/>
<path d="M122.7,44.6l1.8,3.0" stroke="#f8f500" stroke-width="1.0" stroke-linecap="round"/>
<path d="M159.9,58.3l-1.9,6.1" stroke="#2a9c96" stroke-width="0.7" stroke-linecap="round"/>
<path d="M127.9,68.3l3.2,3.2" stroke="#f8f500" stroke-width="0.7" stroke-linecap="round"/>
<path d="M140.8,63.8l1.5,4.4" stroke="#2a9c96" stroke-width="0.9" stroke-linecap="round"/>
<path d="M144.2,33.8l6.4,2.2" stroke="#f8f500" stroke-width="0.8" stroke-linecap="round"/>
<path d="M72.4,55.7l4.6,1.9" stroke="#2a9c96" stroke-width="0.8" stroke-linecap="round"/>
<path d="M66.6,47.1l2.6,1.5" stroke="#f8f500" stroke-width="1.1" stroke-linecap="round"/>
<path d="M113.8,59.6l4.4,2.4" stroke="#2a9c96" stroke-width="1.1" stroke-linecap="round"/>
<path d="M163.6,65.5l-2.4,4.3" stroke="#2a9c96" stroke-width="0.9" stroke-linecap="round"/>
<path d="M94.2,55.9l4.2,1.5" stroke="#2a9c96" stroke-width="1.1" stroke-linecap="round"/>
<path d="M53.4,47.3l4.8,1.4" stroke="#20dc20" stroke-width="1.1" stroke-linecap="round"/>
<path d="M103.4,57.5l4.5,2.1" stroke="#20dc20" stroke-width="1.0" stroke-linecap="round"/>
<path d="M104.1,55.8l5.4,1.9" stroke="#20dc20" stroke-width="0.6" stroke-linecap="round"/>
<path d="M61.8,43.2l4.3,2.3" stroke="#20dc20" stroke-width="0.9" stroke-linecap="round"/>
<path d="M138.7,71.4l2.9,4.8" stroke="#20dc20" stroke-width="0.7" stroke-linecap="round"/>
<path d="M124.2,44.9l2.8,4.9" stroke="#2a9c96" stroke-width="0.9" stroke-linecap="round"/>
<path d="M112.8,61.2l3.6,1.7" stroke="#20dc20" stroke-width="1.0" stroke-linecap="round"/>
<path d="M163.8,27.5l6.5,2.5" stroke="#f0a21e" stroke-width="1.0" stroke-linecap="round"/>
<path d="M127.0,36.7l6.0,0.6" stroke="#f0a21e" stroke-width="0.9" stroke-linecap="round"/>
<path d="M44.4,43.5l3.0,1.0" stroke="#f8f500" stroke-width="0.7" stroke-linecap="round"/>
<path d="M97.0,56.9l6.5,0.9" stroke="#20dc20" stroke-width="1.0" stroke-linecap="round"/>
<path d="M142.5,21.8l6.3,2.2" stroke="#f0a21e" stroke-width="0.7" stroke-linecap="round"/>
<path d="M134.4,59.9l2.3,4.5" stroke="#2a9c96" stroke-width="1.0" stroke-linecap="round"/>
<path d="M135.7,48.2l2.1,6.2" stroke="#f8f500" stroke-width="0.9" stroke-linecap="round"/>
<path d="M96.2,24.0l5.2,2.7" stroke="#f0a21e" stroke-width="1.1" stroke-linecap="round"/>
<path d="M112.5,63.2l6.1,3.1" stroke="#20dc20" stroke-width="0.9" stroke-linecap="round"/>
<path d="M156.5,66.8l-0.8,2.8" stroke="#20dc20" stroke-width="1.1" stroke-linecap="round"/>
<path d="M98.0,45.0l4.5,2.4" stroke="#2a9c96" stroke-width="0.8" stroke-linecap="round"/>
<path d="M160.1,64.4l-2.1,5.3" stroke="#20dc20" stroke-width="0.8" stroke-linecap="round"/>
<path d="M46.5,54.1l4.9,0.8" stroke="#2a9c96" stroke-width="0.7" stroke-linecap="round"/>
<path d="M113.4,46.1l5.0,2.8" stroke="#2a9c96" stroke-width="1.0" stroke-linecap="round"/>
<path d="M91.4,53.0l6.4,2.6" stroke="#f8f500" stroke-width="0.8" stroke-linecap="round"/>
<path d="M149.6,70.8l0.1,4.8" stroke="#20dc20" stroke-width="1.1" stroke-linecap="round"/>
<path d="M131.0,41.1l2.4,6.1" stroke="#20dc20" stroke-width="1.1" stroke-linecap="round"/>
<path d="M43.4,36.6l2.5,1.0" stroke="#20dc20" stroke-width="0.9" stroke-linecap="round"/>
<path d="M125.3,48.4l2.3,3.9" stroke="#2a9c96" stroke-width="1.1" stroke-linecap="round"/>
<path d="M75.3,38.0l3.2,1.0" stroke="#f0a21e" stroke-width="0.7" stroke-linecap="round"/>
<path d="M131.9,24.2l3.6,1.3" stroke="#f0a21e" stroke-width="0.9" stroke-linecap="round"/>
<path d="M40.9,35.1l4.2,1.9" stroke="#d4553a" stroke-width="1.0" stroke-linecap="round"/>
<path d="M75.7,49.4l3.9,1.2" stroke="#f8f500" stroke-width="1.1" stroke-linecap="round"/>
<path d="M65.3,47.4l5.8,1.5" stroke="#f8f500" stroke-width="1.0" stroke-linecap="round"/>
<path d="M103.8,31.3l4.5,0.5" stroke="#d4553a" stroke-width="0.6" stroke-linecap="round"/>
<path d="M50.8,43.0l6.4,1.5" stroke="#20dc20" stroke-width="0.7" stroke-linecap="round"/>
<path d="M124.7,45.5l1.5,2.6" stroke="#2a9c96" stroke-width="0.7" stroke-linecap="round"/>
<path d="M87.1,57.3l4.1,2.4" stroke="#20dc20" stroke-width="0.6" stroke-linecap="round"/>
<path d="M146.4,29.0l6.1,3.3" stroke="#f0a21e" stroke-width="1.1" stroke-linecap="round"/>
<path d="M149.2,67.8l0.2,6.4" stroke="#20dc20" stroke-width="0.9" stroke-linecap="round"/>
<path d="M148.0,68.9l0.4,4.6" stroke="#20dc20" stroke-width="0.6" stroke-linecap="round"/>
<path d="M133.5,17.4l5.1,1.2" stroke="#f0a21e" stroke-width="1.1" stroke-linecap="round"/>
<path d="M155.7,45.2l-0.9,6.9" stroke="#f8f500" stroke-width="0.8" stroke-linecap="round"/>
<path d="M40.4,34.9l6.4,1.3" stroke="#f8f500" stroke-width="0.7" stroke-linecap="round"/>
<path d="M153.7,36.3l3.2,1.8" stroke="#20dc20" stroke-width="0.6" stroke-linecap="round"/>
<path d="M174.2,42.9l-1.4,2.7" stroke="#f0a21e" stroke-width="0.7" stroke-linecap="round"/>
<path d="M130.8,47.1l1.2,2.6" stroke="#2a9c96" stroke-width="1.1" stroke-linecap="round"/>
<path d="M50.9,50.6l4.3,1.4" stroke="#20dc20" stroke-width="0.7" stroke-linecap="round"/>
<path d="M106.8,24.5l2.6,0.4" stroke="#f0a21e" stroke-width="0.8" stroke-linecap="round"/>
<path d="M144.4,57.8l0.5,2.7" stroke="#2a9c96" stroke-width="0.6" stroke-linecap="round"/>
<path d="M95.6,60.2l3.0,1.6" stroke="#20dc20" stroke-width="0.9" stroke-linecap="round"/>
<path d="M145.2,59.4l0.7,4.5" stroke="#20dc20" stroke-width="1.0" stroke-linecap="round"/>
<path d="M127.6,28.4l3.7,1.3" stroke="#f8f500" stroke-width="0.7" stroke-linecap="round"/>
<path d="M142.6,36.7l6.5,2.2" stroke="#20dc20" stroke-width="1.0" stroke-linecap="round"/>
<path d="M45.0,42.1l5.4,3.1" stroke="#20dc20" stroke-width="0.8" stroke-linecap="round"/>
<path d="M113.1,37.5l5.0,0.8" stroke="#f0a21e" stroke-width="0.9" stroke-linecap="round"/>
<path d="M101.5,56.2l3.1,0.9" stroke="#2a9c96" stroke-width="1.0" stroke-linecap="round"/>
<path d="M129.7,41.6l2.1,5.0" stroke="#20dc20" stroke-width="1.0" stroke-linecap="round"/>
<path d="M168.1,36.7l6.2,1.2" stroke="#f8f500" stroke-width="0.6" stroke-linecap="round"/>
<path d="M121.7,46.5l2.6,3.9" stroke="#2a9c96" stroke-width="0.9" stroke-linecap="round"/>
<path d="M45.3,49.6l3.5,1.8" stroke="#20dc20" stroke-width="1.0" stroke-linecap="round"/>
<path d="M112.0,48.9l5.1,0.9" stroke="#f8f500" stroke-width="0.7" stroke-linecap="round"/>
<path d="M159.1,75.1l-3.0,4.9" stroke="#20dc20" stroke-width="0.8" stroke-linecap="round"/>
<path d="M164.9,66.1l-1.4,2.2" stroke="#20dc20" stroke-width="0.9" stroke-linecap="round"/>
<path d="M159.8,75.5l-2.2,3.3" stroke="#20dc20" stroke-width="0.6" stroke-linecap="round"/>
<path d="M123.1,43.8l2.3,4.0" stroke="#f8f500" stroke-width="1.0" stroke-linecap="round"/>
<path d="M139.0,72.1l3.1,5.1" stroke="#2a9c96" stroke-width="1.0" stroke-linecap="round"/>
<path d="M98.3,19.3l6.4,1.3" stroke="#f0a21e" stroke-width="0.8" stroke-linecap="round"/>
<path d="M50.5,35.2l6.1,2.5" stroke="#f8f500" stroke-width="0.7" stroke-linecap="round"/>
<path d="M162.7,62.6l-2.4,5.1" stroke="#2a9c96" stroke-width="0.8" stroke-linecap="round"/>
<path d="M75.0,39.7l4.8,1.2" stroke="#f0a21e" stroke-width="1.0" stroke-linecap="round"/>
<path d="M54.2,35.3l4.6,1.9" stroke="#d4553a" stroke-width="1.1" stroke-linecap="round"/>
<path d="M41.6,28.0l2.9,0.5" stroke="#f8f500" stroke-width="1.0" stroke-linecap="round"/>
<path d="M75.9,65.4l3.1,0.5" stroke="#2a9c96" stroke-width="0.6" stroke-linecap="round"/>
<path d="M126.2,16.5l3.5,0.3" stroke="#f0a21e" stroke-width="0.8" stroke-linecap="round"/>
<path d="M160.5,45.4l-1.2,5.1" stroke="#2a9c96" stroke-width="1.1" stroke-linecap="round"/>
<path d="M85.2,48.5l5.7,2.4" stroke="#20dc20" stroke-width="1.0" stroke-linecap="round"/>
<path d="M160.7,47.0l-1.4,5.5" stroke="#2a9c96" stroke-width="0.8" stroke-linecap="round"/>
<path d="M116.4,63.8l4.8,0.6" stroke="#2a9c96" stroke-width="1.0" stroke-linecap="round"/>
<path d="M128.5,26.9l4.8,1.2" stroke="#f0a21e" stroke-width="1.0" stroke-linecap="round"/>
<path d="M90.1,64.4l5.5,1.4" stroke="#2a9c96" stroke-width="0.8" stroke-linecap="round"/>
<path d="M27.9,25.7l5.6,2.7" stroke="#f0a21e" stroke-width="0.8" stroke-linecap="round"/>
<path d="M54.6,34.5l3.9,1.1" stroke="#f8f500" stroke-width="0.7" stroke-linecap="round"/>
<path d="M105.5,27.0l4.1,2.0" stroke="#f0a21e" stroke-width="1.0" stroke-linecap="round"/>
<path d="M80.6,41.1l2.9,0.6" stroke="#f8f500" stroke-width="1.0" stroke-linecap="round"/>
<path d="M101.7,30.7l5.1,0.6" stroke="#f8f500" stroke-width="0.6" stroke-linecap="round"/>
<path d="M152.4,60.6l-0.4,4.6" stroke="#20dc20" stroke-width="1.0" stroke-linecap="round"/>
<path d="M122.1,77.4l5.6,2.5" stroke="#2a9c96" stroke-width="0.6" stroke-linecap="round"/>
<path d="M167.0,40.7l-1.4,4.1" stroke="#f0a21e" stroke-width="0.8" stroke-linecap="round"/>
<path d="M88.1,42.2l6.4,1.7" stroke="#f8f500" stroke-width="0.6" stroke-linecap="round"/>
<path d="M65.7,44.4l3.1,1.7" stroke="#20dc20" stroke-width="0.9" stroke-linecap="round"/>
<path d="M172.8,36.4l6.5,1.6" stroke="#d4553a" stroke-width="1.0" stroke-linecap="round"/>
<path d="M144.9,61.9l0.7,4.0" stroke="#2a9c96" stroke-width="1.0" stroke-linecap="round"/>
<path d="M124.5,21.0l3.7,2.1" stroke="#f0a21e" stroke-width="0.9" stroke-linecap="round"/>
<path d="M101.2,70.9l5.7,0.9" stroke="#20dc20" stroke-width="1.1" stroke-linecap="round"/>
<path d="M116.8,40.1l3.3,0.8" stroke="#f0a21e" stroke-width="0.8" stroke-linecap="round"/>
<path d="M144.8,39.9l5.2,3.0" stroke="#f0a21e" stroke-width="0.9" stroke-linecap="round"/>
<path d="M94.3,35.6l5.2,2.1" stroke="#f0a21e" stroke-width="0.7" stroke-linecap="round"/>
<path d="M111.2,31.1l6.1,2.3" stroke="#f8f500" stroke-width="1.1" stroke-linecap="round"/>
<path d="M57.8,48.6l3.1,1.0" stroke="#f8f500" stroke-width="0.9" stroke-linecap="round"/>
<path d="M111.0,42.2l3.9,1.6" stroke="#f0a21e" stroke-width="0.9" stroke-linecap="round"/>
<path d="M125.1,61.4l4.2,4.8" stroke="#2a9c96" stroke-width="1.0" stroke-linecap="round"/>
<path d="M162.4,36.2l2.8,0.7" stroke="#f0a21e" stroke-width="0.7" stroke-linecap="round"/>
<path d="M125.8,76.7l2.3,1.3" stroke="#20dc20" stroke-width="0.9" stroke-linecap="round"/>
<path d="M159.6,37.7l2.9,0.3" stroke="#f0a21e" stroke-width="0.9" stroke-linecap="round"/>
<path d="M67.6,45.1l3.4,0.6" stroke="#20dc20" stroke-width="0.9" stroke-linecap="round"/>
<path d="M150.9,30.5l5.7,3.2" stroke="#f8f500" stroke-width="0.9" stroke-linecap="round"/>
<path d="M160.7,28.9l4.1,0.4" stroke="#f8f500" stroke-width="0.9" stroke-linecap="round"/>
<path d="M27.3,28.1l6.9,1.4" stroke="#f0a21e" stroke-width="0.9" stroke-linecap="round"/>
<path d="M136.7,30.0l4.7,2.4" stroke="#f8f500" stroke-width="0.7" stroke-linecap="round"/>
<path d="M141.3,43.3l0.7,3.5" stroke="#2a9c96" stroke-width="0.9" stroke-linecap="round"/>
<path d="M135.6,44.5l1.0,3.2" stroke="#2a9c96" stroke-width="0.8" stroke-linecap="round"/>
<path d="M114.6,30.8l3.6,1.4" stroke="#d4553a" stroke-width="0.6" stroke-linecap="round"/>
<path d="M134.9,47.9l2.1,5.9" stroke="#2a9c96" stroke-width="1.0" stroke-linecap="round"/>
<path d="M139.1,61.3l1.3,3.4" stroke="#20dc20" stroke-width="1.1" stroke-linecap="round"/>
<path d="M137.0,54.8l1.6,4.4" stroke="#2a9c96" stroke-width="0.6" stroke-linecap="round"/>
<path d="M131.3,21.2l3.2,0.7" stroke="#f0a21e" stroke-width="1.0" stroke-linecap="round"/>
<path d="M58.0,39.3l2.5,1.0" stroke="#20dc20" stroke-width="0.7" stroke-linecap="round"/>
<path d="M115.0,29.9l3.6,1.7" stroke="#f8f500" stroke-width="1.1" stroke-linecap="round"/>
<path d="M133.8,21.9l6.5,2.2" stroke="#f0a21e" stroke-width="0.8" stroke-linecap="round"/>
<path d="M155.0,18.8l4.1,1.7" stroke="#f0a21e" stroke-width="1.0" stroke-linecap="round"/>
<path d="M148.8,30.2l6.7,1.0" stroke="#f0a21e" stroke-width="1.1" stroke-linecap="round"/>
<path d="M97.0,47.5l3.9,1.7" stroke="#2a9c96" stroke-width="0.7" stroke-linecap="round"/>
<path d="M112.8,35.3l3.7,0.5" stroke="#20dc20" stroke-width="0.9" stroke-linecap="round"/>
<path d="M87.0,67.0l2.7,1.5" stroke="#20dc20" stroke-width="0.6" stroke-linecap="round"/>
<path d="M87.1,47.3l2.4,1.4" stroke="#20dc20" stroke-width="0.8" stroke-linecap="round"/>
<path d="M66.1,64.3l4.9,0.5" stroke="#20dc20" stroke-width="1.0" stroke-linecap="round"/>
<path d="M151.9,18.7l2.8,0.3" stroke="#f0a21e" stroke-width="1.0" stroke-linecap="round"/>
<path d="M109.3,24.9l3.6,1.6" stroke="#f0a21e" stroke-width="0.6" stroke-linecap="round"/>
<path d="M130.1,54.8l2.6,4.6" stroke="#20dc20" stroke-width="1.0" stroke-linecap="round"/>
<path d="M116.9,36.5l5.5,3.0" stroke="#f0a21e" stroke-width="1.1" stroke-linecap="round"/>
<path d="M51.3,41.0l6.0,0.6" stroke="#f0a21e" stroke-width="0.8" stroke-linecap="round"/>
<path d="M128.9,40.7l1.6,3.7" stroke="#f0a21e" stroke-width="0.6" stroke-linecap="round"/>
<path d="M106.2,65.5l2.5,0.8" stroke="#20dc20" stroke-width="0.6" stroke-linecap="round"/>
<path d="M170.8,35.3l3.6,1.1" stroke="#f8f500" stroke-width="1.1" stroke-linecap="round"/>
<path d="M106.9,64.3l4.2,0.8" stroke="#2a9c96" stroke-width="0.6" stroke-linecap="round"/>
<path d="M146.0,31.6l6.0,1.2" stroke="#f8f500" stroke-width="0.7" stroke-linecap="round"/>
<path d="M154.8,59.0l-0.5,3.5" stroke="#2a9c96" stroke-width="0.7" stroke-linecap="round"/>
<path d="M124.0,46.5l2.0,3.3" stroke="#2a9c96" stroke-width="0.8" stroke-linecap="round"/>
<path d="M64.3,43.4l3.1,0.8" stroke="#f0a21e" stroke-width="0.6" stroke-linecap="round"/>
<path d="M83.9,24.8l4.7,1.6" stroke="#f0a21e" stroke-width="0.7" stroke-linecap="round"/>
<path d="M114.3,43.5l4.9,1.4" stroke="#f8f500" stroke-width="1.1" stroke-linecap="round"/>
<path d="M130.3,42.8l1.7,4.2" stroke="#f8f500" stroke-width="1.0" stroke-linecap="round"/>
<path d="M45.1,41.5l3.1,0.8" stroke="#20dc20" stroke-width="1.0" stroke-linecap="round"/>
<path d="M169.7,56.3l-1.9,3.3" stroke="#20dc20" stroke-width="0.6" stroke-linecap="round"/>
<path d="M167.8,55.5l-2.6,5.1" stroke="#20dc20" stroke-width="0.9" stroke-linecap="round"/>
<path d="M134.0,72.1l3.3,3.7" stroke="#2a9c96" stroke-width="1.0" stroke-linecap="round"/>
<path d="M83.2,31.4l4.7,1.3" stroke="#d4553a" stroke-width="0.6" stroke-linecap="round"/>
<path d="M145.3,62.3l1.2,6.9" stroke="#2a9c96" stroke-width="0.8" stroke-linecap="round"/>
<path d="M45.6,32.8l2.7,1.5" stroke="#f8f500" stroke-width="0.8" stroke-linecap="round"/>
<path d="M138.4,56.5l1.9,5.5" stroke="#20dc20" stroke-width="1.0" stroke-linecap="round"/>
<path d="M157.7,69.1l-1.4,3.9" stroke="#2a9c96" stroke-width="1.1" stroke-linecap="round"/>
<path d="M102.4,33.0l3.6,0.5" stroke="#d4553a" stroke-width="0.8" stroke-linecap="round"/>
<path d="M114.9,57.7l3.2,0.5" stroke="#20dc20" stroke-width="0.6" stroke-linecap="round"/>
<path d="M113.4,30.9l6.8,1.5" stroke="#f8f500" stroke-width="0.8" stroke-linecap="round"/>
<path d="M132.0,67.5l3.2,4.0" stroke="#2a9c96" stroke-width="1.0" stroke-linecap="round"/>
<path d="M115.2,36.7l4.9,2.6" stroke="#20dc20" stroke-width="1.0" stroke-linecap="round"/>
<path d="M75.8,29.3l2.7,1.0" stroke="#d4553a" stroke-width="0.8" stroke-linecap="round"/>
<path d="M124.8,37.9l2.8,0.7" stroke="#f0a21e" stroke-width="0.7" stroke-linecap="round"/>
<path d="M128.3,36.4l5.6,2.1" stroke="#20dc20" stroke-width="1.0" stroke-linecap="round"/>
<path d="M146.2,59.3l0.7,5.5" stroke="#2a9c96" stroke-width="1.0" stroke-linecap="round"/>
<path d="M144.4,35.7l6.1,3.2" stroke="#20dc20" stroke-width="0.8" stroke-linecap="round"/>
<path d="M78.1,60.6l3.3,0.5" stroke="#0d2f86" stroke-width="0.9" stroke-linecap="round"/>
<path d="M124.4,38.4l3.3,0.4" stroke="#f0a21e" stroke-width="0.7" stroke-linecap="round"/>
<path d="M114.7,65.3l2.6,1.4" stroke="#2a9c96" stroke-width="0.7" stroke-linecap="round"/>
<path d="M43.4,39.3l3.8,0.7" stroke="#20dc20" stroke-width="0.9" stroke-linecap="round"/>
<path d="M102.9,61.4l2.9,0.8" stroke="#2a9c96" stroke-width="1.0" stroke-linecap="round"/>
<path d="M135.3,24.3l6.2,2.1" stroke="#f8f500" stroke-width="0.9" stroke-linecap="round"/>
<path d="M64.5,60.7l6.2,2.2" stroke="#20dc20" stroke-width="0.8" stroke-linecap="round"/>
<path d="M100.0,55.3l6.4,2.3" stroke="#20dc20" stroke-width="1.0" stroke-linecap="round"/>
<path d="M133.1,70.6l2.7,3.1" stroke="#2a9c96" stroke-width="0.6" stroke-linecap="round"/>
<path d="M169.1,29.7l6.3,2.1" stroke="#f0a21e" stroke-width="0.7" stroke-linecap="round"/>
<path d="M160.0,47.8l-1.2,5.0" stroke="#2a9c96" stroke-width="0.8" stroke-linecap="round"/>
<path d="M140.9,42.0l1.2,6.3" stroke="#f8f500" stroke-width="1.1" stroke-linecap="round"/>
<path d="M155.5,19.3l3.6,0.4" stroke="#f0a21e" stroke-width="0.9" stroke-linecap="round"/>
<path d="M164.4,44.9l-1.3,4.0" stroke="#2a9c96" stroke-width="1.0" stroke-linecap="round"/>
<path d="M105.9,54.1l5.8,2.0" stroke="#20dc20" stroke-width="1.1" stroke-linecap="round"/>
<path d="M47.2,56.5l6.7,1.0" stroke="#20dc20" stroke-width="0.6" stroke-linecap="round"/>
<path d="M120.9,79.0l4.4,1.7" stroke="#20dc20" stroke-width="1.0" stroke-linecap="round"/>
<path d="M162.4,45.2l-0.9,3.3" stroke="#f8f500" stroke-width="0.9" stroke-linecap="round"/>
<path d="M67.4,30.7l4.6,1.0" stroke="#d4553a" stroke-width="0.6" stroke-linecap="round"/>
<path d="M123.4,24.4l3.3,1.7" stroke="#f0a21e" stroke-width="0.7" stroke-linecap="round"/>
<path d="M158.8,66.0l-1.2,3.3" stroke="#2a9c96" stroke-width="0.6" stroke-linecap="round"/>
<path d="M119.8,38.1l3.8,1.1" stroke="#20dc20" stroke-width="0.7" stroke-linecap="round"/>
<path d="M113.5,49.3l3.7,1.8" stroke="#2a9c96" stroke-width="0.7" stroke-linecap="round"/>
<path d="M113.7,23.8l2.4,0.8" stroke="#f0a21e" stroke-width="0.9" stroke-linecap="round"/>
<path d="M145.3,43.2l0.5,5.3" stroke="#f8f500" stroke-width="0.9" stroke-linecap="round"/>
<path d="M107.5,54.3l5.1,1.5" stroke="#20dc20" stroke-width="1.0" stroke-linecap="round"/>
<path d="M141.0,32.6l2.8,1.1" stroke="#d4553a" stroke-width="1.0" stroke-linecap="round"/>
<path d="M139.7,63.2l2.4,6.2" stroke="#2a9c96" stroke-width="0.8" stroke-linecap="round"/>
<path d="M161.2,73.1l-1.9,2.8" stroke="#20dc20" stroke-width="0.7" stroke-linecap="round"/>
<path d="M46.2,55.5l6.3,1.5" stroke="#20dc20" stroke-width="0.8" stroke-linecap="round"/>
<path d="M81.1,50.3l4.8,1.1" stroke="#f8f500" stroke-width="0.8" stroke-linecap="round"/>
<path d="M50.3,45.4l5.0,1.4" stroke="#f8f500" stroke-width="1.0" stroke-linecap="round"/>
<path d="M47.6,41.1l5.5,0.8" stroke="#20dc20" stroke-width="0.7" stroke-linecap="round"/>
<path d="M52.6,40.3l4.6,1.7" stroke="#20dc20" stroke-width="1.0" stroke-linecap="round"/>
<path d="M119.2,36.0l5.7,3.3" stroke="#20dc20" stroke-width="1.0" stroke-linecap="round"/>
<path d="M165.6,42.0l-2.0,6.2" stroke="#f8f500" stroke-width="1.1" stroke-linecap="round"/>
<path d="M111.2,35.4l3.2,1.1" stroke="#20dc20" stroke-width="1.1" stroke-linecap="round"/>
<path d="M109.5,47.6l2.6,0.9" stroke="#2a9c96" stroke-width="0.8" stroke-linecap="round"/>
<path d="M116.8,52.8l5.7,0.7" stroke="#2a9c96" stroke-width="1.0" stroke-linecap="round"/>
<path d="M112.4,23.4l6.4,1.0" stroke="#f0a21e" stroke-width="1.0" stroke-linecap="round"/>
<path d="M124.3,28.9l5.6,0.7" stroke="#d4553a" stroke-width="0.8" stroke-linecap="round"/>
<path d="M46.2,42.1l5.0,0.5" stroke="#20dc20" stroke-width="0.8" stroke-linecap="round"/>
</g></g>
<rect x="13.6" y="8.2" width="167.50" height="78.70" fill="none" stroke="#858585" stroke-width="1.0"/>
<path d="M24.30,86.90v1.5M50.55,86.90v1.5M76.80,86.90v1.5M103.05,86.90v1.5M129.30,86.90v1.5M155.55,86.90v1.5M13.60,11.10h-1.1M13.60,37.35h-1.1M13.60,63.60h-1.1" stroke="#222" stroke-width="0.8" fill="none"/>
<text class="tl" x="24.30" y="93.7" text-anchor="middle">75°E</text>
<text class="tl" x="50.55" y="93.7" text-anchor="middle">80°E</text>
<text class="tl" x="76.80" y="93.7" text-anchor="middle">85°E</text>
<text class="tl" x="103.05" y="93.7" text-anchor="middle">90°E</text>
<text class="tl" x="129.30" y="93.7" text-anchor="middle">95°E</text>
<text class="tl" x="155.55" y="93.7" text-anchor="middle">100°E</text>
<text class="tl" transform="translate(10.6,11.10) rotate(-90)" text-anchor="middle">40°N</text>
<text class="tl" transform="translate(10.6,37.35) rotate(-90)" text-anchor="middle">35°N</text>
<text class="tl" transform="translate(10.6,63.60) rotate(-90)" text-anchor="middle">30°N</text>
<text class="ml" x="31.5" y="15.2">Aug</text>
<text class="lt" x="16.9" y="55.0">δ<tspan font-size="3.2px" dy="-1.6">18</tspan><tspan dy="1.6">O</tspan></text><text class="lt" x="30.3" y="55.0" textLength="9.3" lengthAdjust="spacingAndGlyphs">(‰)</text>
<rect x="16.0" y="57.10" width="9.7" height="4.62" fill="#0d2f86"/>
<rect x="16.0" y="61.67" width="9.7" height="4.62" fill="#2a9c96"/>
<rect x="16.0" y="66.24" width="9.7" height="4.62" fill="#20dc20"/>
<rect x="16.0" y="70.81" width="9.7" height="4.62" fill="#f8f500"/>
<rect x="16.0" y="75.38" width="9.7" height="4.62" fill="#f0a21e"/>
<rect x="16.0" y="79.95" width="9.7" height="4.62" fill="#d4553a"/>
<text class="ll" x="27.8" y="62.77">-14.78</text>
<text class="ll" x="27.8" y="67.34">-12.81</text>
<text class="ll" x="27.8" y="71.91">-10.51</text>
<text class="ll" x="27.8" y="76.48">-8.61</text>
<text class="ll" x="27.8" y="81.05">-7.40</text>
</g>
<g transform="translate(363.50,190.72)">
<g clip-path="url(#tp)"><g filter="url(#nz2)"><rect x="10" y="5" width="175" height="85" fill="#0d2f86"/>
<polygon points="40.0,56.0 55.0,60.0 65.0,66.0 75.0,69.0 86.0,73.0 90.0,76.0 90.0,90.0 40.0,90.0" fill="#17915a"/>
<polygon points="110.0,52.0 140.0,51.0 165.0,52.0 172.0,56.0 165.0,60.0 150.0,58.0 130.0,59.0 110.0,58.0" fill="#17915a"/>
<polygon points="10.0,90.0 40.0,90.0 44.0,54.0 55.0,55.5 67.6,52.4 82.2,49.2 98.4,47.1 110.0,48.0 125.0,47.0 140.0,47.0 160.0,48.0 172.0,51.0 185.0,51.0 185.0,0.0 10.0,0.0" fill="#17915a"/>
<polygon points="10.0,44.0 44.0,44.0 55.0,45.0 70.0,43.5 85.0,42.5 98.0,43.0 110.0,44.0 125.0,42.0 140.0,41.0 160.0,41.0 175.0,45.0 185.0,45.0 185.0,0.0 10.0,0.0" fill="#74c636"/>
<polygon points="10.0,38.0 44.0,38.0 55.0,38.5 70.0,37.5 85.0,37.0 98.0,37.0 110.0,38.0 125.0,37.0 140.0,37.0 160.0,38.0 175.0,40.0 185.0,40.0 185.0,0.0 10.0,0.0" fill="#a8dc20"/>
<polygon points="89.0,47.0 97.0,46.0 102.0,49.0 102.0,54.0 96.0,55.0 90.0,52.0" fill="#a8dc20"/>
<polygon points="148.5,35.0 160.0,35.0 175.6,40.0 175.6,48.0 160.0,45.0 148.5,41.0" fill="#f8f500"/>
<polygon points="42.0,49.0 50.0,48.0 59.0,52.0 59.0,59.6 50.0,57.0 42.0,53.0" fill="#f8f500"/>
<polygon points="42.0,51.0 48.0,52.0 55.0,56.0 58.0,60.0 50.0,58.0 43.0,55.0" fill="#f0a21e"/>
<polygon points="10.0,33.0 40.0,32.0 55.0,33.0 70.0,33.0 85.0,32.0 96.4,30.0 108.9,32.0 121.4,33.0 133.9,33.0 144.3,34.0 160.0,35.0 170.0,36.0 185.0,36.0 185.0,0.0 10.0,0.0" fill="#f0a21e"/>
<polygon points="10.0,30.0 34.0,30.0 40.0,27.0 60.0,27.0 82.0,22.5 96.4,22.1 108.9,26.3 121.4,28.4 133.9,28.4 144.3,30.5 146.4,26.3 138.0,22.1 129.7,18.0 128.0,0.0 128.0,0.0 10.0,0.0" fill="#d4553a"/>
<polygon points="34.0,31.0 36.0,26.0 45.0,27.0 60.0,28.5 60.0,30.0 45.0,31.0" fill="#f0a21e"/>
<polygon points="112.0,79.0 116.0,75.0 122.0,71.0 128.0,66.0 133.0,63.0 136.0,65.0 131.0,70.0 125.0,75.0 120.0,79.0" fill="#f0a21e"/>
<polygon points="114.0,79.0 118.0,75.0 124.0,71.0 128.0,70.0 122.0,76.0 119.0,79.0" fill="#d4553a"/>
<path d="M95.8,24.5l6.0,0.8" stroke="#f8f500" stroke-width="0.9" stroke-linecap="round"/>
<path d="M113.5,43.9l4.8,1.7" stroke="#0d2f86" stroke-width="0.7" stroke-linecap="round"/>
<path d="M85.4,51.9l5.4,2.4" stroke="#20dc20" stroke-width="0.9" stroke-linecap="round"/>
<path d="M102.7,60.3l4.2,1.6" stroke="#2a9c96" stroke-width="0.7" stroke-linecap="round"/>
<path d="M144.2,15.1l5.1,1.2" stroke="#d4553a" stroke-width="0.9" stroke-linecap="round"/>
<path d="M115.7,24.0l4.2,1.5" stroke="#f0a21e" stroke-width="1.0" stroke-linecap="round"/>
<path d="M116.9,51.9l6.1,2.0" stroke="#20dc20" stroke-width="0.6" stroke-linecap="round"/>
<path d="M152.7,44.7l-0.2,3.3" stroke="#0d2f86" stroke-width="1.0" stroke-linecap="round"/>
<path d="M157.5,46.7l-1.0,6.0" stroke="#20dc20" stroke-width="0.9" stroke-linecap="round"/>
<path d="M47.8,48.9l6.8,0.9" stroke="#f0a21e" stroke-width="0.8" stroke-linecap="round"/>
<path d="M134.6,20.0l4.0,0.4" stroke="#d4553a" stroke-width="0.6" stroke-linecap="round"/>
<path d="M157.4,31.9l3.2,1.6" stroke="#d4553a" stroke-width="0.9" stroke-linecap="round"/>
<path d="M58.5,32.3l6.3,1.4" stroke="#f8f500" stroke-width="0.7" stroke-linecap="round"/>
<path d="M80.8,70.1l5.0,1.6" stroke="#2a9c96" stroke-width="0.8" stroke-linecap="round"/>
<path d="M124.0,14.4l5.5,2.3" stroke="#f0a21e" stroke-width="0.8" stroke-linecap="round"/>
<path d="M107.0,39.4l4.2,1.1" stroke="#2a9c96" stroke-width="0.7" stroke-linecap="round"/>
<path d="M128.3,51.9l2.5,4.4" stroke="#20dc20" stroke-width="0.7" stroke-linecap="round"/>
<path d="M117.9,45.3l6.0,2.0" stroke="#20dc20" stroke-width="0.7" stroke-linecap="round"/>
<path d="M47.2,45.2l3.6,0.7" stroke="#0d2f86" stroke-width="0.9" stroke-linecap="round"/>
<path d="M111.6,15.8l4.3,1.5" stroke="#f0a21e" stroke-width="1.1" stroke-linecap="round"/>
<path d="M134.9,16.7l4.0,0.4" stroke="#f8f500" stroke-width="0.8" stroke-linecap="round"/>
<path d="M141.3,32.5l2.8,1.3" stroke="#d4553a" stroke-width="1.0" stroke-linecap="round"/>
<path d="M143.1,38.1l4.7,2.5" stroke="#f8f500" stroke-width="0.9" stroke-linecap="round"/>
<path d="M117.5,30.0l4.6,1.5" stroke="#f8f500" stroke-width="0.9" stroke-linecap="round"/>
<path d="M129.3,46.2l1.1,2.3" stroke="#0d2f86" stroke-width="1.0" stroke-linecap="round"/>
<path d="M80.6,27.7l6.1,0.6" stroke="#d4553a" stroke-width="0.9" stroke-linecap="round"/>
<path d="M134.4,56.7l1.3,2.8" stroke="#20dc20" stroke-width="0.7" stroke-linecap="round"/>
<path d="M105.8,72.2l6.7,1.3" stroke="#2a9c96" stroke-width="0.8" stroke-linecap="round"/>
<path d="M143.6,23.8l2.7,1.4" stroke="#d4553a" stroke-width="1.0" stroke-linecap="round"/>
<path d="M110.7,71.0l3.9,0.4" stroke="#20dc20" stroke-width="0.9" stroke-linecap="round"/>
<path d="M48.5,31.0l2.6,0.8" stroke="#d4553a" stroke-width="1.1" stroke-linecap="round"/>
<path d="M124.4,23.5l4.2,0.7" stroke="#f0a21e" stroke-width="1.0" stroke-linecap="round"/>
<path d="M55.9,39.8l3.6,1.0" stroke="#20dc20" stroke-width="0.9" stroke-linecap="round"/>
<path d="M150.2,24.2l6.5,1.9" stroke="#d4553a" stroke-width="0.8" stroke-linecap="round"/>
<path d="M78.2,57.3l3.8,1.4" stroke="#20dc20" stroke-width="0.7" stroke-linecap="round"/>
<path d="M143.7,46.8l0.8,5.4" stroke="#20dc20" stroke-width="1.0" stroke-linecap="round"/>
<path d="M132.3,30.3l3.8,1.4" stroke="#d4553a" stroke-width="0.8" stroke-linecap="round"/>
<path d="M112.3,44.3l3.2,1.0" stroke="#20dc20" stroke-width="0.8" stroke-linecap="round"/>
<path d="M51.1,34.1l3.8,1.6" stroke="#f8f500" stroke-width="0.9" stroke-linecap="round"/>
<path d="M124.9,14.5l5.8,1.9" stroke="#f0a21e" stroke-width="0.7" stroke-linecap="round"/>
<path d="M74.1,63.5l4.6,1.9" stroke="#2a9c96" stroke-width="0.8" stroke-linecap="round"/>
<path d="M45.3,47.1l2.6,1.0" stroke="#0d2f86" stroke-width="0.9" stroke-linecap="round"/>
<path d="M127.7,25.1l4.2,1.7" stroke="#f0a21e" stroke-width="0.8" stroke-linecap="round"/>
<path d="M78.6,55.8l5.7,2.8" stroke="#2a9c96" stroke-width="1.1" stroke-linecap="round"/>
<path d="M35.2,27.0l3.0,0.5" stroke="#f0a21e" stroke-width="0.8" stroke-linecap="round"/>
<path d="M52.9,32.9l2.9,0.9" stroke="#f8f500" stroke-width="0.6" stroke-linecap="round"/>
<path d="M169.7,46.1l-2.4,5.4" stroke="#f0a21e" stroke-width="1.0" stroke-linecap="round"/>
<path d="M58.7,56.5l2.9,1.3" stroke="#f0a21e" stroke-width="0.8" stroke-linecap="round"/>
<path d="M147.1,23.8l2.4,1.3" stroke="#d4553a" stroke-width="0.9" stroke-linecap="round"/>
<path d="M115.5,18.4l4.1,2.1" stroke="#f0a21e" stroke-width="0.9" stroke-linecap="round"/>
<path d="M137.1,46.9l1.6,5.5" stroke="#0d2f86" stroke-width="0.9" stroke-linecap="round"/>
<path d="M133.5,14.3l3.7,1.2" stroke="#f8f500" stroke-width="1.1" stroke-linecap="round"/>
<path d="M116.0,76.7l2.9,0.6" stroke="#d4553a" stroke-width="0.6" stroke-linecap="round"/>
<path d="M136.0,34.9l6.3,2.1" stroke="#20dc20" stroke-width="0.9" stroke-linecap="round"/>
<path d="M166.5,38.7l3.9,1.9" stroke="#20dc20" stroke-width="0.7" stroke-linecap="round"/>
<path d="M103.4,39.8l4.6,1.7" stroke="#20dc20" stroke-width="0.8" stroke-linecap="round"/>
<path d="M141.5,16.4l3.4,1.4" stroke="#d4553a" stroke-width="0.8" stroke-linecap="round"/>
<path d="M140.2,56.9l1.7,5.7" stroke="#20dc20" stroke-width="0.7" stroke-linecap="round"/>
<path d="M143.8,15.2l4.4,2.5" stroke="#f8f500" stroke-width="1.0" stroke-linecap="round"/>
<path d="M120.7,20.8l5.1,1.3" stroke="#f0a21e" stroke-width="0.9" stroke-linecap="round"/>
<path d="M88.9,51.6l3.3,1.8" stroke="#2a9c96" stroke-width="0.6" stroke-linecap="round"/>
<path d="M126.5,59.9l1.8,2.3" stroke="#2a9c96" stroke-width="0.6" stroke-linecap="round"/>
<path d="M108.1,30.9l3.1,0.3" stroke="#f8f500" stroke-width="0.9" stroke-linecap="round"/>
<path d="M53.4,42.9l3.7,0.4" stroke="#f8f500" stroke-width="1.0" stroke-linecap="round"/>
<path d="M144.5,30.1l3.1,0.9" stroke="#f0a21e" stroke-width="1.1" stroke-linecap="round"/>
<path d="M90.3,28.0l3.0,0.8" stroke="#d4553a" stroke-width="0.7" stroke-linecap="round"/>
<path d="M118.3,20.3l4.0,1.9" stroke="#f0a21e" stroke-width="0.6" stroke-linecap="round"/>
<path d="M90.7,30.2l4.5,2.0" stroke="#d4553a" stroke-width="0.8" stroke-linecap="round"/>
<path d="M110.0,27.7l2.7,0.9" stroke="#d4553a" stroke-width="0.9" stroke-linecap="round"/>
<path d="M70.4,46.2l5.2,1.9" stroke="#0d2f86" stroke-width="0.8" stroke-linecap="round"/>
<path d="M70.7,41.6l3.1,1.3" stroke="#f8f500" stroke-width="1.0" stroke-linecap="round"/>
<path d="M158.9,33.3l4.3,1.4" stroke="#f8f500" stroke-width="0.7" stroke-linecap="round"/>
<path d="M142.9,19.1l5.6,0.8" stroke="#d4553a" stroke-width="0.9" stroke-linecap="round"/>
<path d="M103.9,47.5l5.1,1.0" stroke="#0d2f86" stroke-width="1.0" stroke-linecap="round"/>
<path d="M152.8,52.7l-0.2,3.0" stroke="#0d2f86" stroke-width="0.8" stroke-linecap="round"/>
<path d="M146.8,24.1l2.8,1.4" stroke="#f8f500" stroke-width="1.1" stroke-linecap="round"/>
<path d="M152.7,26.4l4.8,1.0" stroke="#f8f500" stroke-width="1.1" stroke-linecap="round"/>
<path d="M112.4,55.6l4.3,1.8" stroke="#0d2f86" stroke-width="1.0" stroke-linecap="round"/>
<path d="M159.5,43.2l-1.3,6.2" stroke="#20dc20" stroke-width="1.0" stroke-linecap="round"/>
<path d="M83.2,40.9l4.2,0.9" stroke="#f8f500" stroke-width="1.1" stroke-linecap="round"/>
<path d="M141.8,21.1l4.4,1.8" stroke="#d4553a" stroke-width="0.9" stroke-linecap="round"/>
<path d="M65.7,32.8l3.2,1.1" stroke="#f8f500" stroke-width="0.9" stroke-linecap="round"/>
<path d="M49.9,56.5l5.1,1.5" stroke="#f8f500" stroke-width="0.8" stroke-linecap="round"/>
<path d="M156.4,36.3l3.0,0.9" stroke="#f0a21e" stroke-width="0.6" stroke-linecap="round"/>
<path d="M109.0,21.0l3.4,0.7" stroke="#f0a21e" stroke-width="1.0" stroke-linecap="round"/>
<path d="M164.8,42.1l-1.9,6.2" stroke="#f0a21e" stroke-width="0.8" stroke-linecap="round"/>
<path d="M168.5,43.7l-1.7,4.2" stroke="#f0a21e" stroke-width="0.6" stroke-linecap="round"/>
<path d="M92.7,19.2l6.3,3.1" stroke="#f0a21e" stroke-width="1.0" stroke-linecap="round"/>
<path d="M72.7,28.5l3.4,1.7" stroke="#d4553a" stroke-width="0.6" stroke-linecap="round"/>
<path d="M85.7,41.5l3.2,1.0" stroke="#2a9c96" stroke-width="0.7" stroke-linecap="round"/>
<path d="M103.0,32.3l2.8,0.5" stroke="#20dc20" stroke-width="0.8" stroke-linecap="round"/>
<path d="M150.0,16.6l4.2,0.9" stroke="#f8f500" stroke-width="0.6" stroke-linecap="round"/>
<path d="M162.3,45.2l-0.9,3.3" stroke="#20dc20" stroke-width="0.9" stroke-linecap="round"/>
<path d="M143.7,24.9l5.4,1.0" stroke="#f8f500" stroke-width="0.9" stroke-linecap="round"/>
<path d="M137.7,33.5l2.2,1.2" stroke="#f8f500" stroke-width="0.8" stroke-linecap="round"/>
<path d="M165.1,56.9l-2.1,4.7" stroke="#0d2f86" stroke-width="0.8" stroke-linecap="round"/>
<path d="M79.1,40.8l5.6,1.6" stroke="#20dc20" stroke-width="1.1" stroke-linecap="round"/>
<path d="M90.8,36.0l3.1,1.1" stroke="#f8f500" stroke-width="0.9" stroke-linecap="round"/>
<path d="M155.9,23.9l4.4,1.6" stroke="#d4553a" stroke-width="0.9" stroke-linecap="round"/>
<path d="M159.7,72.4l-2.0,3.7" stroke="#2a9c96" stroke-width="0.8" stroke-linecap="round"/>
<path d="M53.1,39.5l3.5,0.6" stroke="#f8f500" stroke-width="0.9" stroke-linecap="round"/>
<path d="M114.4,73.1l2.9,1.3" stroke="#2a9c96" stroke-width="1.0" stroke-linecap="round"/>
<path d="M104.0,72.9l4.9,1.4" stroke="#2a9c96" stroke-width="0.6" stroke-linecap="round"/>
<path d="M165.9,39.7l3.7,1.8" stroke="#f0a21e" stroke-width="0.9" stroke-linecap="round"/>
<path d="M79.7,32.0l3.6,1.9" stroke="#f8f500" stroke-width="0.8" stroke-linecap="round"/>
<path d="M109.3,23.5l5.5,0.7" stroke="#f0a21e" stroke-width="0.8" stroke-linecap="round"/>
<path d="M167.1,29.3l2.5,0.7" stroke="#f8f500" stroke-width="1.1" stroke-linecap="round"/>
<path d="M136.5,28.7l2.6,0.6" stroke="#f0a21e" stroke-width="1.0" stroke-linecap="round"/>
<path d="M101.4,52.1l6.5,0.7" stroke="#f8f500" stroke-width="1.1" stroke-linecap="round"/>
<path d="M139.1,52.0l0.9,3.1" stroke="#0d2f86" stroke-width="0.7" stroke-linecap="round"/>
<path d="M96.3,39.7l3.0,0.5" stroke="#2a9c96" stroke-width="0.7" stroke-linecap="round"/>
<path d="M107.5,18.9l2.9,0.3" stroke="#f0a21e" stroke-width="0.8" stroke-linecap="round"/>
<path d="M77.7,39.8l6.3,0.9" stroke="#f8f500" stroke-width="1.0" stroke-linecap="round"/>
<path d="M76.9,67.8l4.5,0.7" stroke="#2a9c96" stroke-width="0.9" stroke-linecap="round"/>
<path d="M45.6,46.2l5.7,3.0" stroke="#0d2f86" stroke-width="0.9" stroke-linecap="round"/>
<path d="M97.1,51.7l5.5,1.5" stroke="#20dc20" stroke-width="0.7" stroke-linecap="round"/>
<path d="M80.8,48.6l4.9,2.3" stroke="#20dc20" stroke-width="0.8" stroke-linecap="round"/>
<path d="M72.8,55.6l4.7,0.7" stroke="#20dc20" stroke-width="0.9" stroke-linecap="round"/>
<path d="M130.5,44.3l1.4,3.3" stroke="#0d2f86" stroke-width="0.8" stroke-linecap="round"/>
<path d="M127.8,24.6l3.6,1.0" stroke="#f0a21e" stroke-width="0.7" stroke-linecap="round"/>
<path d="M95.4,52.8l5.7,0.9" stroke="#20dc20" stroke-width="1.0" stroke-linecap="round"/>
<path d="M116.1,50.0l5.1,2.7" stroke="#2a9c96" stroke-width="1.0" stroke-linecap="round"/>
<path d="M139.3,40.0l1.0,4.9" stroke="#f8f500" stroke-width="0.9" stroke-linecap="round"/>
<path d="M127.3,74.7l3.3,2.2" stroke="#2a9c96" stroke-width="0.7" stroke-linecap="round"/>
<path d="M25.2,16.4l2.9,0.8" stroke="#f0a21e" stroke-width="0.9" stroke-linecap="round"/>
<path d="M88.4,22.6l6.1,3.1" stroke="#f8f500" stroke-width="0.6" stroke-linecap="round"/>
<path d="M142.4,20.4l2.4,0.8" stroke="#d4553a" stroke-width="0.8" stroke-linecap="round"/>
<path d="M56.1,41.8l3.4,0.4" stroke="#f8f500" stroke-width="0.8" stroke-linecap="round"/>
<path d="M157.0,57.3l-1.0,4.5" stroke="#20dc20" stroke-width="1.0" stroke-linecap="round"/>
<path d="M123.3,48.1l2.9,4.6" stroke="#2a9c96" stroke-width="0.8" stroke-linecap="round"/>
<path d="M163.8,38.3l3.2,1.2" stroke="#f0a21e" stroke-width="0.8" stroke-linecap="round"/>
<path d="M177.4,44.4l-1.8,3.0" stroke="#f8f500" stroke-width="0.7" stroke-linecap="round"/>
<path d="M69.1,31.2l4.0,0.5" stroke="#f8f500" stroke-width="0.8" stroke-linecap="round"/>
<path d="M172.2,48.4l-2.1,4.0" stroke="#20dc20" stroke-width="0.7" stroke-linecap="round"/>
<path d="M155.2,21.6l6.8,0.7" stroke="#d4553a" stroke-width="0.8" stroke-linecap="round"/>
<path d="M155.2,55.5l-0.4,2.8" stroke="#0d2f86" stroke-width="0.6" stroke-linecap="round"/>
<path d="M128.2,26.3l3.6,2.1" stroke="#f0a21e" stroke-width="0.7" stroke-linecap="round"/>
<path d="M78.3,69.7l4.4,1.2" stroke="#2a9c96" stroke-width="0.8" stroke-linecap="round"/>
<path d="M127.2,69.3l2.7,2.4" stroke="#f8f500" stroke-width="0.8" stroke-linecap="round"/>
<path d="M117.6,16.5l4.6,1.3" stroke="#f0a21e" stroke-width="1.1" stroke-linecap="round"/>
<path d="M59.9,47.6l6.6,1.6" stroke="#20dc20" stroke-width="1.0" stroke-linecap="round"/>
<path d="M62.0,44.0l6.7,0.8" stroke="#0d2f86" stroke-width="0.7" stroke-linecap="round"/>
<path d="M89.9,35.9l3.4,1.6" stroke="#f8f500" stroke-width="0.7" stroke-linecap="round"/>
<path d="M162.9,25.9l5.9,1.8" stroke="#d4553a" stroke-width="0.8" stroke-linecap="round"/>
<path d="M131.8,58.8l2.8,4.8" stroke="#0d2f86" stroke-width="0.9" stroke-linecap="round"/>
<path d="M137.1,52.5l1.4,4.1" stroke="#0d2f86" stroke-width="1.1" stroke-linecap="round"/>
<path d="M118.3,55.8l1.9,2.1" stroke="#0d2f86" stroke-width="0.8" stroke-linecap="round"/>
<path d="M156.0,45.6l-0.8,5.7" stroke="#20dc20" stroke-width="0.6" stroke-linecap="round"/>
<path d="M45.4,36.8l3.4,0.8" stroke="#20dc20" stroke-width="0.6" stroke-linecap="round"/>
<path d="M89.3,24.2l5.7,2.4" stroke="#f8f500" stroke-width="0.8" stroke-linecap="round"/>
<path d="M97.3,18.6l2.6,1.2" stroke="#f0a21e" stroke-width="1.1" stroke-linecap="round"/>
<path d="M82.8,24.8l5.4,1.0" stroke="#f8f500" stroke-width="0.9" stroke-linecap="round"/>
<path d="M71.7,28.0l5.2,1.9" stroke="#f8f500" stroke-width="1.1" stroke-linecap="round"/>
<path d="M116.2,20.6l5.8,1.2" stroke="#f0a21e" stroke-width="0.9" stroke-linecap="round"/>
<path d="M133.2,57.1l2.0,4.0" stroke="#20dc20" stroke-width="0.8" stroke-linecap="round"/>
<path d="M81.9,39.3l6.3,0.9" stroke="#f8f500" stroke-width="1.1" stroke-linecap="round"/>
<path d="M97.5,65.4l3.1,0.6" stroke="#20dc20" stroke-width="0.9" stroke-linecap="round"/>
<path d="M135.0,31.5l3.2,1.1" stroke="#d4553a" stroke-width="1.1" stroke-linecap="round"/>
<path d="M67.4,42.4l5.8,0.8" stroke="#f8f500" stroke-width="0.8" stroke-linecap="round"/>
<path d="M91.5,49.5l4.4,2.4" stroke="#f8f500" stroke-width="0.6" stroke-linecap="round"/>
<path d="M137.5,35.7l4.7,1.5" stroke="#f8f500" stroke-width="0.7" stroke-linecap="round"/>
<path d="M81.5,65.1l5.9,2.4" stroke="#2a9c96" stroke-width="1.0" stroke-linecap="round"/>
<path d="M139.4,36.8l3.6,0.8" stroke="#20dc20" stroke-width="0.9" stroke-linecap="round"/>
<path d="M138.6,57.8l2.3,6.4" stroke="#0d2f86" stroke-width="0.7" stroke-linecap="round"/>
<path d="M50.9,55.0l4.1,0.8" stroke="#d4553a" stroke-width="0.6" stroke-linecap="round"/>
<path d="M79.1,27.0l6.1,0.8" stroke="#d4553a" stroke-width="0.8" stroke-linecap="round"/>
<path d="M50.9,43.7l5.9,3.3" stroke="#f8f500" stroke-width="0.9" stroke-linecap="round"/>
<path d="M137.1,13.5l4.3,1.2" stroke="#d4553a" stroke-width="0.7" stroke-linecap="round"/>
<path d="M135.2,33.7l2.9,0.4" stroke="#f8f500" stroke-width="0.7" stroke-linecap="round"/>
<path d="M117.8,46.7l5.7,2.1" stroke="#20dc20" stroke-width="1.0" stroke-linecap="round"/>
<path d="M160.6,43.4l-0.8,3.7" stroke="#f0a21e" stroke-width="0.8" stroke-linecap="round"/>
<path d="M61.9,62.8l5.9,1.8" stroke="#2a9c96" stroke-width="0.8" stroke-linecap="round"/>
<path d="M97.6,25.3l5.5,2.1" stroke="#d4553a" stroke-width="0.9" stroke-linecap="round"/>
<path d="M127.1,25.8l3.3,1.7" stroke="#f0a21e" stroke-width="0.7" stroke-linecap="round"/>
<path d="M119.0,18.4l2.6,1.5" stroke="#f0a21e" stroke-width="0.8" stroke-linecap="round"/>
<path d="M127.2,47.2l2.8,5.2" stroke="#2a9c96" stroke-width="0.8" stroke-linecap="round"/>
<path d="M78.6,26.4l2.5,0.8" stroke="#f8f500" stroke-width="0.7" stroke-linecap="round"/>
<path d="M62.2,42.5l3.8,1.4" stroke="#2a9c96" stroke-width="0.7" stroke-linecap="round"/>
<path d="M32.5,29.0l4.6,1.0" stroke="#f0a21e" stroke-width="0.8" stroke-linecap="round"/>
<path d="M100.1,69.1l5.0,0.9" stroke="#20dc20" stroke-width="0.9" stroke-linecap="round"/>
<path d="M154.7,43.9l-0.5,4.4" stroke="#20dc20" stroke-width="0.9" stroke-linecap="round"/>
<path d="M143.8,20.6l2.6,0.5" stroke="#d4553a" stroke-width="1.1" stroke-linecap="round"/>
<path d="M137.1,58.4l2.2,5.3" stroke="#20dc20" stroke-width="0.7" stroke-linecap="round"/>
<path d="M155.4,45.7l-0.4,2.9" stroke="#20dc20" stroke-width="0.8" stroke-linecap="round"/>
<path d="M147.1,19.5l5.3,2.5" stroke="#f8f500" stroke-width="0.9" stroke-linecap="round"/>
<path d="M161.6,52.9l-1.4,4.5" stroke="#0d2f86" stroke-width="1.0" stroke-linecap="round"/>
<path d="M119.9,57.0l3.9,4.2" stroke="#20dc20" stroke-width="0.6" stroke-linecap="round"/>
<path d="M162.3,29.5l5.7,2.0" stroke="#f8f500" stroke-width="0.9" stroke-linecap="round"/>
<path d="M109.3,44.4l3.6,0.7" stroke="#20dc20" stroke-width="0.6" stroke-linecap="round"/>
<path d="M128.4,16.0l3.6,0.5" stroke="#f0a21e" stroke-width="1.0" stroke-linecap="round"/>
<path d="M138.8,31.9l6.4,2.4" stroke="#d4553a" stroke-width="0.8" stroke-linecap="round"/>
<path d="M143.1,43.5l0.5,3.1" stroke="#0d2f86" stroke-width="1.0" stroke-linecap="round"/>
<path d="M90.9,51.8l5.8,2.2" stroke="#f8f500" stroke-width="0.8" stroke-linecap="round"/>
<path d="M114.5,33.0l4.4,1.8" stroke="#f8f500" stroke-width="1.1" stroke-linecap="round"/>
<path d="M139.7,56.3l1.0,3.3" stroke="#20dc20" stroke-width="1.0" stroke-linecap="round"/>
<path d="M57.9,52.8l2.9,0.9" stroke="#f0a21e" stroke-width="0.8" stroke-linecap="round"/>
<path d="M89.9,27.9l2.6,0.7" stroke="#f8f500" stroke-width="0.9" stroke-linecap="round"/>
<path d="M129.2,66.2l4.1,4.7" stroke="#f8f500" stroke-width="0.8" stroke-linecap="round"/>
<path d="M97.3,65.9l5.9,2.4" stroke="#2a9c96" stroke-width="1.0" stroke-linecap="round"/>
<path d="M140.6,34.6l3.8,1.2" stroke="#f8f500" stroke-width="0.8" stroke-linecap="round"/>
<path d="M108.8,39.2l3.4,1.0" stroke="#20dc20" stroke-width="0.7" stroke-linecap="round"/>
<path d="M126.7,36.8l3.0,0.7" stroke="#f8f500" stroke-width="0.6" stroke-linecap="round"/>
<path d="M119.5,32.1l5.3,1.4" stroke="#f8f500" stroke-width="0.7" stroke-linecap="round"/>
<path d="M132.5,64.7l2.7,3.9" stroke="#f8f500" stroke-width="1.0" stroke-linecap="round"/>
<path d="M148.3,52.9l0.2,3.9" stroke="#0d2f86" stroke-width="0.8" stroke-linecap="round"/>
<path d="M146.1,37.7l3.2,1.4" stroke="#f8f500" stroke-width="1.1" stroke-linecap="round"/>
<path d="M75.9,39.9l5.3,1.4" stroke="#20dc20" stroke-width="1.0" stroke-linecap="round"/>
<path d="M76.4,27.3l4.2,0.4" stroke="#f8f500" stroke-width="0.7" stroke-linecap="round"/>
<path d="M162.1,31.7l6.0,3.4" stroke="#d4553a" stroke-width="1.0" stroke-linecap="round"/>
<path d="M82.9,31.2l4.8,1.0" stroke="#d4553a" stroke-width="1.1" stroke-linecap="round"/>
<path d="M144.4,21.1l6.6,0.6" stroke="#f8f500" stroke-width="0.7" stroke-linecap="round"/>
<path d="M166.4,25.2l2.4,0.7" stroke="#f8f500" stroke-width="0.7" stroke-linecap="round"/>
<path d="M132.6,41.6l1.2,3.3" stroke="#0d2f86" stroke-width="0.7" stroke-linecap="round"/>
<path d="M124.7,24.2l3.4,1.7" stroke="#f0a21e" stroke-width="1.0" stroke-linecap="round"/>
<path d="M87.0,55.8l4.5,0.7" stroke="#2a9c96" stroke-width="1.0" stroke-linecap="round"/>
<path d="M94.1,47.5l6.1,1.0" stroke="#f8f500" stroke-width="1.0" stroke-linecap="round"/>
<path d="M111.8,44.6l5.6,1.2" stroke="#20dc20" stroke-width="1.1" stroke-linecap="round"/>
<path d="M161.6,53.0l-1.5,4.9" stroke="#20dc20" stroke-width="0.7" stroke-linecap="round"/>
<path d="M142.2,19.5l4.0,1.4" stroke="#f8f500" stroke-width="0.7" stroke-linecap="round"/>
<path d="M116.9,56.1l5.8,1.3" stroke="#0d2f86" stroke-width="0.8" stroke-linecap="round"/>
<path d="M94.0,39.8l5.9,2.8" stroke="#20dc20" stroke-width="0.7" stroke-linecap="round"/>
<path d="M47.3,52.5l4.5,1.9" stroke="#d4553a" stroke-width="0.8" stroke-linecap="round"/>
<path d="M99.4,29.0l5.1,2.5" stroke="#f8f500" stroke-width="0.7" stroke-linecap="round"/>
<path d="M98.6,50.2l3.2,1.4" stroke="#20dc20" stroke-width="0.7" stroke-linecap="round"/>
<path d="M142.6,37.7l4.5,1.1" stroke="#f8f500" stroke-width="0.7" stroke-linecap="round"/>
<path d="M173.9,48.2l-3.1,5.5" stroke="#0d2f86" stroke-width="1.1" stroke-linecap="round"/>
<path d="M125.0,58.6l2.9,3.6" stroke="#0d2f86" stroke-width="0.7" stroke-linecap="round"/>
<path d="M98.1,35.8l4.7,1.1" stroke="#f8f500" stroke-width="0.7" stroke-linecap="round"/>
<path d="M43.9,32.5l4.3,0.5" stroke="#20dc20" stroke-width="1.0" stroke-linecap="round"/>
<path d="M160.5,59.2l-1.3,3.8" stroke="#0d2f86" stroke-width="0.8" stroke-linecap="round"/>
<path d="M105.0,27.0l3.7,1.2" stroke="#d4553a" stroke-width="0.9" stroke-linecap="round"/>
<path d="M60.3,41.6l5.4,2.5" stroke="#2a9c96" stroke-width="1.0" stroke-linecap="round"/>
<path d="M49.6,36.9l3.1,1.1" stroke="#f8f500" stroke-width="0.8" stroke-linecap="round"/>
<path d="M147.5,41.2l0.1,2.9" stroke="#0d2f86" stroke-width="0.9" stroke-linecap="round"/>
<path d="M97.0,54.5l2.7,1.2" stroke="#20dc20" stroke-width="0.6" stroke-linecap="round"/>
<path d="M152.8,20.2l4.6,1.2" stroke="#d4553a" stroke-width="0.8" stroke-linecap="round"/>
<path d="M97.8,26.3l5.2,1.5" stroke="#d4553a" stroke-width="0.8" stroke-linecap="round"/>
<path d="M156.3,30.0l6.4,0.6" stroke="#f8f500" stroke-width="1.0" stroke-linecap="round"/>
<path d="M132.6,13.1l2.9,1.0" stroke="#f8f500" stroke-width="1.1" stroke-linecap="round"/>
<path d="M109.7,46.7l3.7,1.3" stroke="#0d2f86" stroke-width="0.7" stroke-linecap="round"/>
<path d="M120.4,36.8l5.6,0.7" stroke="#20dc20" stroke-width="1.0" stroke-linecap="round"/>
<path d="M118.7,33.3l6.0,2.1" stroke="#20dc20" stroke-width="0.6" stroke-linecap="round"/>
<path d="M119.4,64.4l4.8,4.0" stroke="#2a9c96" stroke-width="0.8" stroke-linecap="round"/>
<path d="M156.3,57.0l-0.9,4.6" stroke="#0d2f86" stroke-width="0.7" stroke-linecap="round"/>
<path d="M115.7,66.6l5.4,2.3" stroke="#20dc20" stroke-width="0.7" stroke-linecap="round"/>
<path d="M126.0,55.3l2.4,3.5" stroke="#0d2f86" stroke-width="1.0" stroke-linecap="round"/>
<path d="M94.9,36.8l2.8,1.2" stroke="#20dc20" stroke-width="1.0" stroke-linecap="round"/>
<path d="M173.1,37.7l2.7,0.7" stroke="#f8f500" stroke-width="1.1" stroke-linecap="round"/>
<path d="M56.5,39.3l5.4,0.9" stroke="#f8f500" stroke-width="0.9" stroke-linecap="round"/>
<path d="M107.5,46.8l4.2,0.6" stroke="#0d2f86" stroke-width="0.9" stroke-linecap="round"/>
<path d="M82.2,23.9l4.1,2.2" stroke="#d4553a" stroke-width="0.9" stroke-linecap="round"/>
<path d="M119.2,47.3l3.0,4.1" stroke="#0d2f86" stroke-width="0.6" stroke-linecap="round"/>
<path d="M126.3,31.0l6.1,1.8" stroke="#d4553a" stroke-width="0.7" stroke-linecap="round"/>
<path d="M121.9,41.2l2.4,4.1" stroke="#f8f500" stroke-width="0.7" stroke-linecap="round"/>
<path d="M87.6,26.4l6.0,0.9" stroke="#d4553a" stroke-width="1.0" stroke-linecap="round"/>
<path d="M117.2,60.0l5.7,1.0" stroke="#2a9c96" stroke-width="0.6" stroke-linecap="round"/>
<path d="M138.5,27.7l2.4,1.1" stroke="#f0a21e" stroke-width="0.6" stroke-linecap="round"/>
<path d="M79.5,49.3l4.6,2.2" stroke="#20dc20" stroke-width="1.1" stroke-linecap="round"/>
<path d="M148.8,54.8l0.2,5.9" stroke="#0d2f86" stroke-width="0.7" stroke-linecap="round"/>
<path d="M109.8,21.3l6.4,2.6" stroke="#f0a21e" stroke-width="1.0" stroke-linecap="round"/>
</g></g>
<rect x="13.6" y="8.2" width="167.50" height="78.70" fill="none" stroke="#858585" stroke-width="1.0"/>
<path d="M24.30,86.90v1.5M50.55,86.90v1.5M76.80,86.90v1.5M103.05,86.90v1.5M129.30,86.90v1.5M155.55,86.90v1.5M13.60,11.10h-1.1M13.60,37.35h-1.1M13.60,63.60h-1.1" stroke="#222" stroke-width="0.8" fill="none"/>
<text class="tl" x="24.30" y="93.7" text-anchor="middle">75°E</text>
<text class="tl" x="50.55" y="93.7" text-anchor="middle">80°E</text>
<text class="tl" x="76.80" y="93.7" text-anchor="middle">85°E</text>
<text class="tl" x="103.05" y="93.7" text-anchor="middle">90°E</text>
<text class="tl" x="129.30" y="93.7" text-anchor="middle">95°E</text>
<text class="tl" x="155.55" y="93.7" text-anchor="middle">100°E</text>
<text class="tl" transform="translate(10.6,11.10) rotate(-90)" text-anchor="middle">40°N</text>
<text class="tl" transform="translate(10.6,37.35) rotate(-90)" text-anchor="middle">35°N</text>
<text class="tl" transform="translate(10.6,63.60) rotate(-90)" text-anchor="middle">30°N</text>
<text class="ml" x="31.5" y="15.2">Sep</text>
<text class="lt" x="16.9" y="55.0">δ<tspan font-size="3.2px" dy="-1.6">18</tspan><tspan dy="1.6">O</tspan></text><text class="lt" x="30.3" y="55.0" textLength="9.3" lengthAdjust="spacingAndGlyphs">(‰)</text>
<rect x="16.0" y="57.10" width="9.7" height="4.62" fill="#0d2f86"/>
<rect x="16.0" y="61.67" width="9.7" height="4.62" fill="#2a9c96"/>
<rect x="16.0" y="66.24" width="9.7" height="4.62" fill="#20dc20"/>
<rect x="16.0" y="70.81" width="9.7" height="4.62" fill="#f8f500"/>
<rect x="16.0" y="75.38" width="9.7" height="4.62" fill="#f0a21e"/>
<rect x="16.0" y="79.95" width="9.7" height="4.62" fill="#d4553a"/>
<text class="ll" x="27.8" y="62.77">-17.09</text>
<text class="ll" x="27.8" y="67.34">-15.38</text>
<text class="ll" x="27.8" y="71.91">-13.51</text>
<text class="ll" x="27.8" y="76.48">-11.67</text>
<text class="ll" x="27.8" y="81.05">-10.45</text>
</g>
<g transform="translate(0.00,286.22)">
<g clip-path="url(#tp)"><g filter="url(#nz2)"><rect x="10" y="5" width="175" height="85" fill="#74c636"/>
<polygon points="40.0,40.0 100.0,40.0 100.0,62.0 90.0,70.0 75.0,70.0 60.0,64.0 45.0,58.0 40.0,50.0" fill="#4cb848"/>
<polygon points="40.0,43.0 60.0,43.5 80.0,45.0 92.0,46.0 94.0,52.0 88.0,58.0 75.0,60.0 60.0,59.0 48.0,56.0 40.0,52.0" fill="#2f7f78"/>
<polygon points="150.0,40.0 175.0,40.0 178.0,55.0 165.0,60.0 150.0,55.0" fill="#4cb848"/>
<polygon points="163.4,41.8 170.0,41.0 173.3,44.0 172.0,51.7 165.0,51.7 163.0,47.0" fill="#1c648e"/>
<polygon points="106.0,70.0 115.0,66.0 130.0,66.0 145.0,66.0 150.0,70.0 150.0,80.0 106.0,80.0" fill="#c8c040"/>
<polygon points="10.0,42.0 44.0,41.5 60.0,41.0 80.0,40.0 100.0,40.0 120.0,38.0 140.0,37.0 160.0,36.0 175.0,38.0 185.0,38.0 185.0,0.0 10.0,0.0" fill="#f8f500"/>
<polygon points="10.0,36.5 44.0,36.0 60.0,35.0 80.0,33.5 100.0,33.0 115.0,30.0 130.0,32.0 150.0,33.0 170.0,33.0 185.0,33.0 185.0,0.0 10.0,0.0" fill="#f0a21e"/>
<polygon points="10.0,34.0 40.0,33.0 44.0,30.0 60.0,28.0 75.0,26.0 80.0,29.5 90.0,30.5 98.0,30.0 100.0,27.9 106.0,22.0 115.8,20.0 129.7,22.0 145.5,24.0 157.4,26.0 167.3,26.0 185.0,26.0 185.0,0.0 10.0,0.0" fill="#d4553a"/>
<polygon points="115.0,26.0 120.0,24.0 140.0,24.5 148.0,27.0 147.0,32.0 140.0,34.0 120.0,33.5 114.0,30.0" fill="#20dc20"/>
<polygon points="118.0,27.0 125.0,26.0 140.0,26.5 145.5,28.0 144.0,31.0 130.0,32.0 120.0,31.0" fill="#0d2f86"/>
<path d="M147.1,68.7l0.6,4.4" stroke="#f0a21e" stroke-width="0.9" stroke-linecap="round"/>
<path d="M49.5,47.3l4.1,0.7" stroke="#0d2f86" stroke-width="0.9" stroke-linecap="round"/>
<path d="M163.9,37.3l4.7,1.9" stroke="#2a9c96" stroke-width="1.0" stroke-linecap="round"/>
<path d="M66.4,62.4l4.6,0.8" stroke="#0d2f86" stroke-width="0.7" stroke-linecap="round"/>
<path d="M158.4,26.0l4.1,0.7" stroke="#f8f500" stroke-width="0.9" stroke-linecap="round"/>
<path d="M149.2,58.2l0.2,6.3" stroke="#20dc20" stroke-width="1.1" stroke-linecap="round"/>
<path d="M127.0,38.9l2.8,0.5" stroke="#20dc20" stroke-width="0.7" stroke-linecap="round"/>
<path d="M90.4,49.6l6.0,2.7" stroke="#20dc20" stroke-width="0.8" stroke-linecap="round"/>
<path d="M123.6,22.5l6.1,2.8" stroke="#d4553a" stroke-width="0.9" stroke-linecap="round"/>
<path d="M86.0,23.7l4.3,1.4" stroke="#f0a21e" stroke-width="1.0" stroke-linecap="round"/>
<path d="M139.2,70.4l2.7,5.0" stroke="#d4553a" stroke-width="0.8" stroke-linecap="round"/>
<path d="M140.4,12.9l5.8,1.3" stroke="#f0a21e" stroke-width="0.7" stroke-linecap="round"/>
<path d="M127.9,48.7l2.8,5.2" stroke="#20dc20" stroke-width="1.0" stroke-linecap="round"/>
<path d="M119.2,43.9l1.8,2.6" stroke="#20dc20" stroke-width="0.6" stroke-linecap="round"/>
<path d="M140.3,31.7l4.7,2.5" stroke="#f8f500" stroke-width="0.9" stroke-linecap="round"/>
<path d="M123.8,65.1l4.8,4.6" stroke="#2a9c96" stroke-width="0.8" stroke-linecap="round"/>
<path d="M103.5,36.3l4.4,1.9" stroke="#20dc20" stroke-width="1.0" stroke-linecap="round"/>
<path d="M115.2,67.1l4.8,2.4" stroke="#f0a21e" stroke-width="0.7" stroke-linecap="round"/>
<path d="M109.5,43.9l3.5,1.5" stroke="#20dc20" stroke-width="0.8" stroke-linecap="round"/>
<path d="M72.6,33.3l6.7,1.0" stroke="#f8f500" stroke-width="1.0" stroke-linecap="round"/>
<path d="M92.0,60.5l6.3,0.6" stroke="#0d2f86" stroke-width="1.0" stroke-linecap="round"/>
<path d="M172.9,36.9l2.8,1.0" stroke="#20dc20" stroke-width="0.9" stroke-linecap="round"/>
<path d="M109.1,51.6l5.2,1.8" stroke="#f8f500" stroke-width="0.6" stroke-linecap="round"/>
<path d="M119.0,77.9l4.9,1.9" stroke="#f0a21e" stroke-width="1.1" stroke-linecap="round"/>
<path d="M47.5,35.9l5.2,2.0" stroke="#20dc20" stroke-width="1.0" stroke-linecap="round"/>
<path d="M58.4,51.3l2.7,0.7" stroke="#0d2f86" stroke-width="0.9" stroke-linecap="round"/>
<path d="M126.7,72.5l5.5,4.1" stroke="#d4553a" stroke-width="0.8" stroke-linecap="round"/>
<path d="M99.4,58.7l3.7,1.9" stroke="#f8f500" stroke-width="0.9" stroke-linecap="round"/>
<path d="M119.3,63.3l2.2,1.9" stroke="#f8f500" stroke-width="0.8" stroke-linecap="round"/>
<path d="M158.6,72.3l-1.3,2.6" stroke="#f8f500" stroke-width="1.0" stroke-linecap="round"/>
<path d="M101.5,73.3l3.5,1.7" stroke="#f8f500" stroke-width="1.0" stroke-linecap="round"/>
<path d="M131.5,56.4l1.4,2.5" stroke="#20dc20" stroke-width="0.8" stroke-linecap="round"/>
<path d="M78.4,34.2l5.5,2.0" stroke="#20dc20" stroke-width="1.0" stroke-linecap="round"/>
<path d="M53.0,35.5l3.9,1.2" stroke="#f0a21e" stroke-width="0.8" stroke-linecap="round"/>
<path d="M159.1,72.9l-2.6,4.9" stroke="#2a9c96" stroke-width="0.7" stroke-linecap="round"/>
<path d="M159.8,23.2l2.4,0.9" stroke="#f0a21e" stroke-width="0.9" stroke-linecap="round"/>
<path d="M143.6,52.1l0.9,5.3" stroke="#20dc20" stroke-width="0.9" stroke-linecap="round"/>
<path d="M96.4,39.6l3.7,0.4" stroke="#20dc20" stroke-width="1.0" stroke-linecap="round"/>
<path d="M105.6,43.3l2.5,0.4" stroke="#0d2f86" stroke-width="1.0" stroke-linecap="round"/>
<path d="M132.5,58.8l2.5,4.5" stroke="#2a9c96" stroke-width="0.8" stroke-linecap="round"/>
<path d="M77.7,35.1l3.2,0.6" stroke="#20dc20" stroke-width="0.8" stroke-linecap="round"/>
<path d="M162.3,34.8l3.0,1.2" stroke="#f0a21e" stroke-width="0.8" stroke-linecap="round"/>
<path d="M54.4,54.4l5.2,0.6" stroke="#2a9c96" stroke-width="0.8" stroke-linecap="round"/>
<path d="M60.8,32.0l3.7,2.0" stroke="#d4553a" stroke-width="0.7" stroke-linecap="round"/>
<path d="M115.3,63.4l6.4,1.6" stroke="#f8f500" stroke-width="0.9" stroke-linecap="round"/>
<path d="M25.0,17.4l6.7,0.9" stroke="#f0a21e" stroke-width="0.6" stroke-linecap="round"/>
<path d="M97.3,57.5l6.5,1.3" stroke="#0d2f86" stroke-width="1.1" stroke-linecap="round"/>
<path d="M62.2,35.1l6.3,2.4" stroke="#20dc20" stroke-width="0.8" stroke-linecap="round"/>
<path d="M80.6,63.8l4.4,2.3" stroke="#0d2f86" stroke-width="0.6" stroke-linecap="round"/>
<path d="M106.8,23.0l3.6,0.7" stroke="#d4553a" stroke-width="0.7" stroke-linecap="round"/>
<path d="M44.2,32.5l5.1,2.7" stroke="#f8f500" stroke-width="0.9" stroke-linecap="round"/>
<path d="M129.8,62.6l2.0,2.7" stroke="#f8f500" stroke-width="0.9" stroke-linecap="round"/>
<path d="M129.0,51.1l2.7,4.9" stroke="#20dc20" stroke-width="1.0" stroke-linecap="round"/>
<path d="M107.7,34.7l4.7,1.4" stroke="#f0a21e" stroke-width="1.0" stroke-linecap="round"/>
<path d="M47.6,34.7l4.0,1.5" stroke="#f8f500" stroke-width="0.8" stroke-linecap="round"/>
<path d="M171.0,36.8l6.3,1.8" stroke="#f0a21e" stroke-width="0.8" stroke-linecap="round"/>
<path d="M151.2,76.4l-0.5,6.3" stroke="#20dc20" stroke-width="0.6" stroke-linecap="round"/>
<path d="M101.0,44.4l2.6,0.5" stroke="#20dc20" stroke-width="0.7" stroke-linecap="round"/>
<path d="M93.0,32.0l6.0,1.0" stroke="#f8f500" stroke-width="0.9" stroke-linecap="round"/>
<path d="M115.2,65.2l4.2,2.0" stroke="#20dc20" stroke-width="0.7" stroke-linecap="round"/>
<path d="M131.6,47.6l1.9,4.3" stroke="#0d2f86" stroke-width="1.0" stroke-linecap="round"/>
<path d="M103.5,22.6l3.1,1.1" stroke="#f0a21e" stroke-width="1.0" stroke-linecap="round"/>
<path d="M69.6,51.3l6.0,0.7" stroke="#0d2f86" stroke-width="1.1" stroke-linecap="round"/>
<path d="M121.6,51.3l2.0,2.7" stroke="#f8f500" stroke-width="0.7" stroke-linecap="round"/>
<path d="M122.9,74.5l2.6,1.5" stroke="#f0a21e" stroke-width="1.0" stroke-linecap="round"/>
<path d="M85.7,23.9l3.4,1.7" stroke="#f0a21e" stroke-width="0.9" stroke-linecap="round"/>
<path d="M74.9,30.0l6.5,0.7" stroke="#d4553a" stroke-width="1.0" stroke-linecap="round"/>
<path d="M139.3,37.8l3.1,1.0" stroke="#f8f500" stroke-width="1.0" stroke-linecap="round"/>
<path d="M92.1,67.3l5.9,1.9" stroke="#f8f500" stroke-width="1.1" stroke-linecap="round"/>
<path d="M130.9,53.2l1.2,2.3" stroke="#20dc20" stroke-width="0.7" stroke-linecap="round"/>
<path d="M145.7,64.9l0.5,2.7" stroke="#f8f500" stroke-width="0.8" stroke-linecap="round"/>
<path d="M160.7,58.3l-2.1,6.3" stroke="#2a9c96" stroke-width="0.7" stroke-linecap="round"/>
<path d="M134.0,70.3l2.4,3.0" stroke="#f0a21e" stroke-width="1.1" stroke-linecap="round"/>
<path d="M105.6,41.4l5.7,2.5" stroke="#20dc20" stroke-width="0.8" stroke-linecap="round"/>
<path d="M62.9,37.2l6.2,2.9" stroke="#20dc20" stroke-width="0.7" stroke-linecap="round"/>
<path d="M76.1,29.4l5.2,2.7" stroke="#d4553a" stroke-width="1.1" stroke-linecap="round"/>
<path d="M81.8,29.9l3.9,2.0" stroke="#f8f500" stroke-width="1.0" stroke-linecap="round"/>
<path d="M158.3,58.0l-1.2,4.8" stroke="#f8f500" stroke-width="0.8" stroke-linecap="round"/>
<path d="M66.6,48.8l2.4,0.8" stroke="#0d2f86" stroke-width="0.9" stroke-linecap="round"/>
<path d="M155.0,42.3l-0.3,2.5" stroke="#0d2f86" stroke-width="0.6" stroke-linecap="round"/>
<path d="M129.1,63.6l3.4,4.3" stroke="#f8f500" stroke-width="0.8" stroke-linecap="round"/>
<path d="M53.9,38.3l4.8,1.2" stroke="#f0a21e" stroke-width="0.9" stroke-linecap="round"/>
<path d="M160.8,38.6l2.6,0.3" stroke="#f8f500" stroke-width="0.8" stroke-linecap="round"/>
<path d="M149.9,76.6l0.0,4.6" stroke="#f0a21e" stroke-width="0.8" stroke-linecap="round"/>
<path d="M135.2,54.9l2.0,4.7" stroke="#f8f500" stroke-width="1.1" stroke-linecap="round"/>
<path d="M144.0,66.3l1.2,4.7" stroke="#f0a21e" stroke-width="0.7" stroke-linecap="round"/>
<path d="M86.9,41.1l5.9,3.0" stroke="#2a9c96" stroke-width="0.7" stroke-linecap="round"/>
<path d="M110.6,23.5l2.6,1.3" stroke="#f8f500" stroke-width="0.8" stroke-linecap="round"/>
<path d="M71.5,42.6l6.6,1.9" stroke="#2a9c96" stroke-width="0.7" stroke-linecap="round"/>
<path d="M78.0,67.8l3.9,1.9" stroke="#2a9c96" stroke-width="0.8" stroke-linecap="round"/>
<path d="M103.0,32.0l4.7,1.4" stroke="#d4553a" stroke-width="0.9" stroke-linecap="round"/>
<path d="M102.1,34.6l4.6,1.9" stroke="#f0a21e" stroke-width="1.0" stroke-linecap="round"/>
<path d="M99.6,58.9l4.8,0.9" stroke="#0d2f86" stroke-width="0.8" stroke-linecap="round"/>
<path d="M44.2,52.5l3.6,0.9" stroke="#0d2f86" stroke-width="0.9" stroke-linecap="round"/>
<path d="M162.4,75.6l-3.3,3.9" stroke="#20dc20" stroke-width="0.7" stroke-linecap="round"/>
<path d="M171.1,58.3l-3.9,5.8" stroke="#2a9c96" stroke-width="0.6" stroke-linecap="round"/>
<path d="M47.1,31.3l3.1,0.5" stroke="#d4553a" stroke-width="0.9" stroke-linecap="round"/>
<path d="M161.2,38.8l6.7,1.1" stroke="#20dc20" stroke-width="1.0" stroke-linecap="round"/>
<path d="M156.2,24.4l6.8,1.2" stroke="#f0a21e" stroke-width="0.7" stroke-linecap="round"/>
<path d="M75.2,38.7l5.1,2.4" stroke="#f0a21e" stroke-width="0.8" stroke-linecap="round"/>
<path d="M101.0,55.2l4.8,2.0" stroke="#0d2f86" stroke-width="1.0" stroke-linecap="round"/>
<path d="M94.3,73.1l5.6,0.7" stroke="#20dc20" stroke-width="1.1" stroke-linecap="round"/>
<path d="M48.8,48.1l5.3,2.9" stroke="#0d2f86" stroke-width="0.7" stroke-linecap="round"/>
<path d="M97.9,33.9l4.1,0.9" stroke="#20dc20" stroke-width="0.7" stroke-linecap="round"/>
<path d="M79.5,27.4l5.5,1.8" stroke="#f0a21e" stroke-width="0.7" stroke-linecap="round"/>
<path d="M143.5,48.5l0.9,5.9" stroke="#f8f500" stroke-width="1.0" stroke-linecap="round"/>
<path d="M175.0,53.3l-2.1,3.1" stroke="#f8f500" stroke-width="0.8" stroke-linecap="round"/>
<path d="M84.8,40.8l4.6,0.7" stroke="#0d2f86" stroke-width="0.9" stroke-linecap="round"/>
<path d="M121.5,56.8l2.3,2.7" stroke="#2a9c96" stroke-width="0.7" stroke-linecap="round"/>
<path d="M130.7,41.6l1.1,2.9" stroke="#0d2f86" stroke-width="1.0" stroke-linecap="round"/>
<path d="M173.3,50.9l-3.2,5.4" stroke="#20dc20" stroke-width="1.0" stroke-linecap="round"/>
<path d="M117.5,44.6l4.7,1.6" stroke="#20dc20" stroke-width="0.8" stroke-linecap="round"/>
<path d="M77.8,35.1l6.2,1.1" stroke="#f0a21e" stroke-width="1.0" stroke-linecap="round"/>
<path d="M135.0,38.6l6.6,2.2" stroke="#f8f500" stroke-width="0.6" stroke-linecap="round"/>
<path d="M36.2,30.8l3.4,1.7" stroke="#f0a21e" stroke-width="1.0" stroke-linecap="round"/>
<path d="M82.8,57.5l3.6,1.3" stroke="#2a9c96" stroke-width="0.9" stroke-linecap="round"/>
<path d="M94.5,52.9l3.5,1.4" stroke="#0d2f86" stroke-width="1.0" stroke-linecap="round"/>
<path d="M58.4,55.6l3.1,1.3" stroke="#2a9c96" stroke-width="0.8" stroke-linecap="round"/>
<path d="M99.1,73.3l3.7,1.2" stroke="#20dc20" stroke-width="0.9" stroke-linecap="round"/>
<path d="M96.0,27.1l3.3,1.0" stroke="#f0a21e" stroke-width="0.7" stroke-linecap="round"/>
<path d="M102.8,23.5l3.1,1.3" stroke="#f0a21e" stroke-width="0.7" stroke-linecap="round"/>
<path d="M128.3,57.5l2.9,4.3" stroke="#0d2f86" stroke-width="0.9" stroke-linecap="round"/>
<path d="M103.9,16.5l2.9,0.6" stroke="#f0a21e" stroke-width="0.7" stroke-linecap="round"/>
<path d="M110.1,30.4l4.1,2.1" stroke="#f8f500" stroke-width="1.0" stroke-linecap="round"/>
<path d="M84.5,24.0l2.6,0.3" stroke="#f0a21e" stroke-width="0.7" stroke-linecap="round"/>
<path d="M69.4,65.3l5.9,2.9" stroke="#0d2f86" stroke-width="0.8" stroke-linecap="round"/>
<path d="M118.0,35.5l4.4,0.6" stroke="#f0a21e" stroke-width="0.6" stroke-linecap="round"/>
<path d="M132.9,61.4l2.0,3.3" stroke="#0d2f86" stroke-width="0.9" stroke-linecap="round"/>
<path d="M102.3,67.8l3.0,1.0" stroke="#20dc20" stroke-width="1.0" stroke-linecap="round"/>
<path d="M74.4,26.7l3.7,1.7" stroke="#f8f500" stroke-width="0.9" stroke-linecap="round"/>
<path d="M39.3,26.2l6.8,1.3" stroke="#f0a21e" stroke-width="1.0" stroke-linecap="round"/>
<path d="M73.4,35.7l4.7,1.9" stroke="#20dc20" stroke-width="0.9" stroke-linecap="round"/>
<path d="M122.0,43.5l1.5,2.6" stroke="#f8f500" stroke-width="0.7" stroke-linecap="round"/>
<path d="M67.1,44.5l2.9,0.5" stroke="#0d2f86" stroke-width="0.8" stroke-linecap="round"/>
<path d="M157.3,36.3l4.4,0.6" stroke="#f8f500" stroke-width="0.7" stroke-linecap="round"/>
<path d="M115.4,64.5l5.7,1.9" stroke="#20dc20" stroke-width="1.0" stroke-linecap="round"/>
<path d="M69.2,51.4l4.1,0.4" stroke="#0d2f86" stroke-width="0.6" stroke-linecap="round"/>
<path d="M162.8,46.3l-1.0,3.3" stroke="#20dc20" stroke-width="0.7" stroke-linecap="round"/>
<path d="M115.7,37.3l3.4,0.5" stroke="#f0a21e" stroke-width="0.7" stroke-linecap="round"/>
<path d="M80.2,60.2l3.0,1.0" stroke="#0d2f86" stroke-width="1.1" stroke-linecap="round"/>
<path d="M128.5,20.9l6.8,1.0" stroke="#f0a21e" stroke-width="1.0" stroke-linecap="round"/>
<path d="M151.0,60.9l-0.2,6.0" stroke="#20dc20" stroke-width="0.7" stroke-linecap="round"/>
<path d="M75.7,37.4l4.0,1.8" stroke="#f0a21e" stroke-width="0.7" stroke-linecap="round"/>
<path d="M130.6,36.7l4.0,0.5" stroke="#20dc20" stroke-width="0.8" stroke-linecap="round"/>
<path d="M55.4,46.9l5.7,1.5" stroke="#20dc20" stroke-width="0.8" stroke-linecap="round"/>
<path d="M154.4,56.1l-0.7,5.6" stroke="#2a9c96" stroke-width="0.9" stroke-linecap="round"/>
<path d="M154.0,39.5l3.2,0.9" stroke="#20dc20" stroke-width="1.0" stroke-linecap="round"/>
<path d="M87.4,60.1l2.6,0.9" stroke="#0d2f86" stroke-width="1.0" stroke-linecap="round"/>
<path d="M148.6,25.9l2.5,1.3" stroke="#d4553a" stroke-width="0.8" stroke-linecap="round"/>
<path d="M145.4,15.8l4.1,1.9" stroke="#f0a21e" stroke-width="0.6" stroke-linecap="round"/>
<path d="M121.3,46.2l1.9,2.9" stroke="#0d2f86" stroke-width="0.7" stroke-linecap="round"/>
<path d="M100.3,18.3l3.7,1.8" stroke="#f0a21e" stroke-width="1.0" stroke-linecap="round"/>
<path d="M68.4,33.4l2.5,1.2" stroke="#f8f500" stroke-width="0.9" stroke-linecap="round"/>
<path d="M160.8,55.0l-1.1,3.5" stroke="#0d2f86" stroke-width="0.8" stroke-linecap="round"/>
<path d="M40.8,30.1l5.4,1.2" stroke="#f0a21e" stroke-width="0.6" stroke-linecap="round"/>
<path d="M160.1,21.9l2.5,1.0" stroke="#f0a21e" stroke-width="0.8" stroke-linecap="round"/>
<path d="M130.8,44.5l1.7,4.0" stroke="#f8f500" stroke-width="1.1" stroke-linecap="round"/>
<path d="M72.4,63.0l5.9,2.2" stroke="#2a9c96" stroke-width="0.8" stroke-linecap="round"/>
<path d="M157.2,60.6l-1.4,5.7" stroke="#f8f500" stroke-width="1.0" stroke-linecap="round"/>
<path d="M95.0,52.6l2.8,1.3" stroke="#20dc20" stroke-width="0.8" stroke-linecap="round"/>
<path d="M103.2,42.7l5.9,2.4" stroke="#20dc20" stroke-width="0.6" stroke-linecap="round"/>
<path d="M139.3,57.7l1.4,4.2" stroke="#20dc20" stroke-width="1.0" stroke-linecap="round"/>
<path d="M143.4,63.1l1.5,6.1" stroke="#f8f500" stroke-width="0.9" stroke-linecap="round"/>
<path d="M66.9,29.6l2.6,0.5" stroke="#d4553a" stroke-width="1.0" stroke-linecap="round"/>
<path d="M113.8,29.9l3.7,0.6" stroke="#f8f500" stroke-width="0.7" stroke-linecap="round"/>
<path d="M86.5,72.7l2.8,1.3" stroke="#20dc20" stroke-width="0.9" stroke-linecap="round"/>
<path d="M159.8,61.7l-1.1,3.2" stroke="#20dc20" stroke-width="1.0" stroke-linecap="round"/>
<path d="M135.8,38.1l4.8,1.0" stroke="#20dc20" stroke-width="1.1" stroke-linecap="round"/>
<path d="M103.0,47.6l4.1,2.2" stroke="#20dc20" stroke-width="1.0" stroke-linecap="round"/>
<path d="M157.5,50.9l-1.2,6.2" stroke="#2a9c96" stroke-width="0.9" stroke-linecap="round"/>
<path d="M62.3,58.7l5.2,2.8" stroke="#2a9c96" stroke-width="0.8" stroke-linecap="round"/>
<path d="M124.8,32.4l2.7,1.2" stroke="#f8f500" stroke-width="1.1" stroke-linecap="round"/>
<path d="M134.7,30.3l4.6,2.4" stroke="#2a9c96" stroke-width="0.7" stroke-linecap="round"/>
<path d="M29.4,26.2l6.3,1.6" stroke="#f0a21e" stroke-width="0.9" stroke-linecap="round"/>
<path d="M81.9,47.1l2.9,1.0" stroke="#0d2f86" stroke-width="0.9" stroke-linecap="round"/>
<path d="M88.1,68.9l5.1,1.9" stroke="#0d2f86" stroke-width="1.0" stroke-linecap="round"/>
<path d="M73.4,67.8l4.8,1.6" stroke="#2a9c96" stroke-width="1.0" stroke-linecap="round"/>
<path d="M82.3,42.0l3.0,1.0" stroke="#f8f500" stroke-width="0.9" stroke-linecap="round"/>
<path d="M54.0,50.5l5.4,1.4" stroke="#2a9c96" stroke-width="0.7" stroke-linecap="round"/>
<path d="M82.1,40.1l5.1,1.2" stroke="#0d2f86" stroke-width="0.7" stroke-linecap="round"/>
<path d="M101.1,55.7l3.8,0.5" stroke="#f8f500" stroke-width="0.6" stroke-linecap="round"/>
<path d="M143.0,14.1l4.5,2.6" stroke="#f0a21e" stroke-width="1.0" stroke-linecap="round"/>
<path d="M163.5,62.3l-1.3,2.6" stroke="#20dc20" stroke-width="1.1" stroke-linecap="round"/>
<path d="M67.0,54.3l5.6,1.1" stroke="#0d2f86" stroke-width="0.9" stroke-linecap="round"/>
<path d="M87.5,69.1l6.9,1.1" stroke="#20dc20" stroke-width="0.9" stroke-linecap="round"/>
<path d="M161.3,72.9l-1.9,2.9" stroke="#f8f500" stroke-width="0.7" stroke-linecap="round"/>
<path d="M123.1,59.2l2.6,3.0" stroke="#0d2f86" stroke-width="0.6" stroke-linecap="round"/>
<path d="M75.0,31.8l5.4,2.0" stroke="#f8f500" stroke-width="0.9" stroke-linecap="round"/>
<path d="M134.0,21.6l2.9,0.9" stroke="#f0a21e" stroke-width="1.0" stroke-linecap="round"/>
<path d="M153.4,58.7l-0.4,3.7" stroke="#20dc20" stroke-width="0.6" stroke-linecap="round"/>
<path d="M28.7,27.8l5.6,1.2" stroke="#f0a21e" stroke-width="0.7" stroke-linecap="round"/>
<path d="M56.7,52.5l4.6,0.7" stroke="#0d2f86" stroke-width="1.1" stroke-linecap="round"/>
<path d="M57.1,58.3l2.6,1.5" stroke="#0d2f86" stroke-width="0.8" stroke-linecap="round"/>
<path d="M107.0,64.7l5.4,2.3" stroke="#20dc20" stroke-width="0.8" stroke-linecap="round"/>
<path d="M143.4,25.3l2.6,0.2" stroke="#d4553a" stroke-width="1.0" stroke-linecap="round"/>
<path d="M127.4,75.1l4.9,3.2" stroke="#f8f500" stroke-width="0.7" stroke-linecap="round"/>
<path d="M53.8,42.7l6.5,0.7" stroke="#f8f500" stroke-width="0.8" stroke-linecap="round"/>
<path d="M155.4,51.5l-0.5,3.6" stroke="#0d2f86" stroke-width="0.9" stroke-linecap="round"/>
<path d="M155.6,46.3l-0.5,3.8" stroke="#0d2f86" stroke-width="1.0" stroke-linecap="round"/>
<path d="M164.5,58.3l-2.1,4.7" stroke="#0d2f86" stroke-width="1.1" stroke-linecap="round"/>
<path d="M87.1,28.7l3.5,0.9" stroke="#f0a21e" stroke-width="0.7" stroke-linecap="round"/>
<path d="M154.4,31.3l4.8,2.3" stroke="#d4553a" stroke-width="1.0" stroke-linecap="round"/>
<path d="M109.5,40.0l5.0,1.3" stroke="#f8f500" stroke-width="1.1" stroke-linecap="round"/>
<path d="M119.5,32.4l2.5,1.0" stroke="#2a9c96" stroke-width="0.7" stroke-linecap="round"/>
<path d="M113.1,32.7l2.5,0.6" stroke="#f0a21e" stroke-width="0.8" stroke-linecap="round"/>
<path d="M122.9,39.4l6.3,1.7" stroke="#0d2f86" stroke-width="1.0" stroke-linecap="round"/>
<path d="M142.4,35.7l6.4,1.0" stroke="#20dc20" stroke-width="0.7" stroke-linecap="round"/>
<path d="M164.8,31.2l6.6,0.8" stroke="#d4553a" stroke-width="0.8" stroke-linecap="round"/>
<path d="M147.7,62.0l0.5,5.7" stroke="#20dc20" stroke-width="0.6" stroke-linecap="round"/>
<path d="M118.2,31.1l6.8,0.8" stroke="#f8f500" stroke-width="1.0" stroke-linecap="round"/>
<path d="M139.3,68.9l2.7,5.3" stroke="#f0a21e" stroke-width="1.1" stroke-linecap="round"/>
<path d="M172.7,40.7l-2.7,5.8" stroke="#f8f500" stroke-width="0.6" stroke-linecap="round"/>
<path d="M124.8,50.2l1.8,2.8" stroke="#20dc20" stroke-width="0.9" stroke-linecap="round"/>
<path d="M97.3,27.1l5.2,1.5" stroke="#f0a21e" stroke-width="1.1" stroke-linecap="round"/>
<path d="M90.2,65.3l3.5,1.6" stroke="#20dc20" stroke-width="0.7" stroke-linecap="round"/>
<path d="M98.6,43.8l3.0,0.9" stroke="#f8f500" stroke-width="1.0" stroke-linecap="round"/>
<path d="M59.9,36.5l5.1,1.0" stroke="#20dc20" stroke-width="1.1" stroke-linecap="round"/>
<path d="M75.8,64.2l3.6,2.0" stroke="#2a9c96" stroke-width="1.0" stroke-linecap="round"/>
<path d="M50.7,54.6l3.1,1.2" stroke="#0d2f86" stroke-width="0.7" stroke-linecap="round"/>
<path d="M168.9,27.2l5.4,2.9" stroke="#f8f500" stroke-width="0.8" stroke-linecap="round"/>
<path d="M155.1,36.7l5.6,1.1" stroke="#20dc20" stroke-width="1.1" stroke-linecap="round"/>
<path d="M100.2,31.5l4.4,1.8" stroke="#f8f500" stroke-width="0.9" stroke-linecap="round"/>
<path d="M124.6,55.6l2.7,3.6" stroke="#0d2f86" stroke-width="1.0" stroke-linecap="round"/>
<path d="M148.1,41.2l0.2,6.0" stroke="#f8f500" stroke-width="0.9" stroke-linecap="round"/>
<path d="M110.9,51.2l2.6,1.3" stroke="#f8f500" stroke-width="0.7" stroke-linecap="round"/>
<path d="M137.4,24.0l2.5,0.3" stroke="#d4553a" stroke-width="0.9" stroke-linecap="round"/>
<path d="M152.4,57.4l-0.5,6.6" stroke="#20dc20" stroke-width="0.8" stroke-linecap="round"/>
<path d="M160.1,59.1l-1.2,3.7" stroke="#f8f500" stroke-width="0.7" stroke-linecap="round"/>
<path d="M49.8,48.2l6.4,2.6" stroke="#0d2f86" stroke-width="0.8" stroke-linecap="round"/>
<path d="M90.4,62.4l2.7,0.4" stroke="#20dc20" stroke-width="0.7" stroke-linecap="round"/>
<path d="M159.7,40.9l-1.3,6.7" stroke="#0d2f86" stroke-width="1.0" stroke-linecap="round"/>
<path d="M135.7,61.8l2.3,4.5" stroke="#f8f500" stroke-width="0.9" stroke-linecap="round"/>
<path d="M123.5,37.1l3.3,0.5" stroke="#20dc20" stroke-width="1.1" stroke-linecap="round"/>
<path d="M48.1,56.2l6.1,2.7" stroke="#0d2f86" stroke-width="0.8" stroke-linecap="round"/>
<path d="M128.5,49.1l2.6,4.9" stroke="#f8f500" stroke-width="0.6" stroke-linecap="round"/>
<path d="M91.6,56.6l3.0,0.7" stroke="#20dc20" stroke-width="0.8" stroke-linecap="round"/>
<path d="M88.6,42.4l6.4,0.6" stroke="#0d2f86" stroke-width="0.7" stroke-linecap="round"/>
<path d="M160.6,71.8l-2.1,3.6" stroke="#f8f500" stroke-width="0.6" stroke-linecap="round"/>
<path d="M83.7,67.4l2.7,0.8" stroke="#f8f500" stroke-width="0.9" stroke-linecap="round"/>
<path d="M101.4,70.8l6.1,3.2" stroke="#f8f500" stroke-width="1.1" stroke-linecap="round"/>
<path d="M92.8,19.6l5.2,2.0" stroke="#f0a21e" stroke-width="0.6" stroke-linecap="round"/>
<path d="M74.6,53.3l4.8,2.1" stroke="#20dc20" stroke-width="0.9" stroke-linecap="round"/>
<path d="M166.3,61.8l-1.3,2.3" stroke="#f8f500" stroke-width="1.1" stroke-linecap="round"/>
<path d="M168.3,46.2l-1.4,3.4" stroke="#0d2f86" stroke-width="0.7" stroke-linecap="round"/>
<path d="M160.2,57.9l-1.1,3.4" stroke="#20dc20" stroke-width="1.0" stroke-linecap="round"/>
<path d="M161.9,60.0l-2.6,6.5" stroke="#f8f500" stroke-width="0.7" stroke-linecap="round"/>
<path d="M88.8,60.3l4.0,0.7" stroke="#0d2f86" stroke-width="1.0" stroke-linecap="round"/>
<path d="M130.4,36.9l6.9,0.7" stroke="#f0a21e" stroke-width="0.7" stroke-linecap="round"/>
<path d="M84.5,38.8l5.7,2.1" stroke="#f0a21e" stroke-width="0.9" stroke-linecap="round"/>
<path d="M96.4,35.9l4.8,0.9" stroke="#f0a21e" stroke-width="0.6" stroke-linecap="round"/>
<path d="M17.9,13.2l3.7,0.9" stroke="#f0a21e" stroke-width="0.9" stroke-linecap="round"/>
<path d="M78.9,59.8l5.5,1.1" stroke="#f8f500" stroke-width="0.7" stroke-linecap="round"/>
<path d="M75.7,31.3l6.0,0.7" stroke="#d4553a" stroke-width="0.8" stroke-linecap="round"/>
<path d="M90.5,22.0l4.3,0.5" stroke="#f0a21e" stroke-width="0.7" stroke-linecap="round"/>
<path d="M150.1,46.6l-0.0,6.5" stroke="#20dc20" stroke-width="0.7" stroke-linecap="round"/>
<path d="M148.2,58.8l0.2,2.9" stroke="#0d2f86" stroke-width="1.1" stroke-linecap="round"/>
<path d="M99.0,60.6l2.6,1.2" stroke="#f8f500" stroke-width="0.9" stroke-linecap="round"/>
<path d="M143.5,20.9l5.7,1.0" stroke="#f0a21e" stroke-width="0.9" stroke-linecap="round"/>
<path d="M140.5,35.2l4.7,2.6" stroke="#20dc20" stroke-width="1.0" stroke-linecap="round"/>
<path d="M166.3,70.0l-4.3,5.2" stroke="#20dc20" stroke-width="1.1" stroke-linecap="round"/>
<path d="M154.8,37.5l5.8,1.1" stroke="#20dc20" stroke-width="1.0" stroke-linecap="round"/>
<path d="M104.7,73.6l3.3,0.5" stroke="#2a9c96" stroke-width="1.0" stroke-linecap="round"/>
<path d="M57.3,55.7l4.4,2.4" stroke="#0d2f86" stroke-width="0.9" stroke-linecap="round"/>
<path d="M46.8,55.1l5.8,1.1" stroke="#0d2f86" stroke-width="0.6" stroke-linecap="round"/>
<path d="M174.6,44.6l-3.0,5.5" stroke="#0d2f86" stroke-width="0.8" stroke-linecap="round"/>
<path d="M92.2,26.8l3.0,0.3" stroke="#f0a21e" stroke-width="0.8" stroke-linecap="round"/>
<path d="M133.0,40.1l1.2,3.4" stroke="#f8f500" stroke-width="0.6" stroke-linecap="round"/>
<path d="M155.9,42.2l-0.3,2.6" stroke="#20dc20" stroke-width="0.7" stroke-linecap="round"/>
<path d="M88.3,25.2l4.3,1.6" stroke="#f0a21e" stroke-width="0.9" stroke-linecap="round"/>
<path d="M131.0,58.4l1.4,2.4" stroke="#f8f500" stroke-width="0.9" stroke-linecap="round"/>
<path d="M153.8,38.4l6.0,2.4" stroke="#20dc20" stroke-width="0.7" stroke-linecap="round"/>
<path d="M84.0,38.8l3.5,0.5" stroke="#f0a21e" stroke-width="0.7" stroke-linecap="round"/>
<path d="M138.0,14.3l4.5,1.5" stroke="#f0a21e" stroke-width="1.0" stroke-linecap="round"/>
<path d="M154.5,45.8l-0.3,2.6" stroke="#0d2f86" stroke-width="0.9" stroke-linecap="round"/>
<path d="M56.6,35.4l4.3,1.6" stroke="#20dc20" stroke-width="1.0" stroke-linecap="round"/>
<path d="M140.1,54.0l1.2,4.2" stroke="#f8f500" stroke-width="0.8" stroke-linecap="round"/>
<path d="M102.9,53.0l2.9,1.5" stroke="#20dc20" stroke-width="0.8" stroke-linecap="round"/>
<path d="M158.0,62.1l-1.1,3.8" stroke="#f8f500" stroke-width="0.8" stroke-linecap="round"/>
<path d="M131.0,14.8l4.3,2.1" stroke="#f0a21e" stroke-width="0.6" stroke-linecap="round"/>
<path d="M61.5,54.0l4.6,1.6" stroke="#20dc20" stroke-width="1.0" stroke-linecap="round"/>
<path d="M116.6,34.8l5.3,1.2" stroke="#f0a21e" stroke-width="0.7" stroke-linecap="round"/>
<path d="M120.4,22.0l4.1,1.2" stroke="#d4553a" stroke-width="1.0" stroke-linecap="round"/>
<path d="M158.3,53.5l-1.2,5.2" stroke="#20dc20" stroke-width="0.6" stroke-linecap="round"/>
<path d="M62.6,30.6l2.9,0.9" stroke="#d4553a" stroke-width="0.8" stroke-linecap="round"/>
<path d="M44.6,32.5l5.2,1.5" stroke="#d4553a" stroke-width="0.7" stroke-linecap="round"/>
<path d="M102.0,59.8l2.7,0.6" stroke="#f8f500" stroke-width="0.9" stroke-linecap="round"/>
<path d="M149.8,49.9l0.0,5.4" stroke="#20dc20" stroke-width="0.6" stroke-linecap="round"/>
<path d="M129.9,21.4l5.1,0.8" stroke="#f0a21e" stroke-width="0.9" stroke-linecap="round"/>
<path d="M124.4,60.1l2.4,2.8" stroke="#0d2f86" stroke-width="0.9" stroke-linecap="round"/>
<path d="M118.3,78.5l4.1,1.5" stroke="#d4553a" stroke-width="1.0" stroke-linecap="round"/>
<path d="M167.0,57.0l-2.1,4.0" stroke="#f8f500" stroke-width="1.0" stroke-linecap="round"/>
<path d="M87.9,45.0l5.7,1.7" stroke="#0d2f86" stroke-width="0.7" stroke-linecap="round"/>
<path d="M98.3,30.2l3.1,0.8" stroke="#f8f500" stroke-width="0.9" stroke-linecap="round"/>
<path d="M166.1,24.4l4.2,1.2" stroke="#f0a21e" stroke-width="0.7" stroke-linecap="round"/>
<path d="M158.6,33.3l6.7,0.6" stroke="#20dc20" stroke-width="1.0" stroke-linecap="round"/>
<path d="M118.0,39.7l3.2,0.6" stroke="#2a9c96" stroke-width="0.6" stroke-linecap="round"/>
<path d="M68.9,39.2l5.6,3.0" stroke="#20dc20" stroke-width="1.1" stroke-linecap="round"/>
<path d="M147.9,75.5l0.5,3.2" stroke="#f0a21e" stroke-width="0.7" stroke-linecap="round"/>
<path d="M117.5,22.6l5.4,2.0" stroke="#f8f500" stroke-width="0.8" stroke-linecap="round"/>
<path d="M80.8,67.0l2.8,1.0" stroke="#f8f500" stroke-width="0.9" stroke-linecap="round"/>
<path d="M158.2,63.6l-1.8,5.7" stroke="#f8f500" stroke-width="1.0" stroke-linecap="round"/>
<path d="M114.6,44.1l4.8,1.3" stroke="#f8f500" stroke-width="0.9" stroke-linecap="round"/>
<path d="M166.0,69.8l-2.7,3.4" stroke="#f8f500" stroke-width="1.1" stroke-linecap="round"/>
<path d="M112.9,76.8l5.3,1.7" stroke="#f8f500" stroke-width="1.1" stroke-linecap="round"/>
<path d="M56.1,38.4l2.6,0.7" stroke="#20dc20" stroke-width="1.1" stroke-linecap="round"/>
<path d="M133.0,66.4l3.6,5.1" stroke="#f8f500" stroke-width="1.0" stroke-linecap="round"/>
<path d="M106.9,22.8l3.3,1.0" stroke="#f8f500" stroke-width="0.7" stroke-linecap="round"/>
<path d="M135.1,58.0l2.1,4.5" stroke="#20dc20" stroke-width="0.9" stroke-linecap="round"/>
<path d="M157.8,50.6l-0.7,3.4" stroke="#20dc20" stroke-width="0.7" stroke-linecap="round"/>
<path d="M92.6,67.7l5.7,2.2" stroke="#0d2f86" stroke-width="0.9" stroke-linecap="round"/>
<path d="M142.7,61.1l0.7,2.9" stroke="#20dc20" stroke-width="0.6" stroke-linecap="round"/>
<path d="M111.8,24.5l3.8,0.8" stroke="#f8f500" stroke-width="0.9" stroke-linecap="round"/>
<path d="M73.7,36.3l6.5,1.1" stroke="#f0a21e" stroke-width="1.0" stroke-linecap="round"/>
<path d="M165.8,65.7l-3.2,4.9" stroke="#f8f500" stroke-width="0.8" stroke-linecap="round"/>
<path d="M74.2,39.7l5.6,0.7" stroke="#20dc20" stroke-width="0.9" stroke-linecap="round"/>
<path d="M63.8,41.1l3.9,0.5" stroke="#20dc20" stroke-width="0.9" stroke-linecap="round"/>
<path d="M159.0,32.6l4.1,1.4" stroke="#d4553a" stroke-width="0.9" stroke-linecap="round"/>
<path d="M90.2,61.4l5.1,1.8" stroke="#2a9c96" stroke-width="1.0" stroke-linecap="round"/>
<path d="M93.7,32.0l3.0,1.4" stroke="#f8f500" stroke-width="0.7" stroke-linecap="round"/>
<path d="M91.3,53.1l5.5,2.0" stroke="#2a9c96" stroke-width="0.8" stroke-linecap="round"/>
<path d="M148.1,33.1l6.6,1.7" stroke="#f0a21e" stroke-width="0.8" stroke-linecap="round"/>
<path d="M56.8,58.6l3.4,1.1" stroke="#f8f500" stroke-width="0.8" stroke-linecap="round"/>
<path d="M130.8,37.6l4.5,1.1" stroke="#f8f500" stroke-width="0.8" stroke-linecap="round"/>
<path d="M75.9,34.8l2.3,1.3" stroke="#20dc20" stroke-width="1.0" stroke-linecap="round"/>
<path d="M126.5,23.7l3.0,1.7" stroke="#f8f500" stroke-width="0.7" stroke-linecap="round"/>
<path d="M70.2,29.1l5.8,2.9" stroke="#f8f500" stroke-width="0.8" stroke-linecap="round"/>
<path d="M47.5,53.7l3.0,0.4" stroke="#0d2f86" stroke-width="1.1" stroke-linecap="round"/>
<path d="M138.2,48.5l1.1,4.0" stroke="#f8f500" stroke-width="1.0" stroke-linecap="round"/>
<path d="M97.4,74.5l4.9,1.0" stroke="#0d2f86" stroke-width="0.8" stroke-linecap="round"/>
<path d="M135.4,52.1l2.0,5.1" stroke="#2a9c96" stroke-width="0.9" stroke-linecap="round"/>
</g></g>
<rect x="13.6" y="8.2" width="167.50" height="78.70" fill="none" stroke="#858585" stroke-width="1.0"/>
<path d="M24.30,86.90v1.5M50.55,86.90v1.5M76.80,86.90v1.5M103.05,86.90v1.5M129.30,86.90v1.5M155.55,86.90v1.5M13.60,11.10h-1.1M13.60,37.35h-1.1M13.60,63.60h-1.1" stroke="#222" stroke-width="0.8" fill="none"/>
<text class="tl" x="24.30" y="93.7" text-anchor="middle">75°E</text>
<text class="tl" x="50.55" y="93.7" text-anchor="middle">80°E</text>
<text class="tl" x="76.80" y="93.7" text-anchor="middle">85°E</text>
<text class="tl" x="103.05" y="93.7" text-anchor="middle">90°E</text>
<text class="tl" x="129.30" y="93.7" text-anchor="middle">95°E</text>
<text class="tl" x="155.55" y="93.7" text-anchor="middle">100°E</text>
<text class="tl" transform="translate(10.6,11.10) rotate(-90)" text-anchor="middle">40°N</text>
<text class="tl" transform="translate(10.6,37.35) rotate(-90)" text-anchor="middle">35°N</text>
<text class="tl" transform="translate(10.6,63.60) rotate(-90)" text-anchor="middle">30°N</text>
<text class="ml" x="31.5" y="15.2">Oct</text>
<text class="lt" x="16.9" y="55.0">δ<tspan font-size="3.2px" dy="-1.6">18</tspan><tspan dy="1.6">O</tspan></text><text class="lt" x="30.3" y="55.0" textLength="9.3" lengthAdjust="spacingAndGlyphs">(‰)</text>
<rect x="16.0" y="57.10" width="9.7" height="4.62" fill="#0d2f86"/>
<rect x="16.0" y="61.67" width="9.7" height="4.62" fill="#2a9c96"/>
<rect x="16.0" y="66.24" width="9.7" height="4.62" fill="#20dc20"/>
<rect x="16.0" y="70.81" width="9.7" height="4.62" fill="#f8f500"/>
<rect x="16.0" y="75.38" width="9.7" height="4.62" fill="#f0a21e"/>
<rect x="16.0" y="79.95" width="9.7" height="4.62" fill="#d4553a"/>
<text class="ll" x="27.8" y="62.77">-17.94</text>
<text class="ll" x="27.8" y="67.34">-15.73</text>
<text class="ll" x="27.8" y="71.91">-14.41</text>
<text class="ll" x="27.8" y="76.48">-13.91</text>
<text class="ll" x="27.8" y="81.05">-13.32</text>
</g>
<g transform="translate(181.92,286.22)">
<g clip-path="url(#tp)"><g filter="url(#nz)"><rect x="10" y="5" width="175" height="85" fill="#20dc20"/>
<polygon points="110.0,90.0 112.8,76.8 121.2,72.7 133.7,70.6 146.2,66.4 152.4,56.0 154.5,43.5 156.6,33.0 162.8,22.7 166.0,18.0 185.0,18.0 185.0,90.0" fill="#d4553a"/>
<polygon points="128.0,24.0 140.0,20.0 150.0,20.0 160.0,20.0 162.8,22.7 156.6,33.0 154.5,43.5 152.4,56.0 146.2,66.4 133.7,70.6 121.2,72.7 112.8,76.8 110.0,76.0 116.0,68.0 124.0,62.0 130.0,55.0 134.0,45.0 135.0,35.0 132.0,28.0" fill="#f0b818"/>
<polygon points="142.0,22.0 150.0,20.0 160.0,20.0 162.8,22.7 156.6,33.0 154.5,43.5 152.4,56.0 146.2,66.4 133.7,70.6 121.2,72.7 114.0,75.0 122.0,68.0 132.0,62.0 138.0,55.0 142.0,45.0 144.0,35.0 143.0,28.0" fill="#f0a21e"/>
<polygon points="112.0,16.0 120.0,14.0 130.0,15.0 135.0,20.0 138.0,24.0 136.0,30.0 134.0,40.0 131.0,50.0 126.0,57.0 120.0,61.0 110.0,60.0 96.0,58.5 88.0,57.0 86.0,50.0 90.0,47.0 100.0,47.0 110.0,45.0 118.0,38.0 116.0,30.0 112.0,24.0" fill="#f8f500"/>
<polygon points="104.0,17.0 115.0,16.0 125.0,20.0 128.0,25.0 122.0,29.0 110.0,29.0 104.0,24.0" fill="#20dc20"/>
<polygon points="90.0,20.0 100.0,22.0 110.0,26.0 115.0,30.0 115.0,40.0 110.0,44.0 100.0,46.0 92.0,48.0 80.0,50.0 70.0,52.0 60.0,56.0 50.0,58.0 42.0,55.0 42.0,42.0 70.0,40.0 85.0,35.0" fill="#2a9c96"/>
<polygon points="96.0,62.0 108.0,62.0 112.0,70.0 100.0,74.0 92.0,72.0" fill="#2a9c96"/>
<polygon points="96.0,28.0 104.0,28.0 108.0,34.0 106.0,42.0 98.0,44.0 96.0,38.0" fill="#1c648e"/>
<polygon points="30.0,24.0 35.0,26.0 45.4,30.4 61.0,29.5 76.7,29.0 92.0,27.5 97.0,29.0 97.0,34.0 92.0,37.0 84.5,38.0 76.7,41.4 68.8,42.9 61.0,44.5 53.2,46.0 42.3,46.0 38.0,40.0 31.0,32.0" fill="#0d2f86"/>
<polygon points="10.0,0.0 30.0,0.0 33.0,22.0 31.0,32.0 20.0,28.0 15.0,22.0" fill="#24ba5a"/>
<polygon points="15.0,10.0 21.0,10.0 21.0,14.0 16.0,15.0" fill="#a8dc20"/>
<polygon points="129.5,12.3 152.4,12.3 152.4,22.7 140.0,23.0 130.0,21.0" fill="#20dc20"/>
<polygon points="134.0,14.0 148.0,14.0 150.0,19.0 144.0,21.0 136.0,20.0" fill="#2a9c96"/>
<polygon points="44.0,51.9 50.0,53.0 57.0,56.0 57.0,60.2 50.0,59.0 44.0,56.0" fill="#f8f500"/>
<polygon points="44.0,53.0 50.0,55.0 55.0,58.0 50.0,60.0 44.0,57.0" fill="#f0a21e"/>
<path d="M108.5,27.3l6.5,1.9" stroke="#0d2f86" stroke-width="0.8" stroke-linecap="round"/>
<path d="M126.7,65.5l3.9,4.1" stroke="#f8f500" stroke-width="0.8" stroke-linecap="round"/>
<path d="M92.6,40.8l3.6,1.2" stroke="#20dc20" stroke-width="1.1" stroke-linecap="round"/>
<path d="M97.9,17.0l5.6,3.1" stroke="#2a9c96" stroke-width="0.8" stroke-linecap="round"/>
<path d="M69.2,63.3l4.9,1.8" stroke="#f8f500" stroke-width="1.0" stroke-linecap="round"/>
<path d="M146.1,41.0l0.4,4.6" stroke="#f8f500" stroke-width="0.7" stroke-linecap="round"/>
<path d="M97.1,41.0l5.4,1.9" stroke="#2a9c96" stroke-width="0.8" stroke-linecap="round"/>
<path d="M44.3,34.6l4.4,1.3" stroke="#2a9c96" stroke-width="0.6" stroke-linecap="round"/>
<path d="M122.7,35.6l5.9,2.8" stroke="#f0a21e" stroke-width="0.9" stroke-linecap="round"/>
<path d="M122.8,41.9l1.7,3.0" stroke="#20dc20" stroke-width="0.8" stroke-linecap="round"/>
<path d="M156.3,39.6l4.3,2.2" stroke="#f0a21e" stroke-width="1.1" stroke-linecap="round"/>
<path d="M138.4,15.5l6.7,0.8" stroke="#0d2f86" stroke-width="0.6" stroke-linecap="round"/>
<path d="M111.0,28.1l5.4,2.6" stroke="#0d2f86" stroke-width="0.7" stroke-linecap="round"/>
<path d="M107.8,25.5l3.9,0.7" stroke="#20dc20" stroke-width="0.7" stroke-linecap="round"/>
<path d="M115.8,77.5l4.0,1.9" stroke="#f0a21e" stroke-width="0.7" stroke-linecap="round"/>
<path d="M85.9,48.5l5.8,2.5" stroke="#20dc20" stroke-width="0.9" stroke-linecap="round"/>
<path d="M92.4,45.3l5.4,2.8" stroke="#0d2f86" stroke-width="1.1" stroke-linecap="round"/>
<path d="M144.5,18.4l3.4,0.5" stroke="#20dc20" stroke-width="0.8" stroke-linecap="round"/>
<path d="M111.9,15.5l5.1,0.7" stroke="#f8f500" stroke-width="0.9" stroke-linecap="round"/>
<path d="M158.8,72.2l-2.5,5.1" stroke="#f0a21e" stroke-width="0.6" stroke-linecap="round"/>
<path d="M153.8,75.5l-1.8,6.7" stroke="#f0a21e" stroke-width="1.0" stroke-linecap="round"/>
<path d="M105.2,53.3l3.0,1.1" stroke="#f0a21e" stroke-width="0.9" stroke-linecap="round"/>
<path d="M127.0,36.4l5.1,0.6" stroke="#20dc20" stroke-width="1.0" stroke-linecap="round"/>
<path d="M132.3,51.1l2.0,4.3" stroke="#d4553a" stroke-width="0.8" stroke-linecap="round"/>
<path d="M121.1,66.4l2.3,1.9" stroke="#f8f500" stroke-width="0.8" stroke-linecap="round"/>
<path d="M29.8,29.3l4.6,1.4" stroke="#20dc20" stroke-width="0.7" stroke-linecap="round"/>
<path d="M135.7,58.1l1.9,4.2" stroke="#d4553a" stroke-width="0.9" stroke-linecap="round"/>
<path d="M155.4,68.6l-1.0,4.2" stroke="#f0a21e" stroke-width="0.6" stroke-linecap="round"/>
<path d="M146.5,34.3l2.9,1.6" stroke="#d4553a" stroke-width="0.9" stroke-linecap="round"/>
<path d="M90.8,44.2l4.4,0.8" stroke="#0d2f86" stroke-width="1.1" stroke-linecap="round"/>
<path d="M46.8,49.9l5.2,2.6" stroke="#0d2f86" stroke-width="0.9" stroke-linecap="round"/>
<path d="M138.4,63.6l1.3,3.0" stroke="#f8f500" stroke-width="0.9" stroke-linecap="round"/>
<path d="M123.0,20.1l3.1,0.3" stroke="#f8f500" stroke-width="0.9" stroke-linecap="round"/>
<path d="M76.5,60.8l2.5,0.4" stroke="#f8f500" stroke-width="1.0" stroke-linecap="round"/>
<path d="M122.5,18.4l3.7,1.2" stroke="#f0a21e" stroke-width="0.7" stroke-linecap="round"/>
<path d="M25.2,26.1l2.4,1.2" stroke="#2a9c96" stroke-width="0.7" stroke-linecap="round"/>
<path d="M158.0,29.6l2.6,0.4" stroke="#f8f500" stroke-width="0.9" stroke-linecap="round"/>
<path d="M156.4,27.8l6.2,2.7" stroke="#d4553a" stroke-width="0.7" stroke-linecap="round"/>
<path d="M72.0,44.0l3.6,1.1" stroke="#20dc20" stroke-width="0.8" stroke-linecap="round"/>
<path d="M128.6,43.6l2.1,4.5" stroke="#f0a21e" stroke-width="0.9" stroke-linecap="round"/>
<path d="M152.5,46.8l-0.4,6.9" stroke="#d4553a" stroke-width="0.9" stroke-linecap="round"/>
<path d="M112.8,33.0l3.8,1.8" stroke="#0d2f86" stroke-width="0.7" stroke-linecap="round"/>
<path d="M86.2,57.6l6.5,0.8" stroke="#2a9c96" stroke-width="0.8" stroke-linecap="round"/>
<path d="M106.1,71.5l5.4,1.8" stroke="#0d2f86" stroke-width="0.7" stroke-linecap="round"/>
<path d="M68.3,55.1l6.3,2.4" stroke="#2a9c96" stroke-width="1.0" stroke-linecap="round"/>
<path d="M89.5,55.9l2.8,1.4" stroke="#20dc20" stroke-width="0.8" stroke-linecap="round"/>
<path d="M127.3,17.2l3.4,0.7" stroke="#f0a21e" stroke-width="0.9" stroke-linecap="round"/>
<path d="M94.5,59.0l4.9,1.8" stroke="#f8f500" stroke-width="1.0" stroke-linecap="round"/>
<path d="M156.7,29.2l5.2,0.7" stroke="#f8f500" stroke-width="0.6" stroke-linecap="round"/>
<path d="M32.9,25.7l5.5,1.4" stroke="#2a9c96" stroke-width="1.0" stroke-linecap="round"/>
<path d="M115.1,66.7l3.5,1.6" stroke="#f8f500" stroke-width="0.9" stroke-linecap="round"/>
<path d="M138.0,56.0l1.9,5.4" stroke="#d4553a" stroke-width="1.0" stroke-linecap="round"/>
<path d="M118.1,60.9l2.1,1.9" stroke="#2a9c96" stroke-width="0.9" stroke-linecap="round"/>
<path d="M144.5,13.8l2.4,0.9" stroke="#2a9c96" stroke-width="0.9" stroke-linecap="round"/>
<path d="M141.2,20.3l5.1,1.7" stroke="#20dc20" stroke-width="0.8" stroke-linecap="round"/>
<path d="M75.1,50.7l3.1,0.7" stroke="#20dc20" stroke-width="1.1" stroke-linecap="round"/>
<path d="M157.5,72.6l-1.2,2.7" stroke="#f0a21e" stroke-width="1.0" stroke-linecap="round"/>
<path d="M106.6,19.0l4.2,2.3" stroke="#f8f500" stroke-width="1.1" stroke-linecap="round"/>
<path d="M153.7,24.5l4.8,0.5" stroke="#f8f500" stroke-width="0.8" stroke-linecap="round"/>
<path d="M105.3,38.4l3.5,2.0" stroke="#0d2f86" stroke-width="0.6" stroke-linecap="round"/>
<path d="M122.5,39.4l4.5,1.0" stroke="#20dc20" stroke-width="1.0" stroke-linecap="round"/>
<path d="M157.4,42.2l-0.7,4.3" stroke="#f0a21e" stroke-width="0.6" stroke-linecap="round"/>
<path d="M129.7,40.5l2.1,5.1" stroke="#20dc20" stroke-width="0.8" stroke-linecap="round"/>
<path d="M114.1,27.7l3.3,1.1" stroke="#f8f500" stroke-width="0.6" stroke-linecap="round"/>
<path d="M117.9,69.4l6.9,0.7" stroke="#f8f500" stroke-width="1.0" stroke-linecap="round"/>
<path d="M70.2,56.5l4.5,0.6" stroke="#2a9c96" stroke-width="0.6" stroke-linecap="round"/>
<path d="M99.4,49.1l4.0,1.0" stroke="#f0a21e" stroke-width="0.6" stroke-linecap="round"/>
<path d="M29.3,21.2l5.8,0.6" stroke="#20dc20" stroke-width="0.8" stroke-linecap="round"/>
<path d="M142.4,16.6l3.0,0.5" stroke="#0d2f86" stroke-width="0.8" stroke-linecap="round"/>
<path d="M44.8,45.6l3.5,0.5" stroke="#2a9c96" stroke-width="0.9" stroke-linecap="round"/>
<path d="M122.0,61.0l3.0,3.1" stroke="#f8f500" stroke-width="1.1" stroke-linecap="round"/>
<path d="M154.2,53.6l-0.8,6.9" stroke="#f0a21e" stroke-width="0.8" stroke-linecap="round"/>
<path d="M113.2,44.5l6.0,0.8" stroke="#f0a21e" stroke-width="0.8" stroke-linecap="round"/>
<path d="M72.3,68.1l5.8,0.6" stroke="#f8f500" stroke-width="0.7" stroke-linecap="round"/>
<path d="M71.8,56.3l4.7,1.2" stroke="#2a9c96" stroke-width="0.8" stroke-linecap="round"/>
<path d="M151.0,68.8l-0.2,5.3" stroke="#f0a21e" stroke-width="0.9" stroke-linecap="round"/>
<path d="M142.8,66.2l1.3,4.5" stroke="#d4553a" stroke-width="0.6" stroke-linecap="round"/>
<path d="M121.3,39.3l5.2,0.6" stroke="#f0a21e" stroke-width="1.1" stroke-linecap="round"/>
<path d="M137.1,63.0l2.5,5.3" stroke="#f8f500" stroke-width="0.9" stroke-linecap="round"/>
<path d="M60.1,59.0l4.8,2.1" stroke="#2a9c96" stroke-width="0.7" stroke-linecap="round"/>
<path d="M108.4,35.5l6.0,1.5" stroke="#20dc20" stroke-width="0.8" stroke-linecap="round"/>
<path d="M130.3,54.4l2.1,3.7" stroke="#f8f500" stroke-width="0.9" stroke-linecap="round"/>
<path d="M165.2,39.9l3.0,1.2" stroke="#f0a21e" stroke-width="0.6" stroke-linecap="round"/>
<path d="M84.8,64.5l5.0,2.1" stroke="#2a9c96" stroke-width="0.9" stroke-linecap="round"/>
<path d="M147.5,53.0l0.2,3.4" stroke="#d4553a" stroke-width="0.7" stroke-linecap="round"/>
<path d="M115.6,75.4l3.7,1.5" stroke="#d4553a" stroke-width="1.0" stroke-linecap="round"/>
<path d="M144.1,40.0l0.8,6.7" stroke="#d4553a" stroke-width="1.1" stroke-linecap="round"/>
<path d="M107.3,32.1l3.8,1.7" stroke="#20dc20" stroke-width="0.9" stroke-linecap="round"/>
<path d="M135.0,27.9l3.4,0.4" stroke="#f0a21e" stroke-width="1.0" stroke-linecap="round"/>
<path d="M84.8,22.6l3.2,0.3" stroke="#f8f500" stroke-width="1.1" stroke-linecap="round"/>
<path d="M136.0,42.9l1.4,4.7" stroke="#f8f500" stroke-width="0.7" stroke-linecap="round"/>
<path d="M93.3,27.4l5.5,2.2" stroke="#20dc20" stroke-width="1.0" stroke-linecap="round"/>
<path d="M98.0,36.1l3.7,0.7" stroke="#2a9c96" stroke-width="1.1" stroke-linecap="round"/>
<path d="M153.2,69.5l-0.8,5.1" stroke="#f0a21e" stroke-width="0.7" stroke-linecap="round"/>
<path d="M90.4,65.9l3.8,0.5" stroke="#f8f500" stroke-width="0.7" stroke-linecap="round"/>
<path d="M153.2,72.6l-1.0,5.4" stroke="#f0a21e" stroke-width="0.7" stroke-linecap="round"/>
<path d="M129.6,25.5l5.6,3.0" stroke="#20dc20" stroke-width="0.7" stroke-linecap="round"/>
<path d="M105.3,28.8l2.9,1.3" stroke="#20dc20" stroke-width="0.8" stroke-linecap="round"/>
<path d="M169.4,55.2l-3.1,5.5" stroke="#f0a21e" stroke-width="0.7" stroke-linecap="round"/>
<path d="M139.9,49.4l1.0,4.0" stroke="#f8f500" stroke-width="0.9" stroke-linecap="round"/>
<path d="M132.6,15.4l2.3,1.3" stroke="#f8f500" stroke-width="1.0" stroke-linecap="round"/>
<path d="M46.7,44.3l6.5,2.0" stroke="#2a9c96" stroke-width="0.9" stroke-linecap="round"/>
<path d="M160.6,51.4l-0.7,2.5" stroke="#f0a21e" stroke-width="0.9" stroke-linecap="round"/>
<path d="M123.5,67.2l2.0,1.7" stroke="#f8f500" stroke-width="0.8" stroke-linecap="round"/>
<path d="M134.0,30.9l2.6,1.2" stroke="#20dc20" stroke-width="0.9" stroke-linecap="round"/>
<path d="M132.0,67.3l4.2,5.3" stroke="#f8f500" stroke-width="1.0" stroke-linecap="round"/>
<path d="M134.2,73.0l2.4,2.6" stroke="#f0a21e" stroke-width="0.9" stroke-linecap="round"/>
<path d="M135.1,50.5l2.0,5.3" stroke="#f0a21e" stroke-width="1.0" stroke-linecap="round"/>
<path d="M126.1,65.8l3.7,3.8" stroke="#d4553a" stroke-width="1.0" stroke-linecap="round"/>
<path d="M121.5,26.5l4.9,0.7" stroke="#2a9c96" stroke-width="0.8" stroke-linecap="round"/>
<path d="M146.5,25.0l2.5,0.4" stroke="#f8f500" stroke-width="1.1" stroke-linecap="round"/>
<path d="M134.6,58.7l1.3,2.6" stroke="#f8f500" stroke-width="0.8" stroke-linecap="round"/>
<path d="M146.8,41.6l0.2,2.7" stroke="#d4553a" stroke-width="0.8" stroke-linecap="round"/>
<path d="M49.1,56.0l4.9,2.4" stroke="#f8f500" stroke-width="0.8" stroke-linecap="round"/>
<path d="M80.6,65.7l6.6,2.2" stroke="#2a9c96" stroke-width="0.8" stroke-linecap="round"/>
<path d="M113.6,73.8l2.4,0.8" stroke="#f0a21e" stroke-width="1.0" stroke-linecap="round"/>
<path d="M147.0,59.2l0.5,5.4" stroke="#f8f500" stroke-width="1.0" stroke-linecap="round"/>
<path d="M139.7,27.6l5.4,1.2" stroke="#d4553a" stroke-width="0.7" stroke-linecap="round"/>
<path d="M108.9,62.9l3.7,2.0" stroke="#f8f500" stroke-width="0.7" stroke-linecap="round"/>
<path d="M64.0,33.2l2.3,1.1" stroke="#2a9c96" stroke-width="0.9" stroke-linecap="round"/>
<path d="M136.8,64.8l2.8,5.4" stroke="#d4553a" stroke-width="0.9" stroke-linecap="round"/>
<path d="M123.0,26.3l5.7,1.7" stroke="#2a9c96" stroke-width="0.8" stroke-linecap="round"/>
<path d="M119.6,29.9l5.5,2.4" stroke="#20dc20" stroke-width="0.9" stroke-linecap="round"/>
<path d="M88.7,54.4l5.3,1.0" stroke="#20dc20" stroke-width="1.1" stroke-linecap="round"/>
<path d="M126.8,64.4l2.6,2.9" stroke="#d4553a" stroke-width="0.8" stroke-linecap="round"/>
<path d="M108.7,39.9l6.0,2.1" stroke="#0d2f86" stroke-width="0.9" stroke-linecap="round"/>
<path d="M169.3,58.7l-3.3,5.4" stroke="#f0a21e" stroke-width="0.7" stroke-linecap="round"/>
<path d="M111.0,18.7l4.6,2.5" stroke="#2a9c96" stroke-width="1.1" stroke-linecap="round"/>
<path d="M87.8,49.4l4.1,0.7" stroke="#20dc20" stroke-width="0.6" stroke-linecap="round"/>
<path d="M90.0,45.1l4.6,1.2" stroke="#20dc20" stroke-width="0.7" stroke-linecap="round"/>
<path d="M73.8,55.6l2.7,1.0" stroke="#2a9c96" stroke-width="1.1" stroke-linecap="round"/>
<path d="M129.5,35.3l6.6,2.2" stroke="#f0a21e" stroke-width="0.9" stroke-linecap="round"/>
<path d="M166.6,47.8l-1.9,4.8" stroke="#f0a21e" stroke-width="0.8" stroke-linecap="round"/>
<path d="M85.8,56.4l4.0,0.9" stroke="#2a9c96" stroke-width="1.1" stroke-linecap="round"/>
<path d="M112.4,42.6l2.6,0.2" stroke="#2a9c96" stroke-width="0.8" stroke-linecap="round"/>
<path d="M88.9,58.1l3.5,1.2" stroke="#2a9c96" stroke-width="0.7" stroke-linecap="round"/>
<path d="M161.5,60.4l-1.2,3.0" stroke="#f0a21e" stroke-width="0.6" stroke-linecap="round"/>
<path d="M120.0,20.9l3.5,0.6" stroke="#2a9c96" stroke-width="0.8" stroke-linecap="round"/>
<path d="M63.2,58.9l4.4,0.8" stroke="#2a9c96" stroke-width="1.1" stroke-linecap="round"/>
<path d="M174.6,53.5l-1.7,2.5" stroke="#f0a21e" stroke-width="1.0" stroke-linecap="round"/>
<path d="M82.2,46.3l5.2,1.5" stroke="#20dc20" stroke-width="0.9" stroke-linecap="round"/>
<path d="M101.0,51.8l2.2,1.1" stroke="#20dc20" stroke-width="0.7" stroke-linecap="round"/>
<path d="M123.2,69.6l4.0,3.0" stroke="#f8f500" stroke-width="0.9" stroke-linecap="round"/>
<path d="M151.3,29.0l2.4,0.9" stroke="#f8f500" stroke-width="1.1" stroke-linecap="round"/>
<path d="M158.2,62.0l-0.9,2.9" stroke="#f0a21e" stroke-width="0.7" stroke-linecap="round"/>
<path d="M159.7,61.1l-1.4,4.2" stroke="#f0a21e" stroke-width="1.1" stroke-linecap="round"/>
<path d="M101.3,27.4l6.3,2.8" stroke="#0d2f86" stroke-width="0.8" stroke-linecap="round"/>
<path d="M128.5,25.5l6.6,1.2" stroke="#f0a21e" stroke-width="0.8" stroke-linecap="round"/>
<path d="M115.5,44.3l5.2,1.9" stroke="#20dc20" stroke-width="0.6" stroke-linecap="round"/>
<path d="M108.9,35.8l3.3,0.4" stroke="#0d2f86" stroke-width="0.6" stroke-linecap="round"/>
<path d="M68.4,48.9l3.8,0.8" stroke="#20dc20" stroke-width="0.8" stroke-linecap="round"/>
<path d="M135.5,18.9l6.0,2.1" stroke="#f8f500" stroke-width="0.9" stroke-linecap="round"/>
<path d="M56.2,60.4l4.6,1.4" stroke="#f8f500" stroke-width="1.0" stroke-linecap="round"/>
<path d="M129.0,69.2l4.9,4.9" stroke="#f8f500" stroke-width="0.8" stroke-linecap="round"/>
<path d="M73.9,61.0l2.8,1.5" stroke="#2a9c96" stroke-width="0.8" stroke-linecap="round"/>
<path d="M97.4,71.4l3.2,1.0" stroke="#20dc20" stroke-width="0.7" stroke-linecap="round"/>
<path d="M169.4,32.6l3.8,2.0" stroke="#f0a21e" stroke-width="1.1" stroke-linecap="round"/>
<path d="M135.5,35.5l3.3,1.5" stroke="#d4553a" stroke-width="1.0" stroke-linecap="round"/>
<path d="M116.7,43.7l3.3,1.2" stroke="#f0a21e" stroke-width="1.0" stroke-linecap="round"/>
<path d="M149.0,37.3l5.6,2.0" stroke="#d4553a" stroke-width="0.9" stroke-linecap="round"/>
</g></g>
<rect x="13.6" y="8.2" width="167.50" height="78.70" fill="none" stroke="#858585" stroke-width="1.0"/>
<path d="M24.30,86.90v1.5M50.55,86.90v1.5M76.80,86.90v1.5M103.05,86.90v1.5M129.30,86.90v1.5M155.55,86.90v1.5M13.60,11.10h-1.1M13.60,37.35h-1.1M13.60,63.60h-1.1" stroke="#222" stroke-width="0.8" fill="none"/>
<text class="tl" x="24.30" y="93.7" text-anchor="middle">75°E</text>
<text class="tl" x="50.55" y="93.7" text-anchor="middle">80°E</text>
<text class="tl" x="76.80" y="93.7" text-anchor="middle">85°E</text>
<text class="tl" x="103.05" y="93.7" text-anchor="middle">90°E</text>
<text class="tl" x="129.30" y="93.7" text-anchor="middle">95°E</text>
<text class="tl" x="155.55" y="93.7" text-anchor="middle">100°E</text>
<text class="tl" transform="translate(10.6,11.10) rotate(-90)" text-anchor="middle">40°N</text>
<text class="tl" transform="translate(10.6,37.35) rotate(-90)" text-anchor="middle">35°N</text>
<text class="tl" transform="translate(10.6,63.60) rotate(-90)" text-anchor="middle">30°N</text>
<text class="ml" x="31.5" y="15.2">Nov</text>
<text class="lt" x="16.9" y="55.0">δ<tspan font-size="3.2px" dy="-1.6">18</tspan><tspan dy="1.6">O</tspan></text><text class="lt" x="30.3" y="55.0" textLength="9.3" lengthAdjust="spacingAndGlyphs">(‰)</text>
<rect x="16.0" y="57.10" width="9.7" height="4.62" fill="#0d2f86"/>
<rect x="16.0" y="61.67" width="9.7" height="4.62" fill="#2a9c96"/>
<rect x="16.0" y="66.24" width="9.7" height="4.62" fill="#20dc20"/>
<rect x="16.0" y="70.81" width="9.7" height="4.62" fill="#f8f500"/>
<rect x="16.0" y="75.38" width="9.7" height="4.62" fill="#f0a21e"/>
<rect x="16.0" y="79.95" width="9.7" height="4.62" fill="#d4553a"/>
<text class="ll" x="27.8" y="62.77">-22.07</text>
<text class="ll" x="27.8" y="67.34">-19.71</text>
<text class="ll" x="27.8" y="71.91">-16.38</text>
<text class="ll" x="27.8" y="76.48">-15.41</text>
<text class="ll" x="27.8" y="81.05">-13.94</text>
</g>
<g transform="translate(363.50,286.22)">
<g clip-path="url(#tp)"><g filter="url(#nz)"><rect x="10" y="5" width="175" height="85" fill="#d4553a"/>
<polygon points="10.0,90.0 84.0,90.0 86.0,68.5 96.4,68.5 113.0,66.4 129.7,64.3 146.4,61.2 158.9,60.2 165.2,64.3 166.0,73.0 170.0,90.0 185.0,90.0 185.0,0.0 10.0,0.0" fill="#f0a21e"/>
<polygon points="154.7,20.6 169.3,22.0 169.3,31.0 160.0,31.0 154.7,26.0" fill="#d4553a"/>
<polygon points="162.0,39.0 172.0,39.0 176.0,48.0 172.0,56.0 163.0,56.0 160.0,48.0" fill="#f0b818"/>
<polygon points="10.0,90.0 75.9,90.0 75.9,72.0 84.2,70.0 92.6,68.0 96.4,66.0 106.8,64.3 127.7,62.3 142.2,58.1 152.7,49.8 154.7,39.4 151.0,31.0 145.0,27.5 135.0,26.0 125.0,24.0 115.0,22.0 105.0,20.0 98.0,17.0 95.0,0.0 95.0,0.0 10.0,0.0" fill="#f8f500"/>
<polygon points="108.0,14.0 118.0,13.0 129.7,14.3 129.7,22.7 118.0,21.0 108.0,19.0" fill="#d4553a"/>
<polygon points="10.0,90.0 70.0,90.0 72.0,72.0 75.9,70.6 84.2,66.4 92.6,63.3 98.4,61.2 106.8,58.1 123.5,54.0 138.0,47.7 148.5,41.4 146.4,35.2 133.9,31.0 117.2,24.8 96.4,19.6 90.0,15.0 85.0,0.0 85.0,0.0 10.0,0.0" fill="#20dc20"/>
<polygon points="129.7,12.3 150.6,12.3 150.6,24.8 140.0,24.0 129.7,22.0" fill="#20dc20"/>
<polygon points="134.0,15.0 146.0,15.0 146.0,21.0 136.0,21.0" fill="#2a9c96"/>
<polygon points="10.0,90.0 40.0,90.0 44.6,52.0 55.0,56.0 60.0,60.0 67.6,62.0 67.6,60.2 71.7,53.9 82.2,50.8 98.4,49.8 110.0,50.0 125.6,46.0 125.6,30.0 110.0,24.0 96.4,22.7 90.0,22.0 85.0,0.0 85.0,0.0 10.0,0.0" fill="#2a9c96"/>
<polygon points="76.0,10.0 98.0,10.0 98.0,20.0 90.0,24.0 80.0,28.0 76.0,28.0" fill="#20dc20"/>
<polygon points="10.0,0.0 36.0,0.0 36.0,28.0 30.0,30.0 15.0,22.0" fill="#2a9c96"/>
<polygon points="31.0,20.0 34.0,22.0 40.0,27.0 55.0,29.0 70.0,29.0 80.0,28.0 96.4,26.9 105.0,28.0 109.0,35.0 108.0,44.0 98.4,47.7 98.4,41.4 82.2,43.5 67.6,45.6 55.1,46.6 44.6,43.5 40.0,40.0 34.0,33.0 30.0,27.0" fill="#0d2f86"/>
<path d="M93.1,43.0l2.4,0.9" stroke="#0d2f86" stroke-width="0.7" stroke-linecap="round"/>
<path d="M159.2,43.2l-0.9,4.5" stroke="#f8f500" stroke-width="0.7" stroke-linecap="round"/>
<path d="M139.3,25.2l6.4,2.8" stroke="#f8f500" stroke-width="0.9" stroke-linecap="round"/>
<path d="M153.1,65.1l-0.8,6.7" stroke="#f0a21e" stroke-width="1.0" stroke-linecap="round"/>
<path d="M127.6,25.5l2.4,1.1" stroke="#f0a21e" stroke-width="1.0" stroke-linecap="round"/>
<path d="M158.2,32.4l2.7,0.8" stroke="#d4553a" stroke-width="1.0" stroke-linecap="round"/>
<path d="M72.3,63.9l3.0,1.0" stroke="#2a9c96" stroke-width="1.0" stroke-linecap="round"/>
<path d="M64.7,52.9l2.4,0.9" stroke="#20dc20" stroke-width="0.7" stroke-linecap="round"/>
<path d="M93.3,21.0l5.2,1.4" stroke="#2a9c96" stroke-width="0.7" stroke-linecap="round"/>
<path d="M167.5,60.7l-2.3,3.9" stroke="#d4553a" stroke-width="0.9" stroke-linecap="round"/>
<path d="M135.3,19.8l2.9,1.6" stroke="#f8f500" stroke-width="0.7" stroke-linecap="round"/>
<path d="M154.5,58.1l-0.9,6.7" stroke="#d4553a" stroke-width="0.9" stroke-linecap="round"/>
<path d="M136.1,44.9l2.0,6.5" stroke="#f8f500" stroke-width="0.8" stroke-linecap="round"/>
<path d="M82.6,53.3l4.9,1.9" stroke="#f8f500" stroke-width="0.7" stroke-linecap="round"/>
<path d="M81.0,51.0l4.3,2.1" stroke="#0d2f86" stroke-width="0.9" stroke-linecap="round"/>
<path d="M167.3,34.4l4.4,1.9" stroke="#f8f500" stroke-width="1.0" stroke-linecap="round"/>
<path d="M104.2,61.5l2.7,0.5" stroke="#20dc20" stroke-width="1.0" stroke-linecap="round"/>
<path d="M100.6,54.4l5.5,2.3" stroke="#2a9c96" stroke-width="0.8" stroke-linecap="round"/>
<path d="M155.9,58.1l-0.6,3.1" stroke="#f8f500" stroke-width="0.8" stroke-linecap="round"/>
<path d="M94.9,67.5l4.8,2.7" stroke="#d4553a" stroke-width="0.6" stroke-linecap="round"/>
<path d="M136.6,27.6l6.0,2.2" stroke="#20dc20" stroke-width="0.8" stroke-linecap="round"/>
<path d="M165.3,24.5l6.1,1.5" stroke="#f0a21e" stroke-width="0.8" stroke-linecap="round"/>
<path d="M163.3,53.4l-2.4,6.5" stroke="#d4553a" stroke-width="0.6" stroke-linecap="round"/>
<path d="M134.3,27.1l2.4,0.8" stroke="#f0a21e" stroke-width="0.8" stroke-linecap="round"/>
<path d="M80.4,47.1l3.4,1.5" stroke="#20dc20" stroke-width="1.0" stroke-linecap="round"/>
<path d="M149.4,76.0l0.3,7.0" stroke="#f0a21e" stroke-width="0.9" stroke-linecap="round"/>
<path d="M143.0,45.6l0.8,5.2" stroke="#20dc20" stroke-width="0.7" stroke-linecap="round"/>
<path d="M126.5,63.8l1.7,1.9" stroke="#f8f500" stroke-width="1.0" stroke-linecap="round"/>
<path d="M127.8,49.2l3.1,5.7" stroke="#f8f500" stroke-width="1.0" stroke-linecap="round"/>
<path d="M103.8,35.1l5.0,1.1" stroke="#2a9c96" stroke-width="1.0" stroke-linecap="round"/>
<path d="M97.5,70.3l3.5,0.8" stroke="#f0a21e" stroke-width="0.7" stroke-linecap="round"/>
<path d="M145.0,55.8l1.0,6.8" stroke="#20dc20" stroke-width="0.9" stroke-linecap="round"/>
<path d="M106.2,23.3l6.4,2.7" stroke="#2a9c96" stroke-width="0.6" stroke-linecap="round"/>
<path d="M85.1,48.5l4.2,1.5" stroke="#0d2f86" stroke-width="0.8" stroke-linecap="round"/>
<path d="M89.0,67.8l4.2,1.8" stroke="#20dc20" stroke-width="0.8" stroke-linecap="round"/>
<path d="M115.5,75.5l3.2,0.4" stroke="#f0a21e" stroke-width="0.9" stroke-linecap="round"/>
<path d="M117.9,59.1l6.1,2.1" stroke="#f0a21e" stroke-width="1.0" stroke-linecap="round"/>
<path d="M114.6,30.6l3.0,1.2" stroke="#0d2f86" stroke-width="0.9" stroke-linecap="round"/>
<path d="M92.6,24.7l6.5,1.6" stroke="#20dc20" stroke-width="0.7" stroke-linecap="round"/>
<path d="M82.2,48.1l3.2,0.8" stroke="#0d2f86" stroke-width="0.7" stroke-linecap="round"/>
<path d="M60.6,60.0l2.9,0.4" stroke="#20dc20" stroke-width="0.9" stroke-linecap="round"/>
<path d="M148.2,40.3l0.2,6.8" stroke="#20dc20" stroke-width="0.8" stroke-linecap="round"/>
<path d="M61.3,53.3l5.9,2.5" stroke="#20dc20" stroke-width="1.1" stroke-linecap="round"/>
<path d="M110.1,55.9l3.3,1.7" stroke="#2a9c96" stroke-width="1.0" stroke-linecap="round"/>
<path d="M130.8,50.2l2.8,5.7" stroke="#f8f500" stroke-width="0.8" stroke-linecap="round"/>
<path d="M71.0,65.3l3.9,0.6" stroke="#f8f500" stroke-width="1.0" stroke-linecap="round"/>
<path d="M104.7,73.7l5.9,1.3" stroke="#f0a21e" stroke-width="0.7" stroke-linecap="round"/>
<path d="M151.0,22.3l5.0,1.6" stroke="#d4553a" stroke-width="0.7" stroke-linecap="round"/>
<path d="M126.4,55.2l3.3,4.8" stroke="#f0a21e" stroke-width="0.7" stroke-linecap="round"/>
<path d="M58.4,53.1l5.8,0.6" stroke="#20dc20" stroke-width="0.9" stroke-linecap="round"/>
<path d="M62.0,52.4l4.9,0.8" stroke="#0d2f86" stroke-width="1.0" stroke-linecap="round"/>
<path d="M110.1,46.9l6.8,0.9" stroke="#0d2f86" stroke-width="0.8" stroke-linecap="round"/>
<path d="M58.3,40.7l4.1,1.2" stroke="#2a9c96" stroke-width="0.9" stroke-linecap="round"/>
<path d="M61.7,60.7l4.0,1.4" stroke="#f8f500" stroke-width="1.0" stroke-linecap="round"/>
<path d="M129.8,39.9l4.1,2.1" stroke="#f8f500" stroke-width="1.1" stroke-linecap="round"/>
<path d="M121.8,61.7l4.6,4.6" stroke="#f0a21e" stroke-width="0.9" stroke-linecap="round"/>
<path d="M156.2,43.1l-0.6,4.3" stroke="#f8f500" stroke-width="0.6" stroke-linecap="round"/>
<path d="M142.3,33.9l6.1,0.9" stroke="#2a9c96" stroke-width="1.1" stroke-linecap="round"/>
<path d="M126.6,20.9l4.8,0.6" stroke="#f0a21e" stroke-width="0.8" stroke-linecap="round"/>
<path d="M79.1,26.5l6.5,2.0" stroke="#2a9c96" stroke-width="1.0" stroke-linecap="round"/>
<path d="M150.4,44.5l-0.0,2.6" stroke="#20dc20" stroke-width="0.8" stroke-linecap="round"/>
<path d="M105.0,66.2l2.5,0.5" stroke="#f8f500" stroke-width="0.7" stroke-linecap="round"/>
<path d="M108.6,65.7l4.9,1.8" stroke="#f8f500" stroke-width="0.6" stroke-linecap="round"/>
<path d="M122.5,42.6l3.0,5.1" stroke="#20dc20" stroke-width="0.8" stroke-linecap="round"/>
<path d="M77.4,44.2l5.4,1.4" stroke="#0d2f86" stroke-width="0.8" stroke-linecap="round"/>
<path d="M135.8,43.3l1.2,4.1" stroke="#f8f500" stroke-width="1.1" stroke-linecap="round"/>
<path d="M49.7,29.6l3.6,1.5" stroke="#2a9c96" stroke-width="0.7" stroke-linecap="round"/>
<path d="M66.1,50.1l2.6,0.7" stroke="#20dc20" stroke-width="0.8" stroke-linecap="round"/>
<path d="M158.9,49.7l-1.0,4.6" stroke="#d4553a" stroke-width="1.0" stroke-linecap="round"/>
<path d="M114.4,55.0l5.8,1.5" stroke="#f8f500" stroke-width="0.8" stroke-linecap="round"/>
<path d="M148.3,27.3l4.5,1.1" stroke="#f8f500" stroke-width="1.0" stroke-linecap="round"/>
<path d="M129.7,20.5l6.2,3.2" stroke="#f0a21e" stroke-width="0.9" stroke-linecap="round"/>
<path d="M82.3,63.9l6.0,0.6" stroke="#f8f500" stroke-width="0.7" stroke-linecap="round"/>
<path d="M145.2,15.4l2.5,1.0" stroke="#0d2f86" stroke-width="0.6" stroke-linecap="round"/>
<path d="M74.1,42.8l2.7,1.5" stroke="#20dc20" stroke-width="0.9" stroke-linecap="round"/>
<path d="M79.6,59.0l4.3,0.4" stroke="#f8f500" stroke-width="1.0" stroke-linecap="round"/>
<path d="M57.2,59.0l6.6,1.0" stroke="#2a9c96" stroke-width="0.6" stroke-linecap="round"/>
<path d="M154.9,69.7l-0.8,3.3" stroke="#f0a21e" stroke-width="1.0" stroke-linecap="round"/>
<path d="M106.8,32.8l3.2,1.8" stroke="#20dc20" stroke-width="0.6" stroke-linecap="round"/>
<path d="M140.1,71.3l3.0,5.6" stroke="#f0a21e" stroke-width="0.9" stroke-linecap="round"/>
<path d="M149.5,82.8l0.3,4.6" stroke="#f0a21e" stroke-width="0.9" stroke-linecap="round"/>
<path d="M150.0,55.8l-0.0,5.2" stroke="#f8f500" stroke-width="0.9" stroke-linecap="round"/>
<path d="M161.2,54.5l-1.1,3.5" stroke="#d4553a" stroke-width="1.0" stroke-linecap="round"/>
<path d="M138.6,27.6l4.9,1.4" stroke="#f0a21e" stroke-width="0.8" stroke-linecap="round"/>
<path d="M151.7,29.4l3.7,1.8" stroke="#f8f500" stroke-width="0.9" stroke-linecap="round"/>
<path d="M102.0,20.8l5.1,0.7" stroke="#20dc20" stroke-width="1.0" stroke-linecap="round"/>
<path d="M103.3,55.9l6.8,1.7" stroke="#f8f500" stroke-width="0.8" stroke-linecap="round"/>
<path d="M145.9,39.8l4.3,0.5" stroke="#2a9c96" stroke-width="1.1" stroke-linecap="round"/>
<path d="M119.1,22.5l3.3,1.4" stroke="#d4553a" stroke-width="0.8" stroke-linecap="round"/>
<path d="M121.4,38.9l3.1,0.3" stroke="#0d2f86" stroke-width="1.0" stroke-linecap="round"/>
<path d="M88.6,47.4l6.3,0.6" stroke="#0d2f86" stroke-width="0.9" stroke-linecap="round"/>
<path d="M92.1,70.7l5.5,0.9" stroke="#f0a21e" stroke-width="0.7" stroke-linecap="round"/>
<path d="M92.0,64.0l2.8,0.8" stroke="#f0a21e" stroke-width="1.1" stroke-linecap="round"/>
<path d="M144.1,13.3l5.2,1.7" stroke="#f8f500" stroke-width="0.8" stroke-linecap="round"/>
<path d="M137.9,67.2l3.0,5.6" stroke="#f0a21e" stroke-width="1.0" stroke-linecap="round"/>
<path d="M104.3,49.8l2.4,1.0" stroke="#20dc20" stroke-width="0.9" stroke-linecap="round"/>
<path d="M156.1,36.6l5.0,0.6" stroke="#d4553a" stroke-width="0.9" stroke-linecap="round"/>
<path d="M153.7,20.7l4.2,0.6" stroke="#f8f500" stroke-width="1.0" stroke-linecap="round"/>
<path d="M137.2,71.6l2.8,4.0" stroke="#f0a21e" stroke-width="0.8" stroke-linecap="round"/>
<path d="M95.3,58.0l5.7,2.7" stroke="#f8f500" stroke-width="0.9" stroke-linecap="round"/>
<path d="M158.7,27.8l6.1,2.6" stroke="#f0a21e" stroke-width="0.6" stroke-linecap="round"/>
<path d="M87.1,37.6l5.3,1.4" stroke="#20dc20" stroke-width="0.9" stroke-linecap="round"/>
<path d="M100.4,27.6l3.7,1.6" stroke="#2a9c96" stroke-width="0.7" stroke-linecap="round"/>
<path d="M98.7,48.3l4.4,0.8" stroke="#20dc20" stroke-width="0.6" stroke-linecap="round"/>
<path d="M109.9,38.5l6.1,2.9" stroke="#20dc20" stroke-width="0.8" stroke-linecap="round"/>
<path d="M80.3,65.2l3.2,1.3" stroke="#f8f500" stroke-width="0.7" stroke-linecap="round"/>
<path d="M170.7,52.9l-1.9,3.5" stroke="#f8f500" stroke-width="1.1" stroke-linecap="round"/>
<path d="M127.7,36.5l4.5,2.0" stroke="#2a9c96" stroke-width="0.9" stroke-linecap="round"/>
<path d="M157.5,49.5l-0.6,3.0" stroke="#d4553a" stroke-width="0.6" stroke-linecap="round"/>
<path d="M70.6,36.4l3.4,0.5" stroke="#20dc20" stroke-width="0.8" stroke-linecap="round"/>
</g></g>
<rect x="13.6" y="8.2" width="167.50" height="78.70" fill="none" stroke="#858585" stroke-width="1.0"/>
<path d="M24.30,86.90v1.5M50.55,86.90v1.5M76.80,86.90v1.5M103.05,86.90v1.5M129.30,86.90v1.5M155.55,86.90v1.5M13.60,11.10h-1.1M13.60,37.35h-1.1M13.60,63.60h-1.1" stroke="#222" stroke-width="0.8" fill="none"/>
<text class="tl" x="24.30" y="93.7" text-anchor="middle">75°E</text>
<text class="tl" x="50.55" y="93.7" text-anchor="middle">80°E</text>
<text class="tl" x="76.80" y="93.7" text-anchor="middle">85°E</text>
<text class="tl" x="103.05" y="93.7" text-anchor="middle">90°E</text>
<text class="tl" x="129.30" y="93.7" text-anchor="middle">95°E</text>
<text class="tl" x="155.55" y="93.7" text-anchor="middle">100°E</text>
<text class="tl" transform="translate(10.6,11.10) rotate(-90)" text-anchor="middle">40°N</text>
<text class="tl" transform="translate(10.6,37.35) rotate(-90)" text-anchor="middle">35°N</text>
<text class="tl" transform="translate(10.6,63.60) rotate(-90)" text-anchor="middle">30°N</text>
<text class="ml" x="31.5" y="15.2">Dec</text>
<text class="lt" x="16.9" y="55.0">δ<tspan font-size="3.2px" dy="-1.6">18</tspan><tspan dy="1.6">O</tspan></text><text class="lt" x="30.3" y="55.0" textLength="9.3" lengthAdjust="spacingAndGlyphs">(‰)</text>
<rect x="16.0" y="57.10" width="9.7" height="4.62" fill="#0d2f86"/>
<rect x="16.0" y="61.67" width="9.7" height="4.62" fill="#2a9c96"/>
<rect x="16.0" y="66.24" width="9.7" height="4.62" fill="#20dc20"/>
<rect x="16.0" y="70.81" width="9.7" height="4.62" fill="#f8f500"/>
<rect x="16.0" y="75.38" width="9.7" height="4.62" fill="#f0a21e"/>
<rect x="16.0" y="79.95" width="9.7" height="4.62" fill="#d4553a"/>
<text class="ll" x="27.8" y="62.77">-17.66</text>
<text class="ll" x="27.8" y="67.34">-15.31</text>
<text class="ll" x="27.8" y="71.91">-13.07</text>
<text class="ll" x="27.8" y="76.48">-11.13</text>
<text class="ll" x="27.8" y="81.05">-10.38</text>
</g>
</svg></body></html>
